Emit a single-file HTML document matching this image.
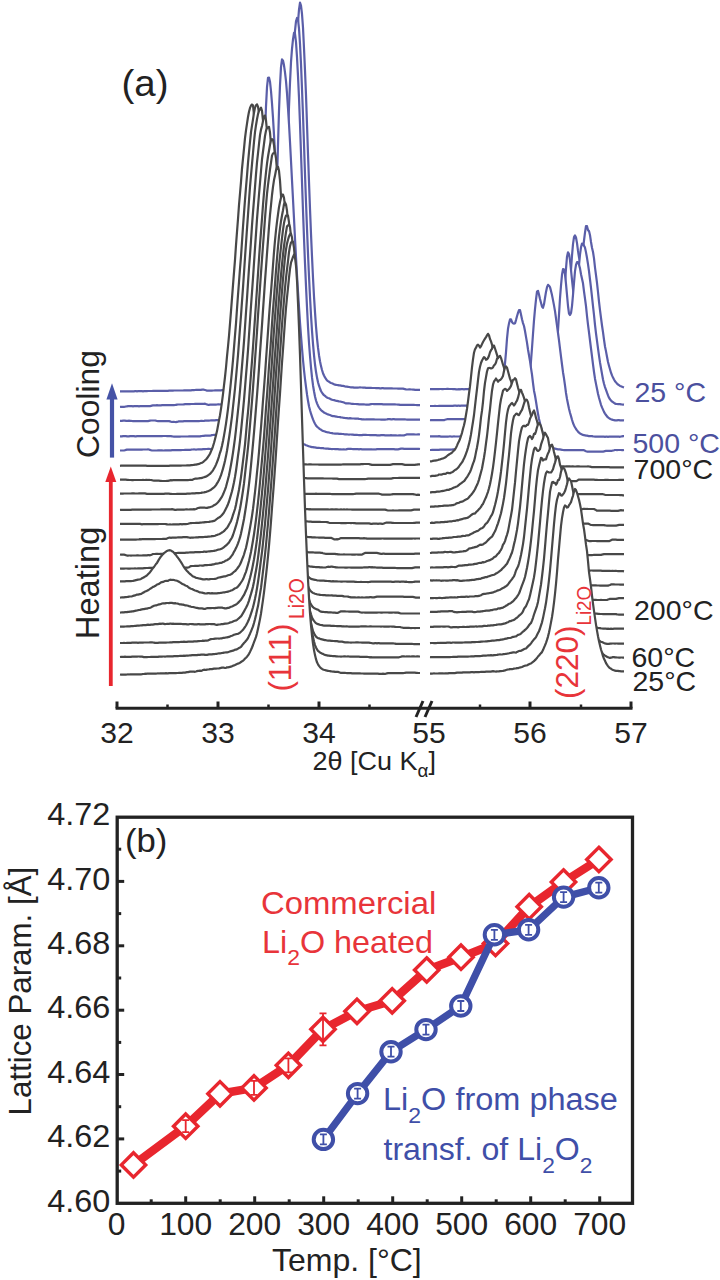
<!DOCTYPE html>
<html><head><meta charset="utf-8"><style>
html,body{margin:0;padding:0;background:#fff;width:720px;height:1280px;overflow:hidden;font-family:"Liberation Sans",sans-serif}
</style></head><body>
<svg width="720" height="1280" viewBox="0 0 720 1280" style="position:absolute;left:0;top:0">
<rect width="720" height="1280" fill="#ffffff"/>
<polygon points="120,391.3 121,391.3 122,391.3 123,391.3 124,391.3 125,391.3 126,391.3 127,391.3 128,391.3 129,391.3 130,391.3 131,391.3 132,391.3 133,391.3 134,391.3 135,391.2 136,391.2 137,391.3 138,391.2 139,391.2 140,391.2 141,391.2 142,391.2 143,391.3 144,391.2 145,391.2 146,391.2 147,391.1 148,391 149,391 150,391 151,391 152,391 153,390.9 154,390.9 155,390.9 156,390.9 157,390.9 158,390.9 159,390.9 160,390.9 161,390.9 162,390.8 163,390.9 164,390.8 165,390.8 166,390.8 167,390.9 168,390.8 169,390.7 170,390.6 171,390.5 172,390.6 173,390.6 174,390.5 175,390.5 176,390.5 177,390.5 178,390.5 179,390.5 180,390.5 181,390.5 182,390.5 183,390.5 184,390.4 185,390.4 186,390.4 187,390.4 188,390.4 189,390.3 190,390.3 191,390.3 192,390.2 193,390.2 194,390.1 195,390 196,389.9 197,389.9 198,389.8 199,389.8 200,389.8 201,389.8 202,389.7 203,389.7 204,389.7 205,390 206,390.3 207,390.7 208,390.6 209,390.6 210,390.6 211,390.6 212,390.6 213,390.5 214,390.5 215,390.4 216,390.4 217,390.3 218,390.4 219,390.3 220,390.3 221,390.3 222,390.2 223,390.2 224,390.2 225,390.2 226,390 227,390.1 228,390.1 229,390 230,389.9 231,389.9 232,389.7 233,389.5 234,389.4 235,389.3 236,389.2 237,389.1 238,389.1 239,389.2 240,389.3 241,389.2 242,389.2 243,389 244,388.9 245,388.8 246,388.8 247,388.7 248,388.6 249,388.4 250,388.3 251,388.4 252,388.2 253,387.9 254,387.8 255,387.8 256,387.5 257,387.2 258,387.1 259,386.8 260,386.7 261,386.5 262,386.2 263,385.7 264,385.2 265,384.7 266,384.3 267,383.8 268,383.3 269,383 270,382.6 271,381.9 272,381.3 273,380.5 274,379.6 275,378.7 276,377.6 277,376 278,374.1 279,371.8 280,368.7 281,364.4 282,358.6 283,351 284,342 285,331 286,316.2 287,298.6 288,278.2 289,254.5 290,227.8 291,198.1 292,167.7 293,136.3 294,105.9 295,79.5 296,55.8 297,36.9 298,22 299,9.7 300,2.7 301,5.7 302,14 303,27.6 304,48.2 305,70.5 306,95 307,124.2 308,154 309,181.9 310,208.9 311,233.9 312,256.5 313,277.7 314,296.5 315,312.1 316,326.3 317,338.2 318,347.7 319,355.2 320,361.2 321,366.1 322,370 323,373.2 324,375.5 325,377.4 326,379 327,380.3 328,381.1 329,381.7 330,382.5 331,383 332,383.3 333,383.7 334,384.3 335,384.7 336,384.8 337,385 338,385.2 339,385.4 340,385.4 341,385.6 342,385.8 343,385.8 344,386.1 345,386.5 346,386.7 347,386.7 348,386.8 349,387 350,387.2 351,387.3 352,387.3 353,387.4 354,387.6 355,387.7 356,387.7 357,387.7 358,387.6 359,387.5 360,387.4 361,387.5 362,387.5 363,387.6 364,387.6 365,387.7 366,387.9 367,387.8 368,387.8 369,387.9 370,387.8 371,387.8 372,388 373,388 374,388 375,388 376,388.1 377,388.2 378,388.2 379,388.2 380,388.3 381,388.3 382,388.2 383,388.2 384,388.3 385,388.4 386,388.4 387,388.4 388,388.4 389,388.4 390,388.4 391,388.4 392,388.4 393,388.5 394,388.5 395,388.5 396,388.5 397,388.5 398,388.6 399,388.6 400,388.6 401,388.6 402,388.5 403,388.6 404,388.9 405,389.2 406,389.4 407,389.5 408,389.5 409,389.4 410,389.4 411,389.5 412,389.5 413,389.6 414,389.7 415,389.8 416,389.8 417,389.8 418,389.8 419,389.8 420,389.8 420,392.9 120,393.4" fill="#fff"/><polyline points="120,391.3 121,391.3 122,391.3 123,391.3 124,391.3 125,391.3 126,391.3 127,391.3 128,391.3 129,391.3 130,391.3 131,391.3 132,391.3 133,391.3 134,391.3 135,391.2 136,391.2 137,391.3 138,391.2 139,391.2 140,391.2 141,391.2 142,391.2 143,391.3 144,391.2 145,391.2 146,391.2 147,391.1 148,391 149,391 150,391 151,391 152,391 153,390.9 154,390.9 155,390.9 156,390.9 157,390.9 158,390.9 159,390.9 160,390.9 161,390.9 162,390.8 163,390.9 164,390.8 165,390.8 166,390.8 167,390.9 168,390.8 169,390.7 170,390.6 171,390.5 172,390.6 173,390.6 174,390.5 175,390.5 176,390.5 177,390.5 178,390.5 179,390.5 180,390.5 181,390.5 182,390.5 183,390.5 184,390.4 185,390.4 186,390.4 187,390.4 188,390.4 189,390.3 190,390.3 191,390.3 192,390.2 193,390.2 194,390.1 195,390 196,389.9 197,389.9 198,389.8 199,389.8 200,389.8 201,389.8 202,389.7 203,389.7 204,389.7 205,390 206,390.3 207,390.7 208,390.6 209,390.6 210,390.6 211,390.6 212,390.6 213,390.5 214,390.5 215,390.4 216,390.4 217,390.3 218,390.4 219,390.3 220,390.3 221,390.3 222,390.2 223,390.2 224,390.2 225,390.2 226,390 227,390.1 228,390.1 229,390 230,389.9 231,389.9 232,389.7 233,389.5 234,389.4 235,389.3 236,389.2 237,389.1 238,389.1 239,389.2 240,389.3 241,389.2 242,389.2 243,389 244,388.9 245,388.8 246,388.8 247,388.7 248,388.6 249,388.4 250,388.3 251,388.4 252,388.2 253,387.9 254,387.8 255,387.8 256,387.5 257,387.2 258,387.1 259,386.8 260,386.7 261,386.5 262,386.2 263,385.7 264,385.2 265,384.7 266,384.3 267,383.8 268,383.3 269,383 270,382.6 271,381.9 272,381.3 273,380.5 274,379.6 275,378.7 276,377.6 277,376 278,374.1 279,371.8 280,368.7 281,364.4 282,358.6 283,351 284,342 285,331 286,316.2 287,298.6 288,278.2 289,254.5 290,227.8 291,198.1 292,167.7 293,136.3 294,105.9 295,79.5 296,55.8 297,36.9 298,22 299,9.7 300,2.7 301,5.7 302,14 303,27.6 304,48.2 305,70.5 306,95 307,124.2 308,154 309,181.9 310,208.9 311,233.9 312,256.5 313,277.7 314,296.5 315,312.1 316,326.3 317,338.2 318,347.7 319,355.2 320,361.2 321,366.1 322,370 323,373.2 324,375.5 325,377.4 326,379 327,380.3 328,381.1 329,381.7 330,382.5 331,383 332,383.3 333,383.7 334,384.3 335,384.7 336,384.8 337,385 338,385.2 339,385.4 340,385.4 341,385.6 342,385.8 343,385.8 344,386.1 345,386.5 346,386.7 347,386.7 348,386.8 349,387 350,387.2 351,387.3 352,387.3 353,387.4 354,387.6 355,387.7 356,387.7 357,387.7 358,387.6 359,387.5 360,387.4 361,387.5 362,387.5 363,387.6 364,387.6 365,387.7 366,387.9 367,387.8 368,387.8 369,387.9 370,387.8 371,387.8 372,388 373,388 374,388 375,388 376,388.1 377,388.2 378,388.2 379,388.2 380,388.3 381,388.3 382,388.2 383,388.2 384,388.3 385,388.4 386,388.4 387,388.4 388,388.4 389,388.4 390,388.4 391,388.4 392,388.4 393,388.5 394,388.5 395,388.5 396,388.5 397,388.5 398,388.6 399,388.6 400,388.6 401,388.6 402,388.5 403,388.6 404,388.9 405,389.2 406,389.4 407,389.5 408,389.5 409,389.4 410,389.4 411,389.5 412,389.5 413,389.6 414,389.7 415,389.8 416,389.8 417,389.8 418,389.8 419,389.8 420,389.8" fill="none" stroke="#5a5ea8" stroke-width="2.2" stroke-linejoin="round"/>
<polygon points="120,406.9 121,406.8 122,406.9 123,406.8 124,406.8 125,406.7 126,406.5 127,406.3 128,406.2 129,406.2 130,406.2 131,406.2 132,406.2 133,406.3 134,406.2 135,406.2 136,406.2 137,406.2 138,406.2 139,406.3 140,406.2 141,406.2 142,406.2 143,406.2 144,406.2 145,406.1 146,406.1 147,406.1 148,406.2 149,406.2 150,406.2 151,405.9 152,405.6 153,405.3 154,405.3 155,405.3 156,405.3 157,405.2 158,405.3 159,405.3 160,405.3 161,405.3 162,405.2 163,405.2 164,405.2 165,405.2 166,405.2 167,405.2 168,405.2 169,405.2 170,405.1 171,405.2 172,405.2 173,405.1 174,405.1 175,405 176,404.8 177,404.6 178,404.5 179,404.5 180,404.5 181,404.5 182,404.5 183,404.5 184,404.3 185,404.2 186,404.1 187,404.1 188,404.1 189,404.1 190,404.1 191,404 192,404 193,404 194,404 195,403.9 196,403.9 197,403.9 198,403.9 199,403.8 200,403.8 201,403.9 202,403.8 203,403.8 204,403.8 205,403.7 206,404.1 207,404.4 208,404.8 209,404.8 210,404.7 211,404.7 212,404.6 213,404.6 214,404.6 215,404.6 216,404.6 217,404.5 218,404.4 219,404.4 220,404.5 221,404.4 222,404.3 223,404.2 224,404.2 225,404.2 226,404.1 227,404 228,404.1 229,404.1 230,404 231,404 232,404 233,404 234,403.9 235,403.8 236,403.8 237,403.7 238,403.6 239,403.6 240,403.4 241,403.2 242,403.3 243,403.3 244,403.1 245,403 246,402.9 247,402.8 248,402.8 249,402.6 250,402.2 251,402.1 252,401.9 253,401.9 254,401.8 255,401.5 256,401.1 257,401 258,401.1 259,400.7 260,400.4 261,400.2 262,399.9 263,399.6 264,399 265,398.6 266,398 267,397.8 268,397.4 269,396.6 270,395.7 271,394.6 272,393.7 273,392.7 274,391.2 275,389.3 276,386.6 277,383.4 278,379.3 279,373.9 280,367.1 281,357.4 282,344.9 283,330.3 284,312.5 285,291.2 286,267.1 287,239.7 288,210.4 289,179.8 290,148.2 291,117.8 292,89.5 293,65 294,45.4 295,30.7 296,21.4 297,18 298,19.4 299,28.5 300,43.9 301,63.9 302,89 303,115.3 304,144.1 305,174.1 306,202.2 307,228.8 308,253.6 309,276.2 310,296.8 311,315.1 312,330.8 313,343.9 314,355.1 315,364.5 316,371.8 317,377.6 318,382.3 319,385.7 320,388.5 321,391 322,392.7 323,394.1 324,395.1 325,395.9 326,396.8 327,397.5 328,398 329,398.3 330,398.8 331,399.4 332,399.7 333,400 334,400.1 335,400.4 336,400.8 337,400.8 338,401.2 339,401.4 340,401.5 341,401.7 342,402 343,402.2 344,402.5 345,403 346,403.4 347,403.4 348,403.4 349,403.4 350,403.5 351,403.7 352,403.8 353,403.9 354,404 355,404 356,404 357,404.1 358,404.2 359,404.3 360,404.3 361,404.3 362,404.4 363,404.4 364,404.4 365,404.5 366,404.6 367,404.6 368,404.6 369,404.6 370,404.4 371,404.2 372,404 373,404 374,404.2 375,404.2 376,404.2 377,404.2 378,404.2 379,404.1 380,404.1 381,404.2 382,404.2 383,404.3 384,404.3 385,404.3 386,404.3 387,404.3 388,404.3 389,404.3 390,404.4 391,404.4 392,404.4 393,404.4 394,404.4 395,404.4 396,404.5 397,404.5 398,404.6 399,404.6 400,404.8 401,404.8 402,404.9 403,404.8 404,404.8 405,404.8 406,404.9 407,404.8 408,404.9 409,404.9 410,404.9 411,404.9 412,404.9 413,404.9 414,404.9 415,405 416,405 417,405.1 418,405.1 419,405.1 420,405.1 420,407.5 120,408" fill="#fff"/><polyline points="120,406.9 121,406.8 122,406.9 123,406.8 124,406.8 125,406.7 126,406.5 127,406.3 128,406.2 129,406.2 130,406.2 131,406.2 132,406.2 133,406.3 134,406.2 135,406.2 136,406.2 137,406.2 138,406.2 139,406.3 140,406.2 141,406.2 142,406.2 143,406.2 144,406.2 145,406.1 146,406.1 147,406.1 148,406.2 149,406.2 150,406.2 151,405.9 152,405.6 153,405.3 154,405.3 155,405.3 156,405.3 157,405.2 158,405.3 159,405.3 160,405.3 161,405.3 162,405.2 163,405.2 164,405.2 165,405.2 166,405.2 167,405.2 168,405.2 169,405.2 170,405.1 171,405.2 172,405.2 173,405.1 174,405.1 175,405 176,404.8 177,404.6 178,404.5 179,404.5 180,404.5 181,404.5 182,404.5 183,404.5 184,404.3 185,404.2 186,404.1 187,404.1 188,404.1 189,404.1 190,404.1 191,404 192,404 193,404 194,404 195,403.9 196,403.9 197,403.9 198,403.9 199,403.8 200,403.8 201,403.9 202,403.8 203,403.8 204,403.8 205,403.7 206,404.1 207,404.4 208,404.8 209,404.8 210,404.7 211,404.7 212,404.6 213,404.6 214,404.6 215,404.6 216,404.6 217,404.5 218,404.4 219,404.4 220,404.5 221,404.4 222,404.3 223,404.2 224,404.2 225,404.2 226,404.1 227,404 228,404.1 229,404.1 230,404 231,404 232,404 233,404 234,403.9 235,403.8 236,403.8 237,403.7 238,403.6 239,403.6 240,403.4 241,403.2 242,403.3 243,403.3 244,403.1 245,403 246,402.9 247,402.8 248,402.8 249,402.6 250,402.2 251,402.1 252,401.9 253,401.9 254,401.8 255,401.5 256,401.1 257,401 258,401.1 259,400.7 260,400.4 261,400.2 262,399.9 263,399.6 264,399 265,398.6 266,398 267,397.8 268,397.4 269,396.6 270,395.7 271,394.6 272,393.7 273,392.7 274,391.2 275,389.3 276,386.6 277,383.4 278,379.3 279,373.9 280,367.1 281,357.4 282,344.9 283,330.3 284,312.5 285,291.2 286,267.1 287,239.7 288,210.4 289,179.8 290,148.2 291,117.8 292,89.5 293,65 294,45.4 295,30.7 296,21.4 297,18 298,19.4 299,28.5 300,43.9 301,63.9 302,89 303,115.3 304,144.1 305,174.1 306,202.2 307,228.8 308,253.6 309,276.2 310,296.8 311,315.1 312,330.8 313,343.9 314,355.1 315,364.5 316,371.8 317,377.6 318,382.3 319,385.7 320,388.5 321,391 322,392.7 323,394.1 324,395.1 325,395.9 326,396.8 327,397.5 328,398 329,398.3 330,398.8 331,399.4 332,399.7 333,400 334,400.1 335,400.4 336,400.8 337,400.8 338,401.2 339,401.4 340,401.5 341,401.7 342,402 343,402.2 344,402.5 345,403 346,403.4 347,403.4 348,403.4 349,403.4 350,403.5 351,403.7 352,403.8 353,403.9 354,404 355,404 356,404 357,404.1 358,404.2 359,404.3 360,404.3 361,404.3 362,404.4 363,404.4 364,404.4 365,404.5 366,404.6 367,404.6 368,404.6 369,404.6 370,404.4 371,404.2 372,404 373,404 374,404.2 375,404.2 376,404.2 377,404.2 378,404.2 379,404.1 380,404.1 381,404.2 382,404.2 383,404.3 384,404.3 385,404.3 386,404.3 387,404.3 388,404.3 389,404.3 390,404.4 391,404.4 392,404.4 393,404.4 394,404.4 395,404.4 396,404.5 397,404.5 398,404.6 399,404.6 400,404.8 401,404.8 402,404.9 403,404.8 404,404.8 405,404.8 406,404.9 407,404.8 408,404.9 409,404.9 410,404.9 411,404.9 412,404.9 413,404.9 414,404.9 415,405 416,405 417,405.1 418,405.1 419,405.1 420,405.1" fill="none" stroke="#5a5ea8" stroke-width="2.2" stroke-linejoin="round"/>
<polygon points="120,420.8 121,420.8 122,420.8 123,420.7 124,420.7 125,420.7 126,420.8 127,420.8 128,420.8 129,420.7 130,420.8 131,420.9 132,421 133,421.2 134,421.2 135,421.2 136,421.2 137,421.2 138,421.2 139,421.2 140,421.2 141,421.1 142,421.1 143,421.2 144,421.1 145,421.2 146,421.1 147,421.1 148,421.1 149,420.9 150,420.7 151,420.5 152,420.5 153,420.5 154,420.5 155,420.5 156,420.7 157,421 158,421.2 159,421.1 160,421.1 161,421.1 162,421.1 163,421.1 164,421.1 165,421.1 166,421.1 167,421.1 168,421.1 169,421.1 170,421.4 171,421.7 172,422 173,421.9 174,421.9 175,422 176,422.1 177,421.8 178,421.6 179,421.3 180,421.3 181,421.3 182,421.3 183,421.3 184,421.2 185,421.2 186,421.2 187,421.2 188,421.2 189,421.2 190,421.2 191,421.1 192,421.1 193,421.1 194,421.1 195,421 196,421.1 197,421.1 198,421 199,421.1 200,421 201,420.9 202,420.9 203,421 204,420.9 205,420.7 206,420.6 207,420.5 208,420.6 209,420.6 210,420.5 211,420.4 212,420.4 213,420.3 214,420.3 215,420.3 216,420.2 217,420.2 218,420.1 219,420.1 220,420.1 221,420.1 222,420.1 223,420.1 224,419.9 225,419.8 226,419.8 227,419.7 228,419.7 229,419.7 230,419.5 231,419.4 232,419.3 233,419.1 234,419 235,419 236,418.9 237,418.8 238,418.8 239,418.6 240,418.6 241,418.4 242,418 243,417.7 244,417.4 245,417.2 246,417.1 247,417.1 248,416.8 249,416.5 250,416.4 251,416.3 252,416.1 253,415.9 254,415.6 255,415.4 256,415.3 257,415.1 258,415 259,414.9 260,414.4 261,413.8 262,413.3 263,413 264,412.4 265,411.7 266,411.2 267,410.4 268,409.5 269,408.5 270,407.2 271,405.3 272,403.5 273,401.1 274,397.9 275,393.3 276,387.6 277,380.9 278,371.8 279,359.9 280,345 281,327.6 282,306.8 283,282 284,254.7 285,226.4 286,196.1 287,164.9 288,134.4 289,106.7 290,82.7 291,62.2 292,48.8 293,39.3 294,32.8 295,33.8 296,42.1 297,57.1 298,75.9 299,97.7 300,124.3 301,153.3 302,182.2 303,211 304,238.2 305,263.3 306,286.1 307,307.2 308,326.7 309,342.7 310,355.9 311,367.3 312,377.4 313,385.2 314,391.3 315,396.5 316,400.5 317,403.3 318,405.7 319,407.5 320,409 321,410.1 322,411 323,411.7 324,412.6 325,413.1 326,413.5 327,414 328,414.4 329,414.7 330,415 331,415.4 332,415.9 333,416.2 334,416.2 335,416.3 336,416.6 337,416.7 338,417 339,417 340,417.1 341,417.4 342,417.5 343,417.7 344,417.8 345,418 346,418.1 347,418.2 348,418.3 349,418.4 350,418.2 351,418.3 352,418.5 353,418.5 354,418.5 355,418.6 356,418.7 357,418.7 358,418.7 359,418.9 360,419 361,419.1 362,419.3 363,419.3 364,419.4 365,419.5 366,419.4 367,419.3 368,419.4 369,419.4 370,419.3 371,419.4 372,419.4 373,419.4 374,419.4 375,419.5 376,419.5 377,419.5 378,419.5 379,419.5 380,419.5 381,419.6 382,419.6 383,419.7 384,419.7 385,419.7 386,419.5 387,419.4 388,419.2 389,419.2 390,419.2 391,419.3 392,419.3 393,419.2 394,419.2 395,419.3 396,419.3 397,419.3 398,419.3 399,419.3 400,419.3 401,419.3 402,419.4 403,419.3 404,419.3 405,419.4 406,419.5 407,419.6 408,419.6 409,419.6 410,419.6 411,419.6 412,419.6 413,419.6 414,419.7 415,419.7 416,419.7 417,419.7 418,419.7 419,419.7 420,419.7 420,422.5 120,423" fill="#fff"/><polyline points="120,420.8 121,420.8 122,420.8 123,420.7 124,420.7 125,420.7 126,420.8 127,420.8 128,420.8 129,420.7 130,420.8 131,420.9 132,421 133,421.2 134,421.2 135,421.2 136,421.2 137,421.2 138,421.2 139,421.2 140,421.2 141,421.1 142,421.1 143,421.2 144,421.1 145,421.2 146,421.1 147,421.1 148,421.1 149,420.9 150,420.7 151,420.5 152,420.5 153,420.5 154,420.5 155,420.5 156,420.7 157,421 158,421.2 159,421.1 160,421.1 161,421.1 162,421.1 163,421.1 164,421.1 165,421.1 166,421.1 167,421.1 168,421.1 169,421.1 170,421.4 171,421.7 172,422 173,421.9 174,421.9 175,422 176,422.1 177,421.8 178,421.6 179,421.3 180,421.3 181,421.3 182,421.3 183,421.3 184,421.2 185,421.2 186,421.2 187,421.2 188,421.2 189,421.2 190,421.2 191,421.1 192,421.1 193,421.1 194,421.1 195,421 196,421.1 197,421.1 198,421 199,421.1 200,421 201,420.9 202,420.9 203,421 204,420.9 205,420.7 206,420.6 207,420.5 208,420.6 209,420.6 210,420.5 211,420.4 212,420.4 213,420.3 214,420.3 215,420.3 216,420.2 217,420.2 218,420.1 219,420.1 220,420.1 221,420.1 222,420.1 223,420.1 224,419.9 225,419.8 226,419.8 227,419.7 228,419.7 229,419.7 230,419.5 231,419.4 232,419.3 233,419.1 234,419 235,419 236,418.9 237,418.8 238,418.8 239,418.6 240,418.6 241,418.4 242,418 243,417.7 244,417.4 245,417.2 246,417.1 247,417.1 248,416.8 249,416.5 250,416.4 251,416.3 252,416.1 253,415.9 254,415.6 255,415.4 256,415.3 257,415.1 258,415 259,414.9 260,414.4 261,413.8 262,413.3 263,413 264,412.4 265,411.7 266,411.2 267,410.4 268,409.5 269,408.5 270,407.2 271,405.3 272,403.5 273,401.1 274,397.9 275,393.3 276,387.6 277,380.9 278,371.8 279,359.9 280,345 281,327.6 282,306.8 283,282 284,254.7 285,226.4 286,196.1 287,164.9 288,134.4 289,106.7 290,82.7 291,62.2 292,48.8 293,39.3 294,32.8 295,33.8 296,42.1 297,57.1 298,75.9 299,97.7 300,124.3 301,153.3 302,182.2 303,211 304,238.2 305,263.3 306,286.1 307,307.2 308,326.7 309,342.7 310,355.9 311,367.3 312,377.4 313,385.2 314,391.3 315,396.5 316,400.5 317,403.3 318,405.7 319,407.5 320,409 321,410.1 322,411 323,411.7 324,412.6 325,413.1 326,413.5 327,414 328,414.4 329,414.7 330,415 331,415.4 332,415.9 333,416.2 334,416.2 335,416.3 336,416.6 337,416.7 338,417 339,417 340,417.1 341,417.4 342,417.5 343,417.7 344,417.8 345,418 346,418.1 347,418.2 348,418.3 349,418.4 350,418.2 351,418.3 352,418.5 353,418.5 354,418.5 355,418.6 356,418.7 357,418.7 358,418.7 359,418.9 360,419 361,419.1 362,419.3 363,419.3 364,419.4 365,419.5 366,419.4 367,419.3 368,419.4 369,419.4 370,419.3 371,419.4 372,419.4 373,419.4 374,419.4 375,419.5 376,419.5 377,419.5 378,419.5 379,419.5 380,419.5 381,419.6 382,419.6 383,419.7 384,419.7 385,419.7 386,419.5 387,419.4 388,419.2 389,419.2 390,419.2 391,419.3 392,419.3 393,419.2 394,419.2 395,419.3 396,419.3 397,419.3 398,419.3 399,419.3 400,419.3 401,419.3 402,419.4 403,419.3 404,419.3 405,419.4 406,419.5 407,419.6 408,419.6 409,419.6 410,419.6 411,419.6 412,419.6 413,419.6 414,419.7 415,419.7 416,419.7 417,419.7 418,419.7 419,419.7 420,419.7" fill="none" stroke="#5a5ea8" stroke-width="2.2" stroke-linejoin="round"/>
<polygon points="120,436.3 121,436.3 122,436.3 123,436.2 124,436.2 125,436.2 126,436.2 127,436.3 128,436.3 129,436.3 130,436.2 131,436.2 132,436.2 133,436.2 134,436.2 135,436.3 136,436.3 137,436.2 138,436.2 139,436.2 140,436.2 141,436.2 142,436.2 143,436.2 144,436.2 145,436.1 146,436.2 147,436.2 148,436.1 149,436.1 150,436.1 151,436.1 152,436.2 153,436.2 154,436.1 155,436.1 156,436.1 157,436.1 158,436.1 159,436 160,436.1 161,436.1 162,436.1 163,436 164,436 165,436 166,436 167,436.1 168,436.1 169,436.1 170,436.1 171,436.2 172,436.3 173,436.5 174,436.7 175,436.7 176,436.6 177,436.6 178,436.6 179,436.6 180,436.6 181,436.5 182,436.5 183,436.5 184,436.5 185,436.5 186,436.5 187,436.5 188,436.5 189,436.4 190,436.4 191,436.4 192,436.4 193,436.4 194,436.3 195,436.4 196,436.4 197,436.3 198,436.3 199,436.4 200,436.3 201,436.1 202,436 203,435.9 204,435.8 205,435.7 206,435.7 207,435.6 208,435.6 209,435.6 210,435.6 211,435.4 212,435.1 213,435 214,434.9 215,434.9 216,434.9 217,434.9 218,434.8 219,434.9 220,435 221,435 222,435 223,434.9 224,434.8 225,434.8 226,434.8 227,434.6 228,434.6 229,434.5 230,434.4 231,434.4 232,434.3 233,434.2 234,434 235,433.8 236,433.6 237,433.5 238,433.5 239,433.4 240,433.2 241,432.9 242,432.9 243,432.8 244,432.6 245,432.4 246,432.3 247,432.1 248,431.7 249,431.8 250,432 251,432 252,431.5 253,431.2 254,430.7 255,430.2 256,429.8 257,429.4 258,428.7 259,427.7 260,426.8 261,425.9 262,424.8 263,423.1 264,420.5 265,417.2 266,412.8 267,407.4 268,399.8 269,389.2 270,375.9 271,359.3 272,338.9 273,313.8 274,284.6 275,251.5 276,215.8 277,181 278,144.6 279,110.7 280,85.2 281,67.1 282,59.3 283,60.6 284,65.3 285,72.4 286,81.1 287,93.3 288,108.2 289,124 290,142 291,161 292,180.4 293,199.2 294,218.6 295,238.5 296,257.2 297,275.2 298,291.7 299,307.2 300,322.5 301,335.9 302,348.4 303,360 304,370.1 305,379 306,386.9 307,394.4 308,400.8 309,406.3 310,410.3 311,413.7 312,416.6 313,419.4 314,421.7 315,423.7 316,425.5 317,426.7 318,427.5 319,428.3 320,429.1 321,429.7 322,430.5 323,431 324,431.2 325,431.5 326,432 327,432.2 328,432.3 329,432.5 330,432.8 331,433 332,433.2 333,433.4 334,433.5 335,433.7 336,433.7 337,433.7 338,433.7 339,433.8 340,433.8 341,433.9 342,434 343,434 344,434.2 345,434.3 346,434.4 347,434.4 348,434.5 349,434.6 350,434.5 351,434.5 352,434.6 353,434.7 354,434.8 355,434.9 356,434.9 357,434.9 358,435 359,435.1 360,435 361,435.1 362,435.1 363,434.9 364,434.9 365,434.9 366,434.9 367,435 368,435 369,435 370,435.1 371,435.1 372,435.2 373,435.2 374,435.2 375,435.2 376,435.2 377,435.3 378,435.3 379,435.3 380,435.3 381,435.2 382,435.1 383,435.2 384,435.2 385,435.3 386,435.3 387,435.3 388,435.4 389,435.3 390,435.3 391,435.2 392,435.3 393,435.4 394,435.4 395,435.4 396,435.4 397,435.5 398,435.5 399,435.4 400,435.4 401,435.4 402,435.5 403,435.4 404,435.5 405,435.1 406,434.7 407,434.3 408,434.3 409,434.3 410,434.4 411,434.4 412,434.4 413,434.4 414,434.4 415,434.5 416,434.5 417,434.5 418,434.4 419,434.4 420,434.5 420,438.2 120,438.7" fill="#fff"/><polyline points="120,436.3 121,436.3 122,436.3 123,436.2 124,436.2 125,436.2 126,436.2 127,436.3 128,436.3 129,436.3 130,436.2 131,436.2 132,436.2 133,436.2 134,436.2 135,436.3 136,436.3 137,436.2 138,436.2 139,436.2 140,436.2 141,436.2 142,436.2 143,436.2 144,436.2 145,436.1 146,436.2 147,436.2 148,436.1 149,436.1 150,436.1 151,436.1 152,436.2 153,436.2 154,436.1 155,436.1 156,436.1 157,436.1 158,436.1 159,436 160,436.1 161,436.1 162,436.1 163,436 164,436 165,436 166,436 167,436.1 168,436.1 169,436.1 170,436.1 171,436.2 172,436.3 173,436.5 174,436.7 175,436.7 176,436.6 177,436.6 178,436.6 179,436.6 180,436.6 181,436.5 182,436.5 183,436.5 184,436.5 185,436.5 186,436.5 187,436.5 188,436.5 189,436.4 190,436.4 191,436.4 192,436.4 193,436.4 194,436.3 195,436.4 196,436.4 197,436.3 198,436.3 199,436.4 200,436.3 201,436.1 202,436 203,435.9 204,435.8 205,435.7 206,435.7 207,435.6 208,435.6 209,435.6 210,435.6 211,435.4 212,435.1 213,435 214,434.9 215,434.9 216,434.9 217,434.9 218,434.8 219,434.9 220,435 221,435 222,435 223,434.9 224,434.8 225,434.8 226,434.8 227,434.6 228,434.6 229,434.5 230,434.4 231,434.4 232,434.3 233,434.2 234,434 235,433.8 236,433.6 237,433.5 238,433.5 239,433.4 240,433.2 241,432.9 242,432.9 243,432.8 244,432.6 245,432.4 246,432.3 247,432.1 248,431.7 249,431.8 250,432 251,432 252,431.5 253,431.2 254,430.7 255,430.2 256,429.8 257,429.4 258,428.7 259,427.7 260,426.8 261,425.9 262,424.8 263,423.1 264,420.5 265,417.2 266,412.8 267,407.4 268,399.8 269,389.2 270,375.9 271,359.3 272,338.9 273,313.8 274,284.6 275,251.5 276,215.8 277,181 278,144.6 279,110.7 280,85.2 281,67.1 282,59.3 283,60.6 284,65.3 285,72.4 286,81.1 287,93.3 288,108.2 289,124 290,142 291,161 292,180.4 293,199.2 294,218.6 295,238.5 296,257.2 297,275.2 298,291.7 299,307.2 300,322.5 301,335.9 302,348.4 303,360 304,370.1 305,379 306,386.9 307,394.4 308,400.8 309,406.3 310,410.3 311,413.7 312,416.6 313,419.4 314,421.7 315,423.7 316,425.5 317,426.7 318,427.5 319,428.3 320,429.1 321,429.7 322,430.5 323,431 324,431.2 325,431.5 326,432 327,432.2 328,432.3 329,432.5 330,432.8 331,433 332,433.2 333,433.4 334,433.5 335,433.7 336,433.7 337,433.7 338,433.7 339,433.8 340,433.8 341,433.9 342,434 343,434 344,434.2 345,434.3 346,434.4 347,434.4 348,434.5 349,434.6 350,434.5 351,434.5 352,434.6 353,434.7 354,434.8 355,434.9 356,434.9 357,434.9 358,435 359,435.1 360,435 361,435.1 362,435.1 363,434.9 364,434.9 365,434.9 366,434.9 367,435 368,435 369,435 370,435.1 371,435.1 372,435.2 373,435.2 374,435.2 375,435.2 376,435.2 377,435.3 378,435.3 379,435.3 380,435.3 381,435.2 382,435.1 383,435.2 384,435.2 385,435.3 386,435.3 387,435.3 388,435.4 389,435.3 390,435.3 391,435.2 392,435.3 393,435.4 394,435.4 395,435.4 396,435.4 397,435.5 398,435.5 399,435.4 400,435.4 401,435.4 402,435.5 403,435.4 404,435.5 405,435.1 406,434.7 407,434.3 408,434.3 409,434.3 410,434.4 411,434.4 412,434.4 413,434.4 414,434.4 415,434.5 416,434.5 417,434.5 418,434.4 419,434.4 420,434.5" fill="none" stroke="#5a5ea8" stroke-width="2.2" stroke-linejoin="round"/>
<polygon points="120,450.5 121,450.5 122,450.5 123,450.5 124,450.5 125,450.2 126,449.9 127,449.6 128,449.6 129,449.6 130,449.6 131,449.6 132,449.6 133,449.6 134,449.6 135,449.6 136,449.6 137,449.5 138,449.6 139,449.6 140,449.6 141,449.5 142,449.6 143,449.5 144,449.5 145,449.5 146,449.5 147,449.5 148,449.4 149,449.5 150,449.9 151,450.2 152,450.5 153,450.5 154,450.5 155,450.5 156,450.5 157,450.5 158,450.4 159,450.4 160,450.4 161,450.4 162,450.4 163,450.5 164,450.5 165,450.4 166,450.4 167,450.4 168,450.4 169,450.4 170,450.3 171,450.3 172,450.2 173,450.2 174,450.2 175,450.2 176,450.2 177,450.2 178,450.2 179,450.1 180,450.1 181,450.1 182,450 183,450 184,450 185,449.9 186,449.9 187,449.9 188,449.8 189,449.9 190,449.8 191,449.7 192,449.5 193,449.5 194,449.4 195,449.5 196,449.6 197,449.5 198,449.4 199,449.4 200,449.3 201,449.3 202,449.3 203,449.2 204,449.2 205,449.1 206,449 207,449 208,448.9 209,448.9 210,449 211,449.1 212,449.2 213,449.2 214,449.1 215,448.9 216,448.9 217,448.9 218,448.9 219,448.8 220,448.7 221,448.6 222,448.4 223,448.7 224,449.1 225,449.2 226,449.2 227,449.3 228,449 229,448.7 230,448.6 231,448.4 232,448.1 233,447.8 234,447.7 235,447.5 236,447.2 237,446.9 238,446.7 239,446.1 240,445.4 241,444.7 242,444.1 243,443.8 244,443.1 245,442.3 246,441.5 247,440.3 248,439 249,437.5 250,435.2 251,432.4 252,428.6 253,423 254,415.5 255,406.1 256,393.8 257,378.1 258,359.3 259,335.6 260,307 261,274.7 262,239.5 263,202.8 264,167 265,134 266,106.4 267,87.2 268,77.8 269,77.6 270,81.7 271,91 272,103.4 273,117.8 274,134.8 275,153.3 276,172.9 277,193.5 278,216.5 279,237.1 280,257.6 281,279.2 282,298.4 283,316.4 284,333.7 285,348.8 286,362.6 287,375.2 288,386 289,395.9 290,404.4 291,411.8 292,418 293,422.9 294,427.5 295,431.4 296,434.1 297,436.3 298,438.1 299,439.8 300,441.2 301,442 302,442.9 303,444 304,444.3 305,444.6 306,445.2 307,445.5 308,445.9 309,446.3 310,446.5 311,446.9 312,447.1 313,447.1 314,447.3 315,447.4 316,447.7 317,447.8 318,447.8 319,447.9 320,448 321,448.2 322,448.1 323,448.2 324,448.4 325,448.5 326,448.7 327,448.7 328,448.6 329,448.8 330,448.9 331,449 332,449.1 333,449 334,449 335,449.1 336,449.2 337,449.2 338,449.2 339,449.3 340,449.3 341,449.4 342,449.5 343,449.4 344,449.4 345,449.5 346,449.4 347,449.1 348,448.9 349,448.9 350,448.9 351,448.9 352,449 353,449.1 354,449.1 355,449.2 356,449.2 357,449.2 358,449.2 359,449.3 360,449.2 361,449.2 362,449.3 363,449.3 364,449.3 365,449.3 366,449.3 367,449.3 368,449.4 369,449.4 370,449.4 371,449.4 372,449.4 373,449.5 374,449.4 375,449.5 376,449.3 377,449.2 378,449.1 379,449.1 380,449.1 381,449.2 382,449.2 383,449.1 384,449.2 385,449.2 386,449.2 387,449.1 388,449.2 389,449.2 390,449.2 391,449.2 392,449.2 393,449.2 394,449.2 395,449.3 396,449.3 397,449.3 398,449.3 399,449.1 400,448.9 401,448.7 402,448.7 403,448.7 404,448.8 405,448.8 406,448.8 407,448.8 408,448.9 409,448.9 410,448.9 411,448.9 412,448.9 413,448.9 414,448.9 415,448.9 416,448.9 417,448.9 418,448.9 419,448.9 420,449 420,452.1 120,452.6" fill="#fff"/><polyline points="120,450.5 121,450.5 122,450.5 123,450.5 124,450.5 125,450.2 126,449.9 127,449.6 128,449.6 129,449.6 130,449.6 131,449.6 132,449.6 133,449.6 134,449.6 135,449.6 136,449.6 137,449.5 138,449.6 139,449.6 140,449.6 141,449.5 142,449.6 143,449.5 144,449.5 145,449.5 146,449.5 147,449.5 148,449.4 149,449.5 150,449.9 151,450.2 152,450.5 153,450.5 154,450.5 155,450.5 156,450.5 157,450.5 158,450.4 159,450.4 160,450.4 161,450.4 162,450.4 163,450.5 164,450.5 165,450.4 166,450.4 167,450.4 168,450.4 169,450.4 170,450.3 171,450.3 172,450.2 173,450.2 174,450.2 175,450.2 176,450.2 177,450.2 178,450.2 179,450.1 180,450.1 181,450.1 182,450 183,450 184,450 185,449.9 186,449.9 187,449.9 188,449.8 189,449.9 190,449.8 191,449.7 192,449.5 193,449.5 194,449.4 195,449.5 196,449.6 197,449.5 198,449.4 199,449.4 200,449.3 201,449.3 202,449.3 203,449.2 204,449.2 205,449.1 206,449 207,449 208,448.9 209,448.9 210,449 211,449.1 212,449.2 213,449.2 214,449.1 215,448.9 216,448.9 217,448.9 218,448.9 219,448.8 220,448.7 221,448.6 222,448.4 223,448.7 224,449.1 225,449.2 226,449.2 227,449.3 228,449 229,448.7 230,448.6 231,448.4 232,448.1 233,447.8 234,447.7 235,447.5 236,447.2 237,446.9 238,446.7 239,446.1 240,445.4 241,444.7 242,444.1 243,443.8 244,443.1 245,442.3 246,441.5 247,440.3 248,439 249,437.5 250,435.2 251,432.4 252,428.6 253,423 254,415.5 255,406.1 256,393.8 257,378.1 258,359.3 259,335.6 260,307 261,274.7 262,239.5 263,202.8 264,167 265,134 266,106.4 267,87.2 268,77.8 269,77.6 270,81.7 271,91 272,103.4 273,117.8 274,134.8 275,153.3 276,172.9 277,193.5 278,216.5 279,237.1 280,257.6 281,279.2 282,298.4 283,316.4 284,333.7 285,348.8 286,362.6 287,375.2 288,386 289,395.9 290,404.4 291,411.8 292,418 293,422.9 294,427.5 295,431.4 296,434.1 297,436.3 298,438.1 299,439.8 300,441.2 301,442 302,442.9 303,444 304,444.3 305,444.6 306,445.2 307,445.5 308,445.9 309,446.3 310,446.5 311,446.9 312,447.1 313,447.1 314,447.3 315,447.4 316,447.7 317,447.8 318,447.8 319,447.9 320,448 321,448.2 322,448.1 323,448.2 324,448.4 325,448.5 326,448.7 327,448.7 328,448.6 329,448.8 330,448.9 331,449 332,449.1 333,449 334,449 335,449.1 336,449.2 337,449.2 338,449.2 339,449.3 340,449.3 341,449.4 342,449.5 343,449.4 344,449.4 345,449.5 346,449.4 347,449.1 348,448.9 349,448.9 350,448.9 351,448.9 352,449 353,449.1 354,449.1 355,449.2 356,449.2 357,449.2 358,449.2 359,449.3 360,449.2 361,449.2 362,449.3 363,449.3 364,449.3 365,449.3 366,449.3 367,449.3 368,449.4 369,449.4 370,449.4 371,449.4 372,449.4 373,449.5 374,449.4 375,449.5 376,449.3 377,449.2 378,449.1 379,449.1 380,449.1 381,449.2 382,449.2 383,449.1 384,449.2 385,449.2 386,449.2 387,449.1 388,449.2 389,449.2 390,449.2 391,449.2 392,449.2 393,449.2 394,449.2 395,449.3 396,449.3 397,449.3 398,449.3 399,449.1 400,448.9 401,448.7 402,448.7 403,448.7 404,448.8 405,448.8 406,448.8 407,448.8 408,448.9 409,448.9 410,448.9 411,448.9 412,448.9 413,448.9 414,448.9 415,448.9 416,448.9 417,448.9 418,448.9 419,448.9 420,449" fill="none" stroke="#5a5ea8" stroke-width="2.2" stroke-linejoin="round"/>
<polygon points="120,465.8 121,465.7 122,465.7 123,465.7 124,465.7 125,465.7 126,465.7 127,465.7 128,465.7 129,465.7 130,465.7 131,465.7 132,465.7 133,465.7 134,465.7 135,465.7 136,465.7 137,465.7 138,465.7 139,465.7 140,465.7 141,465.7 142,465.7 143,465.7 144,465.7 145,465.7 146,465.7 147,465.8 148,465.8 149,465.9 150,465.9 151,465.9 152,465.9 153,465.9 154,465.9 155,465.9 156,465.9 157,465.9 158,465.9 159,465.9 160,465.9 161,465.9 162,465.9 163,465.9 164,465.9 165,465.9 166,465.9 167,465.9 168,465.9 169,465.8 170,465.7 171,465.6 172,465.6 173,465.6 174,465.6 175,465.6 176,465.6 177,465.6 178,465.6 179,465.6 180,465.6 181,465.6 182,465.5 183,465.5 184,465.5 185,465.5 186,465.5 187,465.4 188,465.4 189,465.3 190,465.3 191,465.2 192,465.1 193,465 194,464.8 195,464.7 196,464.6 197,464.4 198,464.2 199,463.9 200,463.5 201,463.1 202,462.7 203,462.1 204,461.2 205,460.3 206,459.5 207,458.3 208,456.8 209,455.4 210,453.7 211,451.4 212,449 213,446.3 214,443 215,439.3 216,435.3 217,431.1 218,425.8 219,420.4 220,415.2 221,408.8 222,401.9 223,394.1 224,385.3 225,377 226,367.5 227,356.4 228,346.5 229,335.9 230,323.7 231,311.2 232,298.1 233,285.2 234,272.4 235,259.8 236,245.2 237,231.8 238,219 239,205 240,193.5 241,181.9 242,168.7 243,158.7 244,148.7 245,138.2 246,130.3 247,123.7 248,117 249,111.8 250,107.9 251,105.6 252,104.5 253,105.3 254,114.6 255,127.8 256,144.2 257,166.9 258,191.4 259,216 260,243.6 261,270.8 262,297.6 263,323.8 264,346.3 265,366.5 266,385.2 267,401.3 268,414.4 269,425.7 270,434.5 271,441.6 272,447.5 273,451.9 274,455.3 275,457.7 276,459.6 277,461.1 278,462.1 279,462.7 280,463.2 281,463.6 282,463.8 283,464 284,464.1 285,464.3 286,464.1 287,463.9 288,463.6 289,463.7 290,463.8 291,463.8 292,463.8 293,463.8 294,463.9 295,464 296,464.2 297,464.3 298,464.3 299,464.3 300,464.4 301,464.4 302,464.4 303,464.4 304,464.4 305,464.4 306,464.4 307,464.5 308,464.5 309,464.4 310,464.4 311,464.4 312,464.5 313,464.5 314,464.5 315,464.5 316,464.5 317,464.5 318,464.5 319,464.6 320,464.6 321,464.7 322,464.7 323,464.7 324,464.7 325,464.6 326,464.6 327,464.7 328,464.7 329,464.6 330,464.7 331,464.7 332,464.7 333,464.7 334,464.7 335,464.7 336,464.7 337,464.7 338,464.7 339,464.7 340,464.7 341,464.6 342,464.5 343,464.4 344,464.4 345,464.4 346,464.4 347,464.4 348,464.4 349,464.4 350,464.4 351,464.4 352,464.4 353,464.4 354,464.4 355,464.4 356,464.4 357,464.4 358,464.4 359,464.4 360,464.3 361,464.2 362,464.1 363,464.1 364,464 365,464 366,464 367,464 368,464 369,464 370,464.4 371,464.6 372,464.9 373,464.9 374,464.9 375,464.9 376,464.9 377,464.9 378,464.9 379,464.9 380,464.9 381,464.9 382,464.9 383,464.9 384,464.9 385,464.9 386,464.9 387,464.9 388,464.9 389,464.9 390,464.9 391,464.7 392,464.4 393,464.2 394,464.2 395,464.2 396,464.2 397,464.2 398,464.2 399,464.2 400,464.2 401,464.2 402,464.2 403,464.4 404,464.6 405,464.8 406,464.8 407,464.8 408,464.8 409,464.8 410,464.8 411,464.8 412,464.8 413,464.8 414,464.8 415,464.8 416,464.7 417,464.6 418,464.4 419,464.4 420,464.4 420,466.6 120,467.6" fill="#fff"/><polyline points="120,465.8 121,465.7 122,465.7 123,465.7 124,465.7 125,465.7 126,465.7 127,465.7 128,465.7 129,465.7 130,465.7 131,465.7 132,465.7 133,465.7 134,465.7 135,465.7 136,465.7 137,465.7 138,465.7 139,465.7 140,465.7 141,465.7 142,465.7 143,465.7 144,465.7 145,465.7 146,465.7 147,465.8 148,465.8 149,465.9 150,465.9 151,465.9 152,465.9 153,465.9 154,465.9 155,465.9 156,465.9 157,465.9 158,465.9 159,465.9 160,465.9 161,465.9 162,465.9 163,465.9 164,465.9 165,465.9 166,465.9 167,465.9 168,465.9 169,465.8 170,465.7 171,465.6 172,465.6 173,465.6 174,465.6 175,465.6 176,465.6 177,465.6 178,465.6 179,465.6 180,465.6 181,465.6 182,465.5 183,465.5 184,465.5 185,465.5 186,465.5 187,465.4 188,465.4 189,465.3 190,465.3 191,465.2 192,465.1 193,465 194,464.8 195,464.7 196,464.6 197,464.4 198,464.2 199,463.9 200,463.5 201,463.1 202,462.7 203,462.1 204,461.2 205,460.3 206,459.5 207,458.3 208,456.8 209,455.4 210,453.7 211,451.4 212,449 213,446.3 214,443 215,439.3 216,435.3 217,431.1 218,425.8 219,420.4 220,415.2 221,408.8 222,401.9 223,394.1 224,385.3 225,377 226,367.5 227,356.4 228,346.5 229,335.9 230,323.7 231,311.2 232,298.1 233,285.2 234,272.4 235,259.8 236,245.2 237,231.8 238,219 239,205 240,193.5 241,181.9 242,168.7 243,158.7 244,148.7 245,138.2 246,130.3 247,123.7 248,117 249,111.8 250,107.9 251,105.6 252,104.5 253,105.3 254,114.6 255,127.8 256,144.2 257,166.9 258,191.4 259,216 260,243.6 261,270.8 262,297.6 263,323.8 264,346.3 265,366.5 266,385.2 267,401.3 268,414.4 269,425.7 270,434.5 271,441.6 272,447.5 273,451.9 274,455.3 275,457.7 276,459.6 277,461.1 278,462.1 279,462.7 280,463.2 281,463.6 282,463.8 283,464 284,464.1 285,464.3 286,464.1 287,463.9 288,463.6 289,463.7 290,463.8 291,463.8 292,463.8 293,463.8 294,463.9 295,464 296,464.2 297,464.3 298,464.3 299,464.3 300,464.4 301,464.4 302,464.4 303,464.4 304,464.4 305,464.4 306,464.4 307,464.5 308,464.5 309,464.4 310,464.4 311,464.4 312,464.5 313,464.5 314,464.5 315,464.5 316,464.5 317,464.5 318,464.5 319,464.6 320,464.6 321,464.7 322,464.7 323,464.7 324,464.7 325,464.6 326,464.6 327,464.7 328,464.7 329,464.6 330,464.7 331,464.7 332,464.7 333,464.7 334,464.7 335,464.7 336,464.7 337,464.7 338,464.7 339,464.7 340,464.7 341,464.6 342,464.5 343,464.4 344,464.4 345,464.4 346,464.4 347,464.4 348,464.4 349,464.4 350,464.4 351,464.4 352,464.4 353,464.4 354,464.4 355,464.4 356,464.4 357,464.4 358,464.4 359,464.4 360,464.3 361,464.2 362,464.1 363,464.1 364,464 365,464 366,464 367,464 368,464 369,464 370,464.4 371,464.6 372,464.9 373,464.9 374,464.9 375,464.9 376,464.9 377,464.9 378,464.9 379,464.9 380,464.9 381,464.9 382,464.9 383,464.9 384,464.9 385,464.9 386,464.9 387,464.9 388,464.9 389,464.9 390,464.9 391,464.7 392,464.4 393,464.2 394,464.2 395,464.2 396,464.2 397,464.2 398,464.2 399,464.2 400,464.2 401,464.2 402,464.2 403,464.4 404,464.6 405,464.8 406,464.8 407,464.8 408,464.8 409,464.8 410,464.8 411,464.8 412,464.8 413,464.8 414,464.8 415,464.8 416,464.7 417,464.6 418,464.4 419,464.4 420,464.4" fill="none" stroke="#484848" stroke-width="2.2" stroke-linejoin="round"/>
<polygon points="120,479.7 121,479.7 122,479.7 123,479.7 124,479.7 125,479.7 126,479.7 127,479.8 128,479.9 129,480 130,480 131,480 132,480.1 133,480.1 134,480 135,480 136,480 137,480 138,480 139,480 140,480 141,480 142,480 143,479.9 144,480 145,480 146,479.9 147,479.9 148,480 149,479.9 150,480 151,480 152,480.2 153,480.5 154,480.7 155,480.7 156,480.7 157,480.7 158,480.7 159,480.7 160,480.8 161,480.9 162,481 163,481 164,481 165,481 166,481 167,480.9 168,480.9 169,480.7 170,480.4 171,480.2 172,480.3 173,480.2 174,480.2 175,480.2 176,480.2 177,480.1 178,480.1 179,480.1 180,480.1 181,480.1 182,480.1 183,480.1 184,480 185,480.1 186,480.1 187,480 188,480.1 189,480 190,479.9 191,479.9 192,480 193,479.5 194,479.1 195,478.7 196,478.7 197,478.6 198,478.5 199,478.3 200,478.2 201,478.1 202,477.9 203,477.5 204,477.2 205,476.9 206,476.6 207,476 208,475.3 209,474.6 210,473.9 211,472.8 212,471.6 213,470.3 214,468.5 215,466.7 216,464.6 217,462.1 218,459.5 219,456.3 220,452.8 221,449.8 222,445.7 223,441 224,435.6 225,429.9 226,423.6 227,416.5 228,408.8 229,400.2 230,391 231,381 232,370.9 233,360 234,347.6 235,335.4 236,323.4 237,308.7 238,295 239,282 240,268.6 241,256.6 242,241.8 243,226.7 244,213.1 245,199.8 246,187.4 247,175.6 248,162.9 249,152.1 250,142 251,132.2 252,125.7 253,119.3 254,112.7 255,107.6 256,105.2 257,104.3 258,106.7 259,113.1 260,125.5 261,144.4 262,166.4 263,191.4 264,219 265,247.3 266,275.3 267,303 268,329.5 269,352.8 270,374.5 271,394.3 272,410.6 273,424.5 274,436 275,445.7 276,453.6 277,459.7 278,464.2 279,467.9 280,470.7 281,472.4 282,473.8 283,474.8 284,475.5 285,476 286,476.4 287,476.7 288,476.8 289,476.9 290,477.1 291,477.2 292,477.3 293,477.4 294,477.6 295,477.7 296,477.9 297,478 298,478.1 299,478.1 300,478.1 301,478.2 302,478.2 303,478.2 304,478.2 305,478.2 306,478.2 307,478.3 308,478.3 309,478.3 310,478.3 311,478.3 312,478.3 313,478.4 314,478.4 315,478.4 316,478.4 317,478.4 318,478.4 319,478.4 320,478.4 321,478.4 322,478.4 323,478.4 324,478.5 325,478.5 326,478.5 327,478.5 328,478.5 329,478.5 330,478.5 331,478.5 332,478.5 333,478.6 334,478.6 335,478.6 336,478.5 337,478.7 338,478.9 339,479.1 340,479.1 341,479.1 342,479.1 343,479.1 344,479.1 345,479.1 346,479.1 347,479.1 348,479.1 349,479.1 350,479.1 351,479.1 352,479.1 353,479.2 354,479.1 355,479.1 356,479.1 357,479.1 358,479.1 359,479.1 360,479.1 361,479.1 362,479.1 363,479.1 364,479.1 365,479.1 366,479 367,478.8 368,478.7 369,478.7 370,478.7 371,478.7 372,478.7 373,478.7 374,478.7 375,478.7 376,478.7 377,478.7 378,478.7 379,478.7 380,478.7 381,478.7 382,478.7 383,478.7 384,478.7 385,478.7 386,478.7 387,478.7 388,478.7 389,478.7 390,478.7 391,478.7 392,478.4 393,478.2 394,478 395,478 396,478 397,478 398,478 399,477.9 400,477.9 401,477.9 402,477.9 403,477.9 404,477.9 405,477.9 406,477.9 407,477.9 408,477.9 409,477.9 410,477.8 411,477.8 412,477.8 413,477.8 414,477.8 415,477.8 416,477.8 417,477.8 418,477.8 419,477.8 420,477.8 420,480.8 120,481.8" fill="#fff"/><polyline points="120,479.7 121,479.7 122,479.7 123,479.7 124,479.7 125,479.7 126,479.7 127,479.8 128,479.9 129,480 130,480 131,480 132,480.1 133,480.1 134,480 135,480 136,480 137,480 138,480 139,480 140,480 141,480 142,480 143,479.9 144,480 145,480 146,479.9 147,479.9 148,480 149,479.9 150,480 151,480 152,480.2 153,480.5 154,480.7 155,480.7 156,480.7 157,480.7 158,480.7 159,480.7 160,480.8 161,480.9 162,481 163,481 164,481 165,481 166,481 167,480.9 168,480.9 169,480.7 170,480.4 171,480.2 172,480.3 173,480.2 174,480.2 175,480.2 176,480.2 177,480.1 178,480.1 179,480.1 180,480.1 181,480.1 182,480.1 183,480.1 184,480 185,480.1 186,480.1 187,480 188,480.1 189,480 190,479.9 191,479.9 192,480 193,479.5 194,479.1 195,478.7 196,478.7 197,478.6 198,478.5 199,478.3 200,478.2 201,478.1 202,477.9 203,477.5 204,477.2 205,476.9 206,476.6 207,476 208,475.3 209,474.6 210,473.9 211,472.8 212,471.6 213,470.3 214,468.5 215,466.7 216,464.6 217,462.1 218,459.5 219,456.3 220,452.8 221,449.8 222,445.7 223,441 224,435.6 225,429.9 226,423.6 227,416.5 228,408.8 229,400.2 230,391 231,381 232,370.9 233,360 234,347.6 235,335.4 236,323.4 237,308.7 238,295 239,282 240,268.6 241,256.6 242,241.8 243,226.7 244,213.1 245,199.8 246,187.4 247,175.6 248,162.9 249,152.1 250,142 251,132.2 252,125.7 253,119.3 254,112.7 255,107.6 256,105.2 257,104.3 258,106.7 259,113.1 260,125.5 261,144.4 262,166.4 263,191.4 264,219 265,247.3 266,275.3 267,303 268,329.5 269,352.8 270,374.5 271,394.3 272,410.6 273,424.5 274,436 275,445.7 276,453.6 277,459.7 278,464.2 279,467.9 280,470.7 281,472.4 282,473.8 283,474.8 284,475.5 285,476 286,476.4 287,476.7 288,476.8 289,476.9 290,477.1 291,477.2 292,477.3 293,477.4 294,477.6 295,477.7 296,477.9 297,478 298,478.1 299,478.1 300,478.1 301,478.2 302,478.2 303,478.2 304,478.2 305,478.2 306,478.2 307,478.3 308,478.3 309,478.3 310,478.3 311,478.3 312,478.3 313,478.4 314,478.4 315,478.4 316,478.4 317,478.4 318,478.4 319,478.4 320,478.4 321,478.4 322,478.4 323,478.4 324,478.5 325,478.5 326,478.5 327,478.5 328,478.5 329,478.5 330,478.5 331,478.5 332,478.5 333,478.6 334,478.6 335,478.6 336,478.5 337,478.7 338,478.9 339,479.1 340,479.1 341,479.1 342,479.1 343,479.1 344,479.1 345,479.1 346,479.1 347,479.1 348,479.1 349,479.1 350,479.1 351,479.1 352,479.1 353,479.2 354,479.1 355,479.1 356,479.1 357,479.1 358,479.1 359,479.1 360,479.1 361,479.1 362,479.1 363,479.1 364,479.1 365,479.1 366,479 367,478.8 368,478.7 369,478.7 370,478.7 371,478.7 372,478.7 373,478.7 374,478.7 375,478.7 376,478.7 377,478.7 378,478.7 379,478.7 380,478.7 381,478.7 382,478.7 383,478.7 384,478.7 385,478.7 386,478.7 387,478.7 388,478.7 389,478.7 390,478.7 391,478.7 392,478.4 393,478.2 394,478 395,478 396,478 397,478 398,478 399,477.9 400,477.9 401,477.9 402,477.9 403,477.9 404,477.9 405,477.9 406,477.9 407,477.9 408,477.9 409,477.9 410,477.8 411,477.8 412,477.8 413,477.8 414,477.8 415,477.8 416,477.8 417,477.8 418,477.8 419,477.8 420,477.8" fill="none" stroke="#484848" stroke-width="2.2" stroke-linejoin="round"/>
<polygon points="120,493.6 121,493.6 122,493.6 123,493.6 124,493.5 125,493.5 126,493.5 127,493.5 128,493.5 129,493.5 130,493.5 131,493.5 132,493.4 133,493.4 134,493.4 135,493.5 136,493.5 137,493.5 138,493.5 139,493.4 140,493.4 141,493.3 142,493.3 143,493.4 144,493.4 145,493.4 146,493.6 147,493.8 148,493.9 149,493.9 150,493.9 151,493.9 152,493.8 153,493.9 154,493.9 155,493.9 156,493.8 157,493.8 158,493.8 159,493.8 160,493.8 161,493.8 162,493.8 163,493.8 164,493.8 165,493.7 166,493.7 167,493.7 168,493.7 169,493.7 170,493.8 171,493.9 172,494 173,494 174,494 175,494 176,494 177,493.9 178,493.9 179,493.9 180,493.8 181,493.8 182,493.8 183,493.8 184,493.8 185,493.8 186,493.8 187,493.7 188,493.7 189,493.7 190,493.6 191,493.5 192,493.4 193,493.4 194,493.4 195,493.3 196,493.2 197,493.2 198,493.2 199,493.1 200,493 201,492.9 202,492.6 203,492.5 204,492.4 205,492.2 206,492 207,491.6 208,491.2 209,490.8 210,490.3 211,489.7 212,488.9 213,488.1 214,487.3 215,486.4 216,485.1 217,483.4 218,481.8 219,479.9 220,477.7 221,475.2 222,472 223,468.6 224,464.9 225,460.8 226,456.1 227,450.7 228,444.5 229,438.2 230,431.3 231,423.9 232,416.3 233,407 234,397.8 235,388.5 236,377.6 237,366.5 238,355.2 239,341.6 240,328.2 241,315.5 242,301.4 243,287.6 244,272.7 245,257.6 246,243.1 247,228.6 248,214.8 249,200.6 250,186.9 251,175.4 252,164.1 253,153 254,141.8 255,132.2 256,125.2 257,119.2 258,114.1 259,111 260,109.1 261,107.7 262,110.9 263,120.6 264,135.1 265,155.4 266,180 267,206.4 268,234.7 269,264.1 270,293.7 271,322 272,348.1 273,372.3 274,394 275,413.1 276,429.5 277,442.5 278,454.2 279,463.9 280,470.8 281,476.5 282,481 283,484.6 284,487.2 285,488.7 286,490 287,491 288,491.8 289,492.4 290,492.7 291,493.2 292,493.4 293,493.5 294,493.6 295,493.7 296,493.9 297,493.9 298,493.9 299,493.9 300,493.8 301,493.7 302,493.7 303,493.7 304,493.8 305,493.8 306,493.8 307,493.8 308,493.8 309,493.9 310,493.9 311,493.9 312,493.9 313,493.9 314,493.8 315,493.8 316,493.7 317,493.8 318,493.8 319,493.8 320,493.8 321,493.8 322,493.8 323,493.8 324,493.8 325,493.9 326,493.9 327,493.9 328,493.8 329,493.9 330,493.9 331,494 332,494.1 333,494.1 334,494.1 335,494.2 336,494.1 337,494.1 338,494.2 339,494.1 340,494.2 341,494.2 342,494.1 343,494.2 344,494.2 345,494.2 346,494.2 347,494.2 348,494.2 349,494.2 350,494.2 351,494.2 352,494.2 353,494.2 354,494 355,493.8 356,493.7 357,493.7 358,493.6 359,493.7 360,493.7 361,493.7 362,493.7 363,493.7 364,493.7 365,493.7 366,493.7 367,493.7 368,493.7 369,493.7 370,493.7 371,493.7 372,493.7 373,493.7 374,493.7 375,493.7 376,493.6 377,493.6 378,493.7 379,493.7 380,494 381,494.3 382,494.6 383,494.6 384,494.6 385,494.6 386,494.6 387,494.6 388,494.6 389,494.6 390,494.6 391,494.5 392,494.3 393,494.1 394,494.1 395,494.1 396,494.1 397,494.1 398,494.1 399,494.1 400,494.1 401,494.1 402,494.1 403,494.1 404,494.1 405,494.1 406,494.1 407,494.1 408,494.1 409,494.1 410,494.1 411,494.1 412,494.1 413,494.1 414,494.3 415,494.5 416,494.8 417,494.8 418,494.7 419,494.8 420,494.8 420,495.8 120,496.8" fill="#fff"/><polyline points="120,493.6 121,493.6 122,493.6 123,493.6 124,493.5 125,493.5 126,493.5 127,493.5 128,493.5 129,493.5 130,493.5 131,493.5 132,493.4 133,493.4 134,493.4 135,493.5 136,493.5 137,493.5 138,493.5 139,493.4 140,493.4 141,493.3 142,493.3 143,493.4 144,493.4 145,493.4 146,493.6 147,493.8 148,493.9 149,493.9 150,493.9 151,493.9 152,493.8 153,493.9 154,493.9 155,493.9 156,493.8 157,493.8 158,493.8 159,493.8 160,493.8 161,493.8 162,493.8 163,493.8 164,493.8 165,493.7 166,493.7 167,493.7 168,493.7 169,493.7 170,493.8 171,493.9 172,494 173,494 174,494 175,494 176,494 177,493.9 178,493.9 179,493.9 180,493.8 181,493.8 182,493.8 183,493.8 184,493.8 185,493.8 186,493.8 187,493.7 188,493.7 189,493.7 190,493.6 191,493.5 192,493.4 193,493.4 194,493.4 195,493.3 196,493.2 197,493.2 198,493.2 199,493.1 200,493 201,492.9 202,492.6 203,492.5 204,492.4 205,492.2 206,492 207,491.6 208,491.2 209,490.8 210,490.3 211,489.7 212,488.9 213,488.1 214,487.3 215,486.4 216,485.1 217,483.4 218,481.8 219,479.9 220,477.7 221,475.2 222,472 223,468.6 224,464.9 225,460.8 226,456.1 227,450.7 228,444.5 229,438.2 230,431.3 231,423.9 232,416.3 233,407 234,397.8 235,388.5 236,377.6 237,366.5 238,355.2 239,341.6 240,328.2 241,315.5 242,301.4 243,287.6 244,272.7 245,257.6 246,243.1 247,228.6 248,214.8 249,200.6 250,186.9 251,175.4 252,164.1 253,153 254,141.8 255,132.2 256,125.2 257,119.2 258,114.1 259,111 260,109.1 261,107.7 262,110.9 263,120.6 264,135.1 265,155.4 266,180 267,206.4 268,234.7 269,264.1 270,293.7 271,322 272,348.1 273,372.3 274,394 275,413.1 276,429.5 277,442.5 278,454.2 279,463.9 280,470.8 281,476.5 282,481 283,484.6 284,487.2 285,488.7 286,490 287,491 288,491.8 289,492.4 290,492.7 291,493.2 292,493.4 293,493.5 294,493.6 295,493.7 296,493.9 297,493.9 298,493.9 299,493.9 300,493.8 301,493.7 302,493.7 303,493.7 304,493.8 305,493.8 306,493.8 307,493.8 308,493.8 309,493.9 310,493.9 311,493.9 312,493.9 313,493.9 314,493.8 315,493.8 316,493.7 317,493.8 318,493.8 319,493.8 320,493.8 321,493.8 322,493.8 323,493.8 324,493.8 325,493.9 326,493.9 327,493.9 328,493.8 329,493.9 330,493.9 331,494 332,494.1 333,494.1 334,494.1 335,494.2 336,494.1 337,494.1 338,494.2 339,494.1 340,494.2 341,494.2 342,494.1 343,494.2 344,494.2 345,494.2 346,494.2 347,494.2 348,494.2 349,494.2 350,494.2 351,494.2 352,494.2 353,494.2 354,494 355,493.8 356,493.7 357,493.7 358,493.6 359,493.7 360,493.7 361,493.7 362,493.7 363,493.7 364,493.7 365,493.7 366,493.7 367,493.7 368,493.7 369,493.7 370,493.7 371,493.7 372,493.7 373,493.7 374,493.7 375,493.7 376,493.6 377,493.6 378,493.7 379,493.7 380,494 381,494.3 382,494.6 383,494.6 384,494.6 385,494.6 386,494.6 387,494.6 388,494.6 389,494.6 390,494.6 391,494.5 392,494.3 393,494.1 394,494.1 395,494.1 396,494.1 397,494.1 398,494.1 399,494.1 400,494.1 401,494.1 402,494.1 403,494.1 404,494.1 405,494.1 406,494.1 407,494.1 408,494.1 409,494.1 410,494.1 411,494.1 412,494.1 413,494.1 414,494.3 415,494.5 416,494.8 417,494.8 418,494.7 419,494.8 420,494.8" fill="none" stroke="#484848" stroke-width="2.2" stroke-linejoin="round"/>
<polygon points="120,509.9 121,509.8 122,509.8 123,509.8 124,509.8 125,509.8 126,509.8 127,509.8 128,509.8 129,509.8 130,509.8 131,509.8 132,509.7 133,509.7 134,509.7 135,509.7 136,509.7 137,509.7 138,509.7 139,509.6 140,509.6 141,509.6 142,509.6 143,509.6 144,509.6 145,509.7 146,509.6 147,509.6 148,509.6 149,509.6 150,509.7 151,509.6 152,509.5 153,509.5 154,509.5 155,509.5 156,509.5 157,509.5 158,509.5 159,509.5 160,509.5 161,509.4 162,509.4 163,509.4 164,509.4 165,509.4 166,509.4 167,509.4 168,509.4 169,509.4 170,509.3 171,509.3 172,509.2 173,509.4 174,509.6 175,509.8 176,509.8 177,509.7 178,509.7 179,509.7 180,509.7 181,509.6 182,509.6 183,509.7 184,509.6 185,509.5 186,509.4 187,509.4 188,509.5 189,509.5 190,509.4 191,509.3 192,509.4 193,509.4 194,509.2 195,509.3 196,508.9 197,508.4 198,508 199,507.8 200,507.7 201,507.7 202,507.7 203,507.6 204,507.5 205,507.7 206,507.8 207,507.9 208,507.6 209,507.3 210,507.1 211,506.8 212,506.4 213,505.9 214,505.3 215,504.8 216,504.1 217,503.2 218,502.2 219,501.1 220,499.6 221,498.1 222,496.6 223,494.5 224,492.1 225,489.7 226,486.8 227,483 228,479.3 229,475.3 230,470.1 231,464.7 232,459 233,452.7 234,445.5 235,438.2 236,429.7 237,420.1 238,410.9 239,401.3 240,390.5 241,378.3 242,366.2 243,354.2 244,341.3 245,327 246,312.3 247,298.4 248,283.1 249,268.2 250,255 251,240.7 252,225.4 253,212.2 254,199.8 255,187.1 256,174.1 257,162.4 258,153.4 259,144 260,135.1 261,129.6 262,126 263,121.1 264,116.3 265,115.5 266,120.3 267,131.2 268,147.8 269,168.3 270,192 271,219.5 272,248.4 273,278.1 274,307.8 275,337.2 276,364.1 277,386.9 278,408.1 279,427.4 280,443.6 281,457.4 282,469 283,478.4 284,485.8 285,491.2 286,495.5 287,498.8 288,501.4 289,503.3 290,504.7 291,505.6 292,506.3 293,506.8 294,507.1 295,507.3 296,507.4 297,507.7 298,508.2 299,508.5 300,508.9 301,508.9 302,508.9 303,509 304,509.1 305,509.1 306,509.1 307,509.1 308,509.2 309,509.3 310,509.2 311,509.3 312,509.3 313,509.3 314,509.3 315,509.4 316,509.4 317,509.4 318,509.4 319,509.4 320,509.3 321,509.4 322,509.4 323,509.4 324,509.4 325,509.3 326,509.4 327,509.4 328,509.4 329,509.5 330,509.5 331,509.4 332,509.4 333,509.4 334,509.5 335,509.4 336,509.4 337,509.4 338,509.5 339,509.5 340,509.5 341,509.4 342,509.5 343,509.5 344,509.4 345,509.5 346,509.5 347,509.4 348,509.5 349,509.5 350,509.5 351,509.5 352,509.6 353,509.7 354,509.7 355,509.7 356,509.6 357,509.6 358,509.6 359,509.6 360,509.6 361,509.7 362,509.6 363,509.6 364,509.6 365,509.6 366,509.6 367,509.7 368,509.6 369,509.6 370,509.6 371,509.6 372,509.6 373,509.6 374,509.6 375,509.6 376,509.6 377,509.6 378,509.6 379,509.6 380,509.6 381,509.6 382,509.6 383,509.6 384,509.6 385,509.6 386,509.9 387,510.2 388,510.5 389,510.5 390,510.5 391,510.5 392,510.5 393,510.4 394,510.5 395,510.5 396,510.5 397,510.5 398,510.5 399,510.4 400,510.4 401,510.4 402,510.4 403,510.4 404,510.4 405,510.4 406,510.4 407,510.4 408,510.4 409,510.4 410,510.4 411,510.4 412,510.2 413,509.9 414,509.7 415,509.7 416,509.7 417,509.7 418,509.7 419,509.7 420,509.7 420,510.8 120,511.8" fill="#fff"/><polyline points="120,509.9 121,509.8 122,509.8 123,509.8 124,509.8 125,509.8 126,509.8 127,509.8 128,509.8 129,509.8 130,509.8 131,509.8 132,509.7 133,509.7 134,509.7 135,509.7 136,509.7 137,509.7 138,509.7 139,509.6 140,509.6 141,509.6 142,509.6 143,509.6 144,509.6 145,509.7 146,509.6 147,509.6 148,509.6 149,509.6 150,509.7 151,509.6 152,509.5 153,509.5 154,509.5 155,509.5 156,509.5 157,509.5 158,509.5 159,509.5 160,509.5 161,509.4 162,509.4 163,509.4 164,509.4 165,509.4 166,509.4 167,509.4 168,509.4 169,509.4 170,509.3 171,509.3 172,509.2 173,509.4 174,509.6 175,509.8 176,509.8 177,509.7 178,509.7 179,509.7 180,509.7 181,509.6 182,509.6 183,509.7 184,509.6 185,509.5 186,509.4 187,509.4 188,509.5 189,509.5 190,509.4 191,509.3 192,509.4 193,509.4 194,509.2 195,509.3 196,508.9 197,508.4 198,508 199,507.8 200,507.7 201,507.7 202,507.7 203,507.6 204,507.5 205,507.7 206,507.8 207,507.9 208,507.6 209,507.3 210,507.1 211,506.8 212,506.4 213,505.9 214,505.3 215,504.8 216,504.1 217,503.2 218,502.2 219,501.1 220,499.6 221,498.1 222,496.6 223,494.5 224,492.1 225,489.7 226,486.8 227,483 228,479.3 229,475.3 230,470.1 231,464.7 232,459 233,452.7 234,445.5 235,438.2 236,429.7 237,420.1 238,410.9 239,401.3 240,390.5 241,378.3 242,366.2 243,354.2 244,341.3 245,327 246,312.3 247,298.4 248,283.1 249,268.2 250,255 251,240.7 252,225.4 253,212.2 254,199.8 255,187.1 256,174.1 257,162.4 258,153.4 259,144 260,135.1 261,129.6 262,126 263,121.1 264,116.3 265,115.5 266,120.3 267,131.2 268,147.8 269,168.3 270,192 271,219.5 272,248.4 273,278.1 274,307.8 275,337.2 276,364.1 277,386.9 278,408.1 279,427.4 280,443.6 281,457.4 282,469 283,478.4 284,485.8 285,491.2 286,495.5 287,498.8 288,501.4 289,503.3 290,504.7 291,505.6 292,506.3 293,506.8 294,507.1 295,507.3 296,507.4 297,507.7 298,508.2 299,508.5 300,508.9 301,508.9 302,508.9 303,509 304,509.1 305,509.1 306,509.1 307,509.1 308,509.2 309,509.3 310,509.2 311,509.3 312,509.3 313,509.3 314,509.3 315,509.4 316,509.4 317,509.4 318,509.4 319,509.4 320,509.3 321,509.4 322,509.4 323,509.4 324,509.4 325,509.3 326,509.4 327,509.4 328,509.4 329,509.5 330,509.5 331,509.4 332,509.4 333,509.4 334,509.5 335,509.4 336,509.4 337,509.4 338,509.5 339,509.5 340,509.5 341,509.4 342,509.5 343,509.5 344,509.4 345,509.5 346,509.5 347,509.4 348,509.5 349,509.5 350,509.5 351,509.5 352,509.6 353,509.7 354,509.7 355,509.7 356,509.6 357,509.6 358,509.6 359,509.6 360,509.6 361,509.7 362,509.6 363,509.6 364,509.6 365,509.6 366,509.6 367,509.7 368,509.6 369,509.6 370,509.6 371,509.6 372,509.6 373,509.6 374,509.6 375,509.6 376,509.6 377,509.6 378,509.6 379,509.6 380,509.6 381,509.6 382,509.6 383,509.6 384,509.6 385,509.6 386,509.9 387,510.2 388,510.5 389,510.5 390,510.5 391,510.5 392,510.5 393,510.4 394,510.5 395,510.5 396,510.5 397,510.5 398,510.5 399,510.4 400,510.4 401,510.4 402,510.4 403,510.4 404,510.4 405,510.4 406,510.4 407,510.4 408,510.4 409,510.4 410,510.4 411,510.4 412,510.2 413,509.9 414,509.7 415,509.7 416,509.7 417,509.7 418,509.7 419,509.7 420,509.7" fill="none" stroke="#484848" stroke-width="2.2" stroke-linejoin="round"/>
<polygon points="120,523.9 121,523.9 122,523.9 123,523.9 124,523.9 125,523.9 126,523.8 127,523.8 128,523.9 129,523.9 130,523.8 131,523.8 132,523.8 133,523.8 134,523.8 135,523.8 136,523.8 137,523.8 138,523.8 139,523.8 140,523.9 141,524.1 142,524.3 143,524.2 144,524.2 145,524.2 146,524.2 147,524.2 148,524.2 149,524.2 150,524.2 151,524.1 152,524.1 153,524.2 154,524.2 155,524.1 156,524.1 157,524.2 158,524.1 159,524 160,524 161,524 162,524 163,524 164,524 165,524 166,524.1 167,524.3 168,524.5 169,524.5 170,524.4 171,524.5 172,524.5 173,524.4 174,524.4 175,524.4 176,524.3 177,524.3 178,524.3 179,524.3 180,524.2 181,524.2 182,524.3 183,524.2 184,524.1 185,524.1 186,524.1 187,524 188,523.8 189,523.5 190,523.2 191,523.2 192,523 193,523 194,523 195,523 196,522.9 197,522.8 198,522.8 199,522.8 200,522.7 201,522.6 202,522.5 203,522.4 204,522.4 205,522.2 206,522.1 207,522 208,522 209,521.9 210,521.7 211,521.5 212,521.3 213,521.1 214,520.9 215,520.4 216,519.7 217,518.8 218,518.1 219,517.6 220,517 221,516 222,514.9 223,513.8 224,512.3 225,510.4 226,508.4 227,506.5 228,504.2 229,501.5 230,498.1 231,494.7 232,491.2 233,486.9 234,482.2 235,476.9 236,470.7 237,463.5 238,455.9 239,448.8 240,440.9 241,431.4 242,421.2 243,410.7 244,399.8 245,387.9 246,375.3 247,363.4 248,350.4 249,335.4 250,320.5 251,305.9 252,292.2 253,278.2 254,263 255,248.1 256,233.7 257,219.1 258,206.6 259,194.5 260,183 261,171 262,159.4 263,151.5 264,143.8 265,136 266,130.6 267,128.2 268,127.2 269,126.9 270,132.5 271,144.5 272,161 273,182.1 274,207.2 275,235.6 276,266 277,295.9 278,325.4 279,353.6 280,379.4 281,403.4 282,425.7 283,444.9 284,461 285,474.1 286,484.6 287,493.5 288,500.5 289,505.7 290,509.7 291,513 292,515.3 293,517 294,518.4 295,519.3 296,520 297,520.4 298,520.7 299,520.9 300,521 301,521.1 302,521.1 303,521.3 304,521.4 305,521.4 306,521.4 307,521.4 308,521.5 309,521.6 310,521.6 311,521.7 312,521.8 313,521.8 314,521.8 315,521.8 316,521.8 317,521.9 318,521.9 319,521.9 320,521.9 321,522 322,522 323,522 324,522 325,522 326,522 327,522.1 328,522.3 329,522.7 330,523 331,523 332,523 333,523 334,523 335,523 336,523 337,523 338,523 339,523 340,523 341,523.1 342,523.1 343,523 344,523.1 345,523.1 346,523.1 347,523 348,523 349,523 350,523 351,523.1 352,523 353,523 354,523.2 355,523.2 356,523.3 357,523.3 358,523.3 359,523.3 360,523.3 361,523.3 362,523.3 363,523.3 364,523.3 365,523.3 366,523.3 367,523.3 368,523.3 369,523.4 370,523.6 371,523.8 372,523.8 373,523.7 374,523.7 375,523.7 376,523.7 377,523.7 378,523.8 379,523.7 380,523.7 381,523.7 382,523.8 383,523.8 384,523.4 385,523 386,522.7 387,522.7 388,522.6 389,522.7 390,522.7 391,522.7 392,522.8 393,522.9 394,523 395,523 396,523 397,523 398,523 399,523 400,523 401,523 402,523 403,523 404,523 405,523 406,523 407,523 408,523 409,523 410,523 411,523 412,523 413,523 414,522.9 415,522.8 416,522.7 417,522.7 418,522.7 419,522.7 420,522.7 420,526 120,527" fill="#fff"/><polyline points="120,523.9 121,523.9 122,523.9 123,523.9 124,523.9 125,523.9 126,523.8 127,523.8 128,523.9 129,523.9 130,523.8 131,523.8 132,523.8 133,523.8 134,523.8 135,523.8 136,523.8 137,523.8 138,523.8 139,523.8 140,523.9 141,524.1 142,524.3 143,524.2 144,524.2 145,524.2 146,524.2 147,524.2 148,524.2 149,524.2 150,524.2 151,524.1 152,524.1 153,524.2 154,524.2 155,524.1 156,524.1 157,524.2 158,524.1 159,524 160,524 161,524 162,524 163,524 164,524 165,524 166,524.1 167,524.3 168,524.5 169,524.5 170,524.4 171,524.5 172,524.5 173,524.4 174,524.4 175,524.4 176,524.3 177,524.3 178,524.3 179,524.3 180,524.2 181,524.2 182,524.3 183,524.2 184,524.1 185,524.1 186,524.1 187,524 188,523.8 189,523.5 190,523.2 191,523.2 192,523 193,523 194,523 195,523 196,522.9 197,522.8 198,522.8 199,522.8 200,522.7 201,522.6 202,522.5 203,522.4 204,522.4 205,522.2 206,522.1 207,522 208,522 209,521.9 210,521.7 211,521.5 212,521.3 213,521.1 214,520.9 215,520.4 216,519.7 217,518.8 218,518.1 219,517.6 220,517 221,516 222,514.9 223,513.8 224,512.3 225,510.4 226,508.4 227,506.5 228,504.2 229,501.5 230,498.1 231,494.7 232,491.2 233,486.9 234,482.2 235,476.9 236,470.7 237,463.5 238,455.9 239,448.8 240,440.9 241,431.4 242,421.2 243,410.7 244,399.8 245,387.9 246,375.3 247,363.4 248,350.4 249,335.4 250,320.5 251,305.9 252,292.2 253,278.2 254,263 255,248.1 256,233.7 257,219.1 258,206.6 259,194.5 260,183 261,171 262,159.4 263,151.5 264,143.8 265,136 266,130.6 267,128.2 268,127.2 269,126.9 270,132.5 271,144.5 272,161 273,182.1 274,207.2 275,235.6 276,266 277,295.9 278,325.4 279,353.6 280,379.4 281,403.4 282,425.7 283,444.9 284,461 285,474.1 286,484.6 287,493.5 288,500.5 289,505.7 290,509.7 291,513 292,515.3 293,517 294,518.4 295,519.3 296,520 297,520.4 298,520.7 299,520.9 300,521 301,521.1 302,521.1 303,521.3 304,521.4 305,521.4 306,521.4 307,521.4 308,521.5 309,521.6 310,521.6 311,521.7 312,521.8 313,521.8 314,521.8 315,521.8 316,521.8 317,521.9 318,521.9 319,521.9 320,521.9 321,522 322,522 323,522 324,522 325,522 326,522 327,522.1 328,522.3 329,522.7 330,523 331,523 332,523 333,523 334,523 335,523 336,523 337,523 338,523 339,523 340,523 341,523.1 342,523.1 343,523 344,523.1 345,523.1 346,523.1 347,523 348,523 349,523 350,523 351,523.1 352,523 353,523 354,523.2 355,523.2 356,523.3 357,523.3 358,523.3 359,523.3 360,523.3 361,523.3 362,523.3 363,523.3 364,523.3 365,523.3 366,523.3 367,523.3 368,523.3 369,523.4 370,523.6 371,523.8 372,523.8 373,523.7 374,523.7 375,523.7 376,523.7 377,523.7 378,523.8 379,523.7 380,523.7 381,523.7 382,523.8 383,523.8 384,523.4 385,523 386,522.7 387,522.7 388,522.6 389,522.7 390,522.7 391,522.7 392,522.8 393,522.9 394,523 395,523 396,523 397,523 398,523 399,523 400,523 401,523 402,523 403,523 404,523 405,523 406,523 407,523 408,523 409,523 410,523 411,523 412,523 413,523 414,522.9 415,522.8 416,522.7 417,522.7 418,522.7 419,522.7 420,522.7" fill="none" stroke="#484848" stroke-width="2.2" stroke-linejoin="round"/>
<polygon points="120,539.7 121,539.7 122,539.7 123,539.7 124,539.7 125,539.7 126,539.7 127,539.7 128,539.7 129,539.6 130,539.6 131,539.6 132,539.6 133,539.6 134,539.6 135,539.6 136,539.6 137,539.5 138,539.5 139,539.4 140,539.2 141,539.3 142,539.2 143,539.2 144,539.2 145,539.2 146,539.1 147,539.2 148,539.1 149,539.1 150,539.1 151,539.2 152,539.1 153,539 154,539.1 155,539.1 156,539 157,539 158,539 159,539 160,539 161,539 162,539 163,538.9 164,538.9 165,538.8 166,538.9 167,538.5 168,538.1 169,537.7 170,537.7 171,537.8 172,537.7 173,537.6 174,537.6 175,537.6 176,537.6 177,537.5 178,537.4 179,537.3 180,537.3 181,537.3 182,537.3 183,537.2 184,537.2 185,537.2 186,537.2 187,537.2 188,537.3 189,537.5 190,537.8 191,537.7 192,537.7 193,537.7 194,537.5 195,537.5 196,537.4 197,537.4 198,537.4 199,537.2 200,537.2 201,537.2 202,537.2 203,537.1 204,537 205,536.9 206,536.8 207,536.8 208,536.7 209,536.7 210,536.5 211,536.4 212,536.2 213,536.1 214,536 215,535.7 216,535.3 217,534.9 218,534.5 219,534.2 220,533.8 221,533.1 222,532.5 223,531.9 224,531.2 225,530.1 226,528.9 227,528 228,526.4 229,524.5 230,522.8 231,520.9 232,518.2 233,514.9 234,512 235,509 236,504.7 237,499.5 238,494.8 239,489.8 240,483.6 241,477 242,469.3 243,461.2 244,453.2 245,444.6 246,433.4 247,421.9 248,412.1 249,400.5 250,386.8 251,373.9 252,361 253,347 254,332.6 255,317.9 256,303.2 257,288.7 258,273.7 259,258.7 260,244.7 261,231.6 262,218.5 263,204.8 264,192.9 265,182.1 266,172.4 267,163.6 268,156.5 269,150.8 270,144.8 271,140.2 272,139.1 273,139.9 274,145.1 275,155.8 276,172.3 277,195.8 278,223.4 279,252.2 280,280.9 281,311.4 282,341.6 283,369.7 284,396.5 285,420.1 286,441.1 287,459.4 288,475.2 289,488.6 290,499.8 291,509 292,515.9 293,521.3 294,525.2 295,528.3 296,530.7 297,532.4 298,533.7 299,534.5 300,535.1 301,535.7 302,536 303,536.3 304,536.6 305,536.7 306,536.8 307,536.9 308,537 309,537.1 310,537.1 311,537.2 312,537.4 313,537.4 314,537.4 315,537.4 316,537.5 317,537.5 318,537.5 319,537.7 320,537.7 321,537.7 322,537.7 323,537.7 324,537.7 325,537.8 326,537.8 327,537.8 328,537.9 329,537.9 330,537.9 331,537.8 332,538.3 333,538.8 334,539.3 335,539.3 336,539.3 337,539.2 338,539.3 339,538.9 340,538.5 341,538.1 342,538.2 343,538.2 344,538.2 345,538.1 346,538.1 347,538.2 348,538.2 349,538.2 350,538.2 351,538.2 352,538.2 353,538.2 354,538.2 355,538.2 356,538.2 357,538.2 358,538.2 359,538.2 360,538.3 361,538.3 362,538.3 363,538.3 364,538.2 365,538.3 366,538.4 367,538.6 368,538.6 369,538.6 370,538.6 371,538.6 372,538.6 373,538.6 374,538.6 375,538.6 376,538.6 377,538.6 378,538.6 379,538.6 380,538.5 381,538.6 382,538.5 383,538.5 384,538.6 385,538.6 386,538.6 387,538.6 388,538.7 389,538.7 390,538.7 391,538.7 392,538.7 393,538.7 394,538.7 395,538.7 396,538.7 397,538.7 398,538.7 399,538.7 400,538.7 401,538.6 402,538.6 403,538.7 404,538.6 405,538.6 406,538.6 407,538.6 408,538.6 409,538.6 410,538.6 411,538.6 412,538.6 413,538.5 414,538.5 415,538.6 416,538.5 417,538.5 418,538.5 419,538.5 420,538.6 420,541 120,542" fill="#fff"/><polyline points="120,539.7 121,539.7 122,539.7 123,539.7 124,539.7 125,539.7 126,539.7 127,539.7 128,539.7 129,539.6 130,539.6 131,539.6 132,539.6 133,539.6 134,539.6 135,539.6 136,539.6 137,539.5 138,539.5 139,539.4 140,539.2 141,539.3 142,539.2 143,539.2 144,539.2 145,539.2 146,539.1 147,539.2 148,539.1 149,539.1 150,539.1 151,539.2 152,539.1 153,539 154,539.1 155,539.1 156,539 157,539 158,539 159,539 160,539 161,539 162,539 163,538.9 164,538.9 165,538.8 166,538.9 167,538.5 168,538.1 169,537.7 170,537.7 171,537.8 172,537.7 173,537.6 174,537.6 175,537.6 176,537.6 177,537.5 178,537.4 179,537.3 180,537.3 181,537.3 182,537.3 183,537.2 184,537.2 185,537.2 186,537.2 187,537.2 188,537.3 189,537.5 190,537.8 191,537.7 192,537.7 193,537.7 194,537.5 195,537.5 196,537.4 197,537.4 198,537.4 199,537.2 200,537.2 201,537.2 202,537.2 203,537.1 204,537 205,536.9 206,536.8 207,536.8 208,536.7 209,536.7 210,536.5 211,536.4 212,536.2 213,536.1 214,536 215,535.7 216,535.3 217,534.9 218,534.5 219,534.2 220,533.8 221,533.1 222,532.5 223,531.9 224,531.2 225,530.1 226,528.9 227,528 228,526.4 229,524.5 230,522.8 231,520.9 232,518.2 233,514.9 234,512 235,509 236,504.7 237,499.5 238,494.8 239,489.8 240,483.6 241,477 242,469.3 243,461.2 244,453.2 245,444.6 246,433.4 247,421.9 248,412.1 249,400.5 250,386.8 251,373.9 252,361 253,347 254,332.6 255,317.9 256,303.2 257,288.7 258,273.7 259,258.7 260,244.7 261,231.6 262,218.5 263,204.8 264,192.9 265,182.1 266,172.4 267,163.6 268,156.5 269,150.8 270,144.8 271,140.2 272,139.1 273,139.9 274,145.1 275,155.8 276,172.3 277,195.8 278,223.4 279,252.2 280,280.9 281,311.4 282,341.6 283,369.7 284,396.5 285,420.1 286,441.1 287,459.4 288,475.2 289,488.6 290,499.8 291,509 292,515.9 293,521.3 294,525.2 295,528.3 296,530.7 297,532.4 298,533.7 299,534.5 300,535.1 301,535.7 302,536 303,536.3 304,536.6 305,536.7 306,536.8 307,536.9 308,537 309,537.1 310,537.1 311,537.2 312,537.4 313,537.4 314,537.4 315,537.4 316,537.5 317,537.5 318,537.5 319,537.7 320,537.7 321,537.7 322,537.7 323,537.7 324,537.7 325,537.8 326,537.8 327,537.8 328,537.9 329,537.9 330,537.9 331,537.8 332,538.3 333,538.8 334,539.3 335,539.3 336,539.3 337,539.2 338,539.3 339,538.9 340,538.5 341,538.1 342,538.2 343,538.2 344,538.2 345,538.1 346,538.1 347,538.2 348,538.2 349,538.2 350,538.2 351,538.2 352,538.2 353,538.2 354,538.2 355,538.2 356,538.2 357,538.2 358,538.2 359,538.2 360,538.3 361,538.3 362,538.3 363,538.3 364,538.2 365,538.3 366,538.4 367,538.6 368,538.6 369,538.6 370,538.6 371,538.6 372,538.6 373,538.6 374,538.6 375,538.6 376,538.6 377,538.6 378,538.6 379,538.6 380,538.5 381,538.6 382,538.5 383,538.5 384,538.6 385,538.6 386,538.6 387,538.6 388,538.7 389,538.7 390,538.7 391,538.7 392,538.7 393,538.7 394,538.7 395,538.7 396,538.7 397,538.7 398,538.7 399,538.7 400,538.7 401,538.6 402,538.6 403,538.7 404,538.6 405,538.6 406,538.6 407,538.6 408,538.6 409,538.6 410,538.6 411,538.6 412,538.6 413,538.5 414,538.5 415,538.6 416,538.5 417,538.5 418,538.5 419,538.5 420,538.6" fill="none" stroke="#484848" stroke-width="2.2" stroke-linejoin="round"/>
<polygon points="120,554.5 121,554.6 122,554.6 123,554.6 124,554.5 125,554.9 126,555.2 127,555.6 128,555.6 129,555.5 130,555.5 131,555.6 132,555.5 133,555.5 134,555.5 135,555.5 136,555.5 137,555.4 138,555.4 139,555.5 140,555.5 141,555.5 142,555.5 143,555.4 144,555.4 145,555.3 146,555.3 147,555.3 148,555.2 149,555.2 150,555.3 151,554.9 152,554.5 153,554 154,554 155,554 156,553.9 157,553.9 158,553.9 159,554 160,553.9 161,553.9 162,553.9 163,553.9 164,553.9 165,553.8 166,553.7 167,553.8 168,553.8 169,553.7 170,553.6 171,553.7 172,553.5 173,553.2 174,553.1 175,553 176,553 177,553 178,552.9 179,552.9 180,552.8 181,552.8 182,552.9 183,552.9 184,552.8 185,552.8 186,552.7 187,552.6 188,552.6 189,552.5 190,552.4 191,552.4 192,552.4 193,552.3 194,552.3 195,552.2 196,552.2 197,552.2 198,552.1 199,552 200,552.1 201,552 202,552 203,551.9 204,551.7 205,551.7 206,551.8 207,551.6 208,551.5 209,551.4 210,551.3 211,551.2 212,551.1 213,551 214,550.8 215,550.6 216,550.5 217,550.1 218,549.7 219,549.5 220,549.3 221,548.9 222,548.5 223,547.9 224,547.1 225,546.2 226,545.5 227,544.6 228,543.5 229,542.4 230,540.7 231,539.2 232,537.5 233,535 234,532 235,528.8 236,525.7 237,522.1 238,517.9 239,513.5 240,508.8 241,503.2 242,497 243,490.5 244,483.4 245,474.3 246,465.4 247,457 248,447.5 249,436.9 250,425.2 251,413.2 252,401.1 253,388.2 254,374.2 255,360.1 256,346.2 257,331.7 258,315.9 259,301.5 260,287.4 261,272.8 262,259.1 263,245.5 264,232.4 265,218.4 266,205.6 267,193.9 268,185 269,177.2 270,169.4 271,162.6 272,155.6 273,153.4 274,153 275,152.3 276,158.2 277,170.7 278,188.7 279,209.9 280,236.4 281,265.7 282,295.1 283,326.7 284,357.3 285,384.9 286,410.4 287,434.9 288,457.1 289,475.6 290,490.9 291,503.9 292,514.9 293,523.9 294,531.2 295,536.7 296,540.7 297,543.7 298,546.1 299,547.7 300,548.8 301,549.9 302,550.6 303,551 304,551.3 305,551.5 306,551.7 307,551.8 308,552.1 309,552.3 310,552.4 311,552.4 312,552.4 313,552.4 314,552.5 315,552.6 316,552.6 317,552.7 318,552.7 319,552.7 320,552.7 321,552.8 322,552.8 323,553.2 324,553.5 325,553.7 326,553.8 327,553.8 328,553.8 329,553.8 330,553.9 331,553.9 332,553.9 333,553.9 334,553.9 335,553.9 336,554.1 337,554.2 338,554.4 339,554.4 340,554.5 341,554.5 342,554.5 343,554.5 344,554.4 345,554.5 346,554.5 347,554.5 348,554.5 349,554.5 350,554.5 351,554.5 352,554.6 353,554.6 354,554.6 355,554.6 356,554.5 357,554.5 358,554.6 359,554.6 360,554.6 361,554.6 362,554.6 363,554 364,553.4 365,552.9 366,552.9 367,552.8 368,552.8 369,552.8 370,552.9 371,552.9 372,552.8 373,552.8 374,552.8 375,552.8 376,552.8 377,552.9 378,553.2 379,553.4 380,553.7 381,553.8 382,553.8 383,553.7 384,553.7 385,553.8 386,553.8 387,553.9 388,553.9 389,553.9 390,553.9 391,553.9 392,553.9 393,553.9 394,553.9 395,553.9 396,553.9 397,553.9 398,553.9 399,553.9 400,553.9 401,553.8 402,553.8 403,553.9 404,553.9 405,553.9 406,553.9 407,553.9 408,553.8 409,553.8 410,553.9 411,553.9 412,553.8 413,553.8 414,553.8 415,553.7 416,553.7 417,553.7 418,553.7 419,553.7 420,553.7 420,556 120,557" fill="#fff"/><polyline points="120,554.5 121,554.6 122,554.6 123,554.6 124,554.5 125,554.9 126,555.2 127,555.6 128,555.6 129,555.5 130,555.5 131,555.6 132,555.5 133,555.5 134,555.5 135,555.5 136,555.5 137,555.4 138,555.4 139,555.5 140,555.5 141,555.5 142,555.5 143,555.4 144,555.4 145,555.3 146,555.3 147,555.3 148,555.2 149,555.2 150,555.3 151,554.9 152,554.5 153,554 154,554 155,554 156,553.9 157,553.9 158,553.9 159,554 160,553.9 161,553.9 162,553.9 163,553.9 164,553.9 165,553.8 166,553.7 167,553.8 168,553.8 169,553.7 170,553.6 171,553.7 172,553.5 173,553.2 174,553.1 175,553 176,553 177,553 178,552.9 179,552.9 180,552.8 181,552.8 182,552.9 183,552.9 184,552.8 185,552.8 186,552.7 187,552.6 188,552.6 189,552.5 190,552.4 191,552.4 192,552.4 193,552.3 194,552.3 195,552.2 196,552.2 197,552.2 198,552.1 199,552 200,552.1 201,552 202,552 203,551.9 204,551.7 205,551.7 206,551.8 207,551.6 208,551.5 209,551.4 210,551.3 211,551.2 212,551.1 213,551 214,550.8 215,550.6 216,550.5 217,550.1 218,549.7 219,549.5 220,549.3 221,548.9 222,548.5 223,547.9 224,547.1 225,546.2 226,545.5 227,544.6 228,543.5 229,542.4 230,540.7 231,539.2 232,537.5 233,535 234,532 235,528.8 236,525.7 237,522.1 238,517.9 239,513.5 240,508.8 241,503.2 242,497 243,490.5 244,483.4 245,474.3 246,465.4 247,457 248,447.5 249,436.9 250,425.2 251,413.2 252,401.1 253,388.2 254,374.2 255,360.1 256,346.2 257,331.7 258,315.9 259,301.5 260,287.4 261,272.8 262,259.1 263,245.5 264,232.4 265,218.4 266,205.6 267,193.9 268,185 269,177.2 270,169.4 271,162.6 272,155.6 273,153.4 274,153 275,152.3 276,158.2 277,170.7 278,188.7 279,209.9 280,236.4 281,265.7 282,295.1 283,326.7 284,357.3 285,384.9 286,410.4 287,434.9 288,457.1 289,475.6 290,490.9 291,503.9 292,514.9 293,523.9 294,531.2 295,536.7 296,540.7 297,543.7 298,546.1 299,547.7 300,548.8 301,549.9 302,550.6 303,551 304,551.3 305,551.5 306,551.7 307,551.8 308,552.1 309,552.3 310,552.4 311,552.4 312,552.4 313,552.4 314,552.5 315,552.6 316,552.6 317,552.7 318,552.7 319,552.7 320,552.7 321,552.8 322,552.8 323,553.2 324,553.5 325,553.7 326,553.8 327,553.8 328,553.8 329,553.8 330,553.9 331,553.9 332,553.9 333,553.9 334,553.9 335,553.9 336,554.1 337,554.2 338,554.4 339,554.4 340,554.5 341,554.5 342,554.5 343,554.5 344,554.4 345,554.5 346,554.5 347,554.5 348,554.5 349,554.5 350,554.5 351,554.5 352,554.6 353,554.6 354,554.6 355,554.6 356,554.5 357,554.5 358,554.6 359,554.6 360,554.6 361,554.6 362,554.6 363,554 364,553.4 365,552.9 366,552.9 367,552.8 368,552.8 369,552.8 370,552.9 371,552.9 372,552.8 373,552.8 374,552.8 375,552.8 376,552.8 377,552.9 378,553.2 379,553.4 380,553.7 381,553.8 382,553.8 383,553.7 384,553.7 385,553.8 386,553.8 387,553.9 388,553.9 389,553.9 390,553.9 391,553.9 392,553.9 393,553.9 394,553.9 395,553.9 396,553.9 397,553.9 398,553.9 399,553.9 400,553.9 401,553.8 402,553.8 403,553.9 404,553.9 405,553.9 406,553.9 407,553.9 408,553.8 409,553.8 410,553.9 411,553.9 412,553.8 413,553.8 414,553.8 415,553.7 416,553.7 417,553.7 418,553.7 419,553.7 420,553.7" fill="none" stroke="#484848" stroke-width="2.2" stroke-linejoin="round"/>
<polygon points="120,568.7 121,568.6 122,568.6 123,568.6 124,568.6 125,568.5 126,568.5 127,568.5 128,568.6 129,568.6 130,568.6 131,568.5 132,568.5 133,568.5 134,568.5 135,568.4 136,568.5 137,568.5 138,568.4 139,568.4 140,568.4 141,568.3 142,568.3 143,568.3 144,568.2 145,568.1 146,568 147,568 148,568 149,567.9 150,567.9 151,567.9 152,567.9 153,567.9 154,567.9 155,567.9 156,567.8 157,567.7 158,567.7 159,567.8 160,567.8 161,567.8 162,567.8 163,567.8 164,567.8 165,567.9 166,567.9 167,567.9 168,567.9 169,567.9 170,567.9 171,567.9 172,567.9 173,568 174,568 175,568 176,568 177,567.9 178,567.9 179,567.9 180,567.8 181,567.8 182,567.8 183,567.8 184,567.7 185,567.7 186,567.6 187,567.5 188,567.6 189,567.2 190,566.6 191,566.1 192,566 193,566 194,566 195,565.8 196,565.8 197,565.8 198,565.8 199,565.7 200,565.5 201,565.5 202,565.6 203,565.6 204,565.4 205,565.2 206,565.2 207,565.1 208,565 209,565 210,564.9 211,564.9 212,564.6 213,564.4 214,564.3 215,563.9 216,563.7 217,563.6 218,563.5 219,563.2 220,562.9 221,562.9 222,562.6 223,562.1 224,561.7 225,561.1 226,560.6 227,560.2 228,559.5 229,558.9 230,558 231,556.6 232,555.4 233,553.8 234,551.8 235,550.1 236,548.1 237,545.9 238,543.3 239,540.5 240,537.4 241,533.4 242,528.8 243,524 244,519 245,512.8 246,506.3 247,499.7 248,492.1 249,484.1 250,475.5 251,465.3 252,454.7 253,443.8 254,432.5 255,420.4 256,407.8 257,395.5 258,382.3 259,368.4 260,352.9 261,339.2 262,325.1 263,310.1 264,295.8 265,280.9 266,267.5 267,253.6 268,240.3 269,226.8 270,214.9 271,205.1 272,195 273,186.9 274,180.1 275,175.6 276,170.3 277,166.9 278,166.8 279,170.8 280,180.6 281,195.7 282,216.4 283,241.2 284,269.7 285,298.6 286,328.4 287,358.1 288,387.3 289,415.8 290,440.8 291,463.6 292,482.8 293,499 294,513.5 295,525.6 296,535.4 297,543.1 298,549.1 299,553.8 300,557.3 301,559.6 302,561.4 303,563 304,563.9 305,564.6 306,565.4 307,565.8 308,566 309,566.2 310,566.5 311,566.7 312,566.7 313,566.8 314,566.9 315,567 316,567.2 317,567.2 318,567.1 319,567.2 320,567.4 321,567.4 322,567.4 323,567.5 324,567.5 325,567.5 326,567.3 327,567 328,566.7 329,566.8 330,566.8 331,566.7 332,566.7 333,566.8 334,567 335,567.2 336,567.4 337,567.4 338,567.5 339,567.5 340,567.5 341,567.5 342,567.5 343,567.5 344,567.5 345,567.6 346,567.6 347,567.6 348,567.5 349,567.5 350,567.5 351,567.6 352,567.7 353,567.6 354,567.6 355,567.7 356,567.7 357,567.7 358,567.7 359,567.6 360,567.6 361,567.7 362,567.7 363,567.5 364,567.4 365,567.3 366,567.3 367,567.3 368,567.3 369,567.2 370,567.2 371,567.3 372,567.2 373,567.3 374,567.3 375,567.4 376,567.5 377,567.7 378,567.7 379,567.7 380,567.7 381,567.6 382,567.7 383,567.8 384,567.9 385,567.9 386,567.8 387,567.8 388,567.8 389,567.9 390,567.9 391,567.9 392,567.8 393,567.8 394,567.9 395,567.9 396,568 397,568.1 398,568.1 399,568.1 400,568.1 401,568.1 402,568.1 403,568 404,568.1 405,568.1 406,568.1 407,568.1 408,568.1 409,568.1 410,568.1 411,568 412,568.1 413,567.9 414,567.7 415,567.4 416,567.4 417,567.4 418,567.4 419,567.4 420,567.4 420,569.8 120,570.8" fill="#fff"/><polyline points="120,568.7 121,568.6 122,568.6 123,568.6 124,568.6 125,568.5 126,568.5 127,568.5 128,568.6 129,568.6 130,568.6 131,568.5 132,568.5 133,568.5 134,568.5 135,568.4 136,568.5 137,568.5 138,568.4 139,568.4 140,568.4 141,568.3 142,568.3 143,568.3 144,568.2 145,568.1 146,568 147,568 148,568 149,567.9 150,567.9 151,567.9 152,567.9 153,567.9 154,567.9 155,567.9 156,567.8 157,567.7 158,567.7 159,567.8 160,567.8 161,567.8 162,567.8 163,567.8 164,567.8 165,567.9 166,567.9 167,567.9 168,567.9 169,567.9 170,567.9 171,567.9 172,567.9 173,568 174,568 175,568 176,568 177,567.9 178,567.9 179,567.9 180,567.8 181,567.8 182,567.8 183,567.8 184,567.7 185,567.7 186,567.6 187,567.5 188,567.6 189,567.2 190,566.6 191,566.1 192,566 193,566 194,566 195,565.8 196,565.8 197,565.8 198,565.8 199,565.7 200,565.5 201,565.5 202,565.6 203,565.6 204,565.4 205,565.2 206,565.2 207,565.1 208,565 209,565 210,564.9 211,564.9 212,564.6 213,564.4 214,564.3 215,563.9 216,563.7 217,563.6 218,563.5 219,563.2 220,562.9 221,562.9 222,562.6 223,562.1 224,561.7 225,561.1 226,560.6 227,560.2 228,559.5 229,558.9 230,558 231,556.6 232,555.4 233,553.8 234,551.8 235,550.1 236,548.1 237,545.9 238,543.3 239,540.5 240,537.4 241,533.4 242,528.8 243,524 244,519 245,512.8 246,506.3 247,499.7 248,492.1 249,484.1 250,475.5 251,465.3 252,454.7 253,443.8 254,432.5 255,420.4 256,407.8 257,395.5 258,382.3 259,368.4 260,352.9 261,339.2 262,325.1 263,310.1 264,295.8 265,280.9 266,267.5 267,253.6 268,240.3 269,226.8 270,214.9 271,205.1 272,195 273,186.9 274,180.1 275,175.6 276,170.3 277,166.9 278,166.8 279,170.8 280,180.6 281,195.7 282,216.4 283,241.2 284,269.7 285,298.6 286,328.4 287,358.1 288,387.3 289,415.8 290,440.8 291,463.6 292,482.8 293,499 294,513.5 295,525.6 296,535.4 297,543.1 298,549.1 299,553.8 300,557.3 301,559.6 302,561.4 303,563 304,563.9 305,564.6 306,565.4 307,565.8 308,566 309,566.2 310,566.5 311,566.7 312,566.7 313,566.8 314,566.9 315,567 316,567.2 317,567.2 318,567.1 319,567.2 320,567.4 321,567.4 322,567.4 323,567.5 324,567.5 325,567.5 326,567.3 327,567 328,566.7 329,566.8 330,566.8 331,566.7 332,566.7 333,566.8 334,567 335,567.2 336,567.4 337,567.4 338,567.5 339,567.5 340,567.5 341,567.5 342,567.5 343,567.5 344,567.5 345,567.6 346,567.6 347,567.6 348,567.5 349,567.5 350,567.5 351,567.6 352,567.7 353,567.6 354,567.6 355,567.7 356,567.7 357,567.7 358,567.7 359,567.6 360,567.6 361,567.7 362,567.7 363,567.5 364,567.4 365,567.3 366,567.3 367,567.3 368,567.3 369,567.2 370,567.2 371,567.3 372,567.2 373,567.3 374,567.3 375,567.4 376,567.5 377,567.7 378,567.7 379,567.7 380,567.7 381,567.6 382,567.7 383,567.8 384,567.9 385,567.9 386,567.8 387,567.8 388,567.8 389,567.9 390,567.9 391,567.9 392,567.8 393,567.8 394,567.9 395,567.9 396,568 397,568.1 398,568.1 399,568.1 400,568.1 401,568.1 402,568.1 403,568 404,568.1 405,568.1 406,568.1 407,568.1 408,568.1 409,568.1 410,568.1 411,568 412,568.1 413,567.9 414,567.7 415,567.4 416,567.4 417,567.4 418,567.4 419,567.4 420,567.4" fill="none" stroke="#484848" stroke-width="2.2" stroke-linejoin="round"/>
<polygon points="120,581.3 121,581.3 122,581.3 123,581.3 124,581.3 125,581.3 126,581.2 127,581.2 128,581.2 129,581.2 130,581.2 131,581.1 132,581 133,580.9 134,580.7 135,580.4 136,580.1 137,579.9 138,579.7 139,579.5 140,579.3 141,578.9 142,578.3 143,577.8 144,577.2 145,576.6 146,576 147,575.3 148,574.3 149,573.3 150,572.2 151,570.8 152,569.4 153,568.1 154,567 155,565.5 156,564 157,562.9 158,561.1 159,559.4 160,557.9 161,556.4 162,555.3 163,554.1 164,553.1 165,552.4 166,551.6 167,550.9 168,550.5 169,550.3 170,550.2 171,550.5 172,551.3 173,551.7 174,552.9 175,554.1 176,555 177,556.6 178,557.8 179,559.1 180,560.7 181,562.1 182,563.8 183,565.5 184,567.1 185,568.5 186,569.8 187,571 188,571.9 189,573 190,574 191,574.7 192,575.6 193,576.4 194,576.8 195,577.3 196,577.8 197,578 198,578.2 199,578.5 200,578.7 201,578.9 202,579.1 203,579.3 204,579.3 205,579.3 206,579.2 207,579.2 208,579.3 209,579.3 210,579.1 211,579 212,579 213,579 214,579 215,578.8 216,578.6 217,578.3 218,577.8 219,577.5 220,577.3 221,577.1 222,576.9 223,576.7 224,576.4 225,576.3 226,576.1 227,575.7 228,575.3 229,575 230,574.8 231,574.3 232,573.7 233,572.7 234,571.8 235,571.1 236,570.1 237,568.9 238,567.5 239,566.1 240,564.5 241,562.3 242,559.6 243,557.3 244,554.5 245,551 246,547.8 247,543.3 248,538.4 249,533.4 250,527.9 251,522.1 252,516 253,509 254,500.6 255,492.2 256,483 257,472.7 258,463.1 259,452 260,439.4 261,427.5 262,414.6 263,400.6 264,388 265,374.8 266,360 267,346 268,331.6 269,317 270,303.7 271,291.9 272,279 273,265.4 274,252.1 275,240.5 276,230.5 277,221.8 278,214.4 279,207.2 280,202 281,197.8 282,194.6 283,194.5 284,197.8 285,206.1 286,221.8 287,242 288,266.2 289,293.8 290,322.3 291,351.1 292,379.9 293,408.1 294,433.7 295,457.6 296,479.5 297,498 298,514.6 299,528.5 300,540 301,549.4 302,556.3 303,561.9 304,567.1 305,570.7 306,573.4 307,575.2 308,576.4 309,577.3 310,578.2 311,578.9 312,579.2 313,579.4 314,579.7 315,579.8 316,580 317,580.3 318,580.5 319,580.5 320,580.6 321,580.6 322,580.6 323,580.6 324,580.7 325,580.8 326,580.9 327,581 328,581 329,581.1 330,581.2 331,581.3 332,581.3 333,581.2 334,581.3 335,581.4 336,581.4 337,581.4 338,581.5 339,581.5 340,581.5 341,581.6 342,581.6 343,581.5 344,581.5 345,581.5 346,581.5 347,581.6 348,581.7 349,581.6 350,581.6 351,581.6 352,581.6 353,581.7 354,581.7 355,581.8 356,581.9 357,582 358,582 359,582 360,582 361,581.9 362,582 363,582 364,582 365,582 366,582 367,582 368,582.1 369,582 370,581.8 371,581.7 372,581.6 373,581.6 374,581.6 375,581.6 376,581.6 377,581.6 378,581.6 379,581.6 380,581.6 381,581.7 382,581.7 383,581.7 384,581.7 385,581.7 386,581.7 387,581.7 388,581.7 389,581.7 390,581.7 391,581.7 392,581.8 393,581.8 394,581.8 395,581.7 396,581.7 397,581.7 398,581.7 399,581.7 400,581.8 401,581.7 402,581.7 403,581.7 404,581.7 405,581.8 406,581.7 407,581.9 408,582 409,582.2 410,582.2 411,582.2 412,582.2 413,582 414,581.8 415,581.6 416,581.6 417,581.6 418,581.6 419,581.6 420,581.6 420,583.5 120,584.5" fill="#fff"/><polyline points="120,581.3 121,581.3 122,581.3 123,581.3 124,581.3 125,581.3 126,581.2 127,581.2 128,581.2 129,581.2 130,581.2 131,581.1 132,581 133,580.9 134,580.7 135,580.4 136,580.1 137,579.9 138,579.7 139,579.5 140,579.3 141,578.9 142,578.3 143,577.8 144,577.2 145,576.6 146,576 147,575.3 148,574.3 149,573.3 150,572.2 151,570.8 152,569.4 153,568.1 154,567 155,565.5 156,564 157,562.9 158,561.1 159,559.4 160,557.9 161,556.4 162,555.3 163,554.1 164,553.1 165,552.4 166,551.6 167,550.9 168,550.5 169,550.3 170,550.2 171,550.5 172,551.3 173,551.7 174,552.9 175,554.1 176,555 177,556.6 178,557.8 179,559.1 180,560.7 181,562.1 182,563.8 183,565.5 184,567.1 185,568.5 186,569.8 187,571 188,571.9 189,573 190,574 191,574.7 192,575.6 193,576.4 194,576.8 195,577.3 196,577.8 197,578 198,578.2 199,578.5 200,578.7 201,578.9 202,579.1 203,579.3 204,579.3 205,579.3 206,579.2 207,579.2 208,579.3 209,579.3 210,579.1 211,579 212,579 213,579 214,579 215,578.8 216,578.6 217,578.3 218,577.8 219,577.5 220,577.3 221,577.1 222,576.9 223,576.7 224,576.4 225,576.3 226,576.1 227,575.7 228,575.3 229,575 230,574.8 231,574.3 232,573.7 233,572.7 234,571.8 235,571.1 236,570.1 237,568.9 238,567.5 239,566.1 240,564.5 241,562.3 242,559.6 243,557.3 244,554.5 245,551 246,547.8 247,543.3 248,538.4 249,533.4 250,527.9 251,522.1 252,516 253,509 254,500.6 255,492.2 256,483 257,472.7 258,463.1 259,452 260,439.4 261,427.5 262,414.6 263,400.6 264,388 265,374.8 266,360 267,346 268,331.6 269,317 270,303.7 271,291.9 272,279 273,265.4 274,252.1 275,240.5 276,230.5 277,221.8 278,214.4 279,207.2 280,202 281,197.8 282,194.6 283,194.5 284,197.8 285,206.1 286,221.8 287,242 288,266.2 289,293.8 290,322.3 291,351.1 292,379.9 293,408.1 294,433.7 295,457.6 296,479.5 297,498 298,514.6 299,528.5 300,540 301,549.4 302,556.3 303,561.9 304,567.1 305,570.7 306,573.4 307,575.2 308,576.4 309,577.3 310,578.2 311,578.9 312,579.2 313,579.4 314,579.7 315,579.8 316,580 317,580.3 318,580.5 319,580.5 320,580.6 321,580.6 322,580.6 323,580.6 324,580.7 325,580.8 326,580.9 327,581 328,581 329,581.1 330,581.2 331,581.3 332,581.3 333,581.2 334,581.3 335,581.4 336,581.4 337,581.4 338,581.5 339,581.5 340,581.5 341,581.6 342,581.6 343,581.5 344,581.5 345,581.5 346,581.5 347,581.6 348,581.7 349,581.6 350,581.6 351,581.6 352,581.6 353,581.7 354,581.7 355,581.8 356,581.9 357,582 358,582 359,582 360,582 361,581.9 362,582 363,582 364,582 365,582 366,582 367,582 368,582.1 369,582 370,581.8 371,581.7 372,581.6 373,581.6 374,581.6 375,581.6 376,581.6 377,581.6 378,581.6 379,581.6 380,581.6 381,581.7 382,581.7 383,581.7 384,581.7 385,581.7 386,581.7 387,581.7 388,581.7 389,581.7 390,581.7 391,581.7 392,581.8 393,581.8 394,581.8 395,581.7 396,581.7 397,581.7 398,581.7 399,581.7 400,581.8 401,581.7 402,581.7 403,581.7 404,581.7 405,581.8 406,581.7 407,581.9 408,582 409,582.2 410,582.2 411,582.2 412,582.2 413,582 414,581.8 415,581.6 416,581.6 417,581.6 418,581.6 419,581.6 420,581.6" fill="none" stroke="#484848" stroke-width="2.2" stroke-linejoin="round"/>
<polygon points="120,597.6 121,597.5 122,597.4 123,597.4 124,597.3 125,597.2 126,597.1 127,597 128,596.8 129,596.6 130,596.5 131,596.5 132,596.3 133,595.9 134,595.6 135,595.4 136,595 137,594.6 138,594.6 139,594.4 140,594.2 141,594 142,593.4 143,592.8 144,592.2 145,591.6 146,591.2 147,590.8 148,590.2 149,589.6 150,588.9 151,588.3 152,587.6 153,586.9 154,586.6 155,586.1 156,585.3 157,584.6 158,584.2 159,583.9 160,583.1 161,582.4 162,582.1 163,581.9 164,581.4 165,581 166,580.9 167,580.9 168,580.9 169,580.2 170,579.8 171,579.7 172,580 173,579.8 174,580 175,580.3 176,580.5 177,580.8 178,581.2 179,581.8 180,582.4 181,583 182,583.8 183,584.2 184,584.6 185,585.3 186,585.7 187,586 188,586.9 189,587.7 190,588.3 191,588.7 192,589 193,589.5 194,590.1 195,590.5 196,590.8 197,591.1 198,591.5 199,592 200,592.4 201,592.5 202,592.7 203,592.9 204,593.2 205,593.4 206,593.5 207,593.3 208,593.1 209,593.2 210,593.4 211,593.3 212,593.2 213,593.4 214,593.4 215,593.3 216,593.3 217,593.3 218,593.2 219,593.2 220,593 221,592.8 222,592.7 223,592.5 224,592.3 225,592.3 226,592 227,591.8 228,591.7 229,591.3 230,591 231,590.6 232,590.2 233,589.7 234,589 235,588.3 236,588 237,587.6 238,586.5 239,585.3 240,584 241,582.5 242,581 243,579.3 244,576.9 245,574.2 246,571.8 247,568.4 248,564.8 249,560.9 250,556.5 251,552 252,546.3 253,540.5 254,534.3 255,527.2 256,519.6 257,511.2 258,502.4 259,492.8 260,482.5 261,471.1 262,459.9 263,448.5 264,436.6 265,422.6 266,408.2 267,395.7 268,381.2 269,366.2 270,353.4 271,339.8 272,324 273,309.9 274,297.3 275,283.8 276,270.7 277,258.5 278,246.8 279,236.3 280,228.4 281,221.2 282,215.5 283,210.3 284,204.3 285,202.5 286,204.4 287,210.7 288,222.4 289,239.2 290,262.1 291,287.8 292,315.4 293,344.9 294,373.7 295,403.6 296,430.8 297,455.8 298,480.3 299,501.3 300,519.5 301,535 302,547.6 303,558.7 304,567.2 305,573.6 306,578.8 307,582.8 308,586.1 309,588.6 310,590.2 311,591.4 312,592.3 313,592.9 314,593.3 315,593.7 316,594 317,594.3 318,594.5 319,594.6 320,594.8 321,595 322,595 323,595.1 324,595.1 325,595.2 326,595.3 327,595.4 328,595.4 329,595.4 330,595.5 331,595.4 332,595.4 333,595.6 334,595.7 335,595.7 336,595.7 337,595.8 338,595.8 339,595.8 340,595.9 341,595.9 342,595.9 343,596.1 344,596.4 345,596.5 346,596.5 347,596.5 348,596.6 349,596.9 350,597.1 351,597.4 352,597.3 353,597.3 354,597.4 355,597.4 356,597.5 357,597.5 358,597.4 359,597.4 360,597.5 361,597.5 362,597.4 363,597.5 364,597.5 365,597.5 366,597.4 367,597.3 368,597.3 369,597.3 370,597.2 371,597.2 372,597.3 373,597.3 374,597.3 375,597.1 376,596.9 377,596.7 378,596.7 379,596.7 380,596.7 381,596.7 382,596.7 383,596.7 384,596.7 385,596.7 386,596.7 387,596.7 388,596.7 389,596.7 390,596.7 391,596.7 392,596.7 393,596.7 394,596.7 395,596.7 396,596.7 397,596.7 398,596.7 399,596.7 400,596.7 401,596.7 402,596.7 403,596.7 404,596.8 405,596.9 406,596.9 407,596.9 408,596.9 409,596.9 410,596.9 411,596.9 412,596.9 413,596.9 414,597.2 415,597.4 416,597.7 417,597.7 418,597.7 419,597.6 420,597.6 420,599.8 120,600.8" fill="#fff"/><polyline points="120,597.6 121,597.5 122,597.4 123,597.4 124,597.3 125,597.2 126,597.1 127,597 128,596.8 129,596.6 130,596.5 131,596.5 132,596.3 133,595.9 134,595.6 135,595.4 136,595 137,594.6 138,594.6 139,594.4 140,594.2 141,594 142,593.4 143,592.8 144,592.2 145,591.6 146,591.2 147,590.8 148,590.2 149,589.6 150,588.9 151,588.3 152,587.6 153,586.9 154,586.6 155,586.1 156,585.3 157,584.6 158,584.2 159,583.9 160,583.1 161,582.4 162,582.1 163,581.9 164,581.4 165,581 166,580.9 167,580.9 168,580.9 169,580.2 170,579.8 171,579.7 172,580 173,579.8 174,580 175,580.3 176,580.5 177,580.8 178,581.2 179,581.8 180,582.4 181,583 182,583.8 183,584.2 184,584.6 185,585.3 186,585.7 187,586 188,586.9 189,587.7 190,588.3 191,588.7 192,589 193,589.5 194,590.1 195,590.5 196,590.8 197,591.1 198,591.5 199,592 200,592.4 201,592.5 202,592.7 203,592.9 204,593.2 205,593.4 206,593.5 207,593.3 208,593.1 209,593.2 210,593.4 211,593.3 212,593.2 213,593.4 214,593.4 215,593.3 216,593.3 217,593.3 218,593.2 219,593.2 220,593 221,592.8 222,592.7 223,592.5 224,592.3 225,592.3 226,592 227,591.8 228,591.7 229,591.3 230,591 231,590.6 232,590.2 233,589.7 234,589 235,588.3 236,588 237,587.6 238,586.5 239,585.3 240,584 241,582.5 242,581 243,579.3 244,576.9 245,574.2 246,571.8 247,568.4 248,564.8 249,560.9 250,556.5 251,552 252,546.3 253,540.5 254,534.3 255,527.2 256,519.6 257,511.2 258,502.4 259,492.8 260,482.5 261,471.1 262,459.9 263,448.5 264,436.6 265,422.6 266,408.2 267,395.7 268,381.2 269,366.2 270,353.4 271,339.8 272,324 273,309.9 274,297.3 275,283.8 276,270.7 277,258.5 278,246.8 279,236.3 280,228.4 281,221.2 282,215.5 283,210.3 284,204.3 285,202.5 286,204.4 287,210.7 288,222.4 289,239.2 290,262.1 291,287.8 292,315.4 293,344.9 294,373.7 295,403.6 296,430.8 297,455.8 298,480.3 299,501.3 300,519.5 301,535 302,547.6 303,558.7 304,567.2 305,573.6 306,578.8 307,582.8 308,586.1 309,588.6 310,590.2 311,591.4 312,592.3 313,592.9 314,593.3 315,593.7 316,594 317,594.3 318,594.5 319,594.6 320,594.8 321,595 322,595 323,595.1 324,595.1 325,595.2 326,595.3 327,595.4 328,595.4 329,595.4 330,595.5 331,595.4 332,595.4 333,595.6 334,595.7 335,595.7 336,595.7 337,595.8 338,595.8 339,595.8 340,595.9 341,595.9 342,595.9 343,596.1 344,596.4 345,596.5 346,596.5 347,596.5 348,596.6 349,596.9 350,597.1 351,597.4 352,597.3 353,597.3 354,597.4 355,597.4 356,597.5 357,597.5 358,597.4 359,597.4 360,597.5 361,597.5 362,597.4 363,597.5 364,597.5 365,597.5 366,597.4 367,597.3 368,597.3 369,597.3 370,597.2 371,597.2 372,597.3 373,597.3 374,597.3 375,597.1 376,596.9 377,596.7 378,596.7 379,596.7 380,596.7 381,596.7 382,596.7 383,596.7 384,596.7 385,596.7 386,596.7 387,596.7 388,596.7 389,596.7 390,596.7 391,596.7 392,596.7 393,596.7 394,596.7 395,596.7 396,596.7 397,596.7 398,596.7 399,596.7 400,596.7 401,596.7 402,596.7 403,596.7 404,596.8 405,596.9 406,596.9 407,596.9 408,596.9 409,596.9 410,596.9 411,596.9 412,596.9 413,596.9 414,597.2 415,597.4 416,597.7 417,597.7 418,597.7 419,597.6 420,597.6" fill="none" stroke="#484848" stroke-width="2.2" stroke-linejoin="round"/>
<polygon points="120,612.6 121,612.5 122,612.4 123,612.3 124,612.3 125,612.2 126,612.2 127,612.1 128,611.9 129,611.8 130,611.7 131,611.6 132,611.4 133,611.3 134,611.1 135,610.9 136,610.7 137,610.5 138,610.2 139,610 140,609.9 141,609.6 142,609.3 143,609.2 144,609.1 145,608.8 146,608.7 147,608.6 148,608.3 149,608 150,607.8 151,607.4 152,606.8 153,606.3 154,605.8 155,605.5 156,605.3 157,605.1 158,604.7 159,604.4 160,604.3 161,603.9 162,603.5 163,603.4 164,603.3 165,603.3 166,603.1 167,603 168,603 169,603.1 170,602.8 171,602.8 172,602.9 173,603.2 174,603.3 175,603.2 176,603.4 177,603.5 178,603.7 179,604.1 180,604.3 181,604.3 182,604.6 183,604.6 184,604.9 185,605.3 186,605.4 187,605.5 188,605.8 189,606.1 190,606.3 191,606.7 192,607 193,607 194,607.2 195,607.5 196,607.8 197,607.9 198,608.1 199,608.3 200,608.3 201,608.3 202,608.4 203,608.6 204,608.8 205,609 206,608.6 207,608.2 208,608.1 209,608.1 210,608.1 211,608.1 212,608 213,608 214,608.1 215,608.1 216,607.9 217,607.8 218,607.7 219,607.7 220,607.7 221,607.6 222,607.6 223,608 224,608.1 225,608.3 226,608.3 227,608.1 228,607.9 229,607.8 230,607.3 231,606.8 232,606.5 233,606 234,605.4 235,604.9 236,604.5 237,603.8 238,602.9 239,601.9 240,600.7 241,599.7 242,598.2 243,596.4 244,595 245,592.8 246,590.5 247,588.4 248,585.2 249,581.7 250,578 251,573.9 252,569.6 253,564.5 254,559.3 255,553.3 256,546.6 257,539.4 258,530.8 259,522.2 260,513.6 261,503.2 262,493.1 263,482.6 264,470.6 265,458 266,445.1 267,432.4 268,418.6 269,404.5 270,389.3 271,375.3 272,361.2 273,344.6 274,330.2 275,316.8 276,303.9 277,290.6 278,277.8 279,265.9 280,256 281,247 282,238.2 283,229.9 284,223.1 285,218.7 286,215.7 287,215.5 288,215.6 289,222.2 290,236.4 291,255.3 292,279.1 293,306.2 294,334.7 295,365.3 296,396.2 297,424.6 298,451.7 299,477.7 300,500.8 301,521 302,538.9 303,554.1 304,566.4 305,576.2 306,584.5 307,591.2 308,595.7 309,599.3 310,602.4 311,604.4 312,606 313,607.2 314,608 315,608.6 316,609 317,609.4 318,609.7 319,610.5 320,611.2 321,611.7 322,611.8 323,611.9 324,612 325,612.1 326,612.2 327,612.2 328,612.3 329,612.3 330,612.3 331,612.4 332,612.5 333,612.6 334,612.6 335,612.7 336,612.8 337,612.8 338,612.8 339,612.3 340,611.8 341,611.3 342,611.3 343,611.4 344,611.4 345,611.4 346,611.5 347,611.5 348,611.5 349,611.6 350,611.6 351,611.6 352,611.6 353,611.6 354,611.6 355,611.7 356,611.7 357,611.7 358,611.7 359,611.9 360,612.2 361,612.5 362,612.6 363,612.5 364,612.5 365,612.6 366,612.6 367,612.6 368,612.6 369,612.6 370,612.6 371,612.6 372,612.7 373,612.6 374,612.6 375,612.6 376,612.6 377,612.6 378,612.5 379,612.5 380,612.5 381,612.6 382,612.6 383,612.5 384,612.5 385,612.5 386,612.5 387,612.5 388,612.5 389,612.6 390,612.6 391,612.5 392,612.6 393,612.5 394,612.5 395,612.6 396,612.6 397,612.6 398,612.6 399,612.9 400,613.2 401,613.5 402,613.5 403,613.5 404,613.5 405,613.5 406,613.5 407,613.5 408,613.5 409,613.5 410,613.5 411,613.5 412,613.5 413,613.5 414,613.5 415,613.5 416,613.5 417,613.5 418,613.5 419,613.5 420,613.5 420,614.9 120,615.9" fill="#fff"/><polyline points="120,612.6 121,612.5 122,612.4 123,612.3 124,612.3 125,612.2 126,612.2 127,612.1 128,611.9 129,611.8 130,611.7 131,611.6 132,611.4 133,611.3 134,611.1 135,610.9 136,610.7 137,610.5 138,610.2 139,610 140,609.9 141,609.6 142,609.3 143,609.2 144,609.1 145,608.8 146,608.7 147,608.6 148,608.3 149,608 150,607.8 151,607.4 152,606.8 153,606.3 154,605.8 155,605.5 156,605.3 157,605.1 158,604.7 159,604.4 160,604.3 161,603.9 162,603.5 163,603.4 164,603.3 165,603.3 166,603.1 167,603 168,603 169,603.1 170,602.8 171,602.8 172,602.9 173,603.2 174,603.3 175,603.2 176,603.4 177,603.5 178,603.7 179,604.1 180,604.3 181,604.3 182,604.6 183,604.6 184,604.9 185,605.3 186,605.4 187,605.5 188,605.8 189,606.1 190,606.3 191,606.7 192,607 193,607 194,607.2 195,607.5 196,607.8 197,607.9 198,608.1 199,608.3 200,608.3 201,608.3 202,608.4 203,608.6 204,608.8 205,609 206,608.6 207,608.2 208,608.1 209,608.1 210,608.1 211,608.1 212,608 213,608 214,608.1 215,608.1 216,607.9 217,607.8 218,607.7 219,607.7 220,607.7 221,607.6 222,607.6 223,608 224,608.1 225,608.3 226,608.3 227,608.1 228,607.9 229,607.8 230,607.3 231,606.8 232,606.5 233,606 234,605.4 235,604.9 236,604.5 237,603.8 238,602.9 239,601.9 240,600.7 241,599.7 242,598.2 243,596.4 244,595 245,592.8 246,590.5 247,588.4 248,585.2 249,581.7 250,578 251,573.9 252,569.6 253,564.5 254,559.3 255,553.3 256,546.6 257,539.4 258,530.8 259,522.2 260,513.6 261,503.2 262,493.1 263,482.6 264,470.6 265,458 266,445.1 267,432.4 268,418.6 269,404.5 270,389.3 271,375.3 272,361.2 273,344.6 274,330.2 275,316.8 276,303.9 277,290.6 278,277.8 279,265.9 280,256 281,247 282,238.2 283,229.9 284,223.1 285,218.7 286,215.7 287,215.5 288,215.6 289,222.2 290,236.4 291,255.3 292,279.1 293,306.2 294,334.7 295,365.3 296,396.2 297,424.6 298,451.7 299,477.7 300,500.8 301,521 302,538.9 303,554.1 304,566.4 305,576.2 306,584.5 307,591.2 308,595.7 309,599.3 310,602.4 311,604.4 312,606 313,607.2 314,608 315,608.6 316,609 317,609.4 318,609.7 319,610.5 320,611.2 321,611.7 322,611.8 323,611.9 324,612 325,612.1 326,612.2 327,612.2 328,612.3 329,612.3 330,612.3 331,612.4 332,612.5 333,612.6 334,612.6 335,612.7 336,612.8 337,612.8 338,612.8 339,612.3 340,611.8 341,611.3 342,611.3 343,611.4 344,611.4 345,611.4 346,611.5 347,611.5 348,611.5 349,611.6 350,611.6 351,611.6 352,611.6 353,611.6 354,611.6 355,611.7 356,611.7 357,611.7 358,611.7 359,611.9 360,612.2 361,612.5 362,612.6 363,612.5 364,612.5 365,612.6 366,612.6 367,612.6 368,612.6 369,612.6 370,612.6 371,612.6 372,612.7 373,612.6 374,612.6 375,612.6 376,612.6 377,612.6 378,612.5 379,612.5 380,612.5 381,612.6 382,612.6 383,612.5 384,612.5 385,612.5 386,612.5 387,612.5 388,612.5 389,612.6 390,612.6 391,612.5 392,612.6 393,612.5 394,612.5 395,612.6 396,612.6 397,612.6 398,612.6 399,612.9 400,613.2 401,613.5 402,613.5 403,613.5 404,613.5 405,613.5 406,613.5 407,613.5 408,613.5 409,613.5 410,613.5 411,613.5 412,613.5 413,613.5 414,613.5 415,613.5 416,613.5 417,613.5 418,613.5 419,613.5 420,613.5" fill="none" stroke="#484848" stroke-width="2.2" stroke-linejoin="round"/>
<polygon points="120,626.7 121,626.7 122,626.6 123,626.6 124,626.6 125,626.5 126,626.5 127,626.4 128,626.3 129,626.3 130,626.3 131,626.2 132,626.2 133,626.1 134,626 135,625.9 136,625.8 137,625.7 138,625.7 139,625.6 140,625.5 141,625.4 142,625.4 143,625.2 144,625.1 145,625.1 146,625.1 147,624.8 148,624.7 149,624.8 150,624.9 151,624.7 152,624.6 153,624.6 154,624.3 155,624.1 156,624 157,624.1 158,624.1 159,623.8 160,623.7 161,623.8 162,623.7 163,623.7 164,623.9 165,624.1 166,624 167,623.9 168,623.9 169,623.8 170,623.7 171,623.7 172,623.8 173,623.7 174,623.8 175,623.9 176,623.9 177,623.8 178,623.8 179,623.9 180,623.8 181,623.9 182,624 183,624.2 184,624.1 185,624.1 186,624.2 187,624.3 188,624.4 189,624.3 190,624 191,624 192,624.1 193,624.2 194,624.3 195,624.4 196,624.4 197,624.3 198,624.2 199,624.2 200,624.4 201,624.4 202,624.4 203,624.4 204,624.4 205,624.4 206,624.2 207,624.1 208,624.1 209,624 210,624 211,624.1 212,624.2 213,624 214,624.2 215,624.4 216,624.8 217,624.8 218,624.6 219,624.5 220,624.5 221,624.2 222,624.1 223,624.1 224,623.8 225,623.6 226,623.6 227,623.5 228,623.3 229,622.9 230,622.4 231,622.3 232,621.9 233,621.4 234,621 235,620.7 236,620.5 237,619.8 238,619 239,618.2 240,617.2 241,616.4 242,614.8 243,613.2 244,611.4 245,609.5 246,607.8 247,605.8 248,603.3 249,600.6 250,597.1 251,593.9 252,590.4 253,586.4 254,581.7 255,575.8 256,570.5 257,564.8 258,557.9 259,550 260,542.2 261,533.4 262,523.6 263,513.8 264,503.2 265,492.6 266,480.7 267,468.1 268,455.7 269,441.3 270,426.6 271,412.9 272,398.7 273,384.4 274,369 275,354.5 276,341.4 277,326.7 278,311.7 279,298.5 280,286.4 281,274.9 282,264.3 283,254.7 284,245.9 285,239.2 286,232.2 287,226.4 288,225.5 289,224.2 290,227 291,236.4 292,251.2 293,271.7 294,296 295,324.2 296,353.9 297,384 298,415.2 299,444.4 300,470.6 301,496.1 302,519.3 303,539.2 304,556.6 305,570.5 306,582.4 307,592.7 308,600.3 309,606.3 310,610.7 311,614.3 312,617.6 313,619.5 314,620.9 315,622.2 316,623.1 317,623.8 318,624.1 319,624.4 320,624.8 321,625 322,625.1 323,625.4 324,625.6 325,625.7 326,625.6 327,625.6 328,625.7 329,625.6 330,625.7 331,625.9 332,625.9 333,625.8 334,625.9 335,626 336,626 337,626.1 338,626.2 339,626.2 340,626.2 341,626.2 342,626.3 343,626.3 344,626.4 345,626.5 346,626.4 347,626.4 348,626.5 349,626.6 350,626.6 351,626.6 352,626.6 353,626.5 354,626.6 355,626.6 356,626.7 357,626.7 358,626.7 359,626.6 360,626.5 361,626.4 362,626.4 363,626.4 364,626.4 365,626.4 366,626.4 367,626.5 368,626.5 369,626.5 370,626.4 371,626.4 372,626.5 373,626.5 374,626.5 375,626.5 376,626.5 377,626.5 378,626.5 379,626.5 380,626.5 381,626.6 382,626.5 383,626.5 384,626.6 385,626.5 386,626.6 387,626.6 388,626.5 389,626.6 390,626.5 391,626.5 392,626.6 393,626.6 394,626.7 395,626.8 396,627 397,627 398,627 399,627 400,627 401,627.3 402,627.5 403,627.8 404,627.8 405,627.8 406,627.8 407,627.8 408,627.8 409,627.9 410,628 411,628.1 412,628 413,628 414,628 415,628.1 416,628 417,628 418,628 419,628 420,628 420,628.8 120,629.8" fill="#fff"/><polyline points="120,626.7 121,626.7 122,626.6 123,626.6 124,626.6 125,626.5 126,626.5 127,626.4 128,626.3 129,626.3 130,626.3 131,626.2 132,626.2 133,626.1 134,626 135,625.9 136,625.8 137,625.7 138,625.7 139,625.6 140,625.5 141,625.4 142,625.4 143,625.2 144,625.1 145,625.1 146,625.1 147,624.8 148,624.7 149,624.8 150,624.9 151,624.7 152,624.6 153,624.6 154,624.3 155,624.1 156,624 157,624.1 158,624.1 159,623.8 160,623.7 161,623.8 162,623.7 163,623.7 164,623.9 165,624.1 166,624 167,623.9 168,623.9 169,623.8 170,623.7 171,623.7 172,623.8 173,623.7 174,623.8 175,623.9 176,623.9 177,623.8 178,623.8 179,623.9 180,623.8 181,623.9 182,624 183,624.2 184,624.1 185,624.1 186,624.2 187,624.3 188,624.4 189,624.3 190,624 191,624 192,624.1 193,624.2 194,624.3 195,624.4 196,624.4 197,624.3 198,624.2 199,624.2 200,624.4 201,624.4 202,624.4 203,624.4 204,624.4 205,624.4 206,624.2 207,624.1 208,624.1 209,624 210,624 211,624.1 212,624.2 213,624 214,624.2 215,624.4 216,624.8 217,624.8 218,624.6 219,624.5 220,624.5 221,624.2 222,624.1 223,624.1 224,623.8 225,623.6 226,623.6 227,623.5 228,623.3 229,622.9 230,622.4 231,622.3 232,621.9 233,621.4 234,621 235,620.7 236,620.5 237,619.8 238,619 239,618.2 240,617.2 241,616.4 242,614.8 243,613.2 244,611.4 245,609.5 246,607.8 247,605.8 248,603.3 249,600.6 250,597.1 251,593.9 252,590.4 253,586.4 254,581.7 255,575.8 256,570.5 257,564.8 258,557.9 259,550 260,542.2 261,533.4 262,523.6 263,513.8 264,503.2 265,492.6 266,480.7 267,468.1 268,455.7 269,441.3 270,426.6 271,412.9 272,398.7 273,384.4 274,369 275,354.5 276,341.4 277,326.7 278,311.7 279,298.5 280,286.4 281,274.9 282,264.3 283,254.7 284,245.9 285,239.2 286,232.2 287,226.4 288,225.5 289,224.2 290,227 291,236.4 292,251.2 293,271.7 294,296 295,324.2 296,353.9 297,384 298,415.2 299,444.4 300,470.6 301,496.1 302,519.3 303,539.2 304,556.6 305,570.5 306,582.4 307,592.7 308,600.3 309,606.3 310,610.7 311,614.3 312,617.6 313,619.5 314,620.9 315,622.2 316,623.1 317,623.8 318,624.1 319,624.4 320,624.8 321,625 322,625.1 323,625.4 324,625.6 325,625.7 326,625.6 327,625.6 328,625.7 329,625.6 330,625.7 331,625.9 332,625.9 333,625.8 334,625.9 335,626 336,626 337,626.1 338,626.2 339,626.2 340,626.2 341,626.2 342,626.3 343,626.3 344,626.4 345,626.5 346,626.4 347,626.4 348,626.5 349,626.6 350,626.6 351,626.6 352,626.6 353,626.5 354,626.6 355,626.6 356,626.7 357,626.7 358,626.7 359,626.6 360,626.5 361,626.4 362,626.4 363,626.4 364,626.4 365,626.4 366,626.4 367,626.5 368,626.5 369,626.5 370,626.4 371,626.4 372,626.5 373,626.5 374,626.5 375,626.5 376,626.5 377,626.5 378,626.5 379,626.5 380,626.5 381,626.6 382,626.5 383,626.5 384,626.6 385,626.5 386,626.6 387,626.6 388,626.5 389,626.6 390,626.5 391,626.5 392,626.6 393,626.6 394,626.7 395,626.8 396,627 397,627 398,627 399,627 400,627 401,627.3 402,627.5 403,627.8 404,627.8 405,627.8 406,627.8 407,627.8 408,627.8 409,627.9 410,628 411,628.1 412,628 413,628 414,628 415,628.1 416,628 417,628 418,628 419,628 420,628" fill="none" stroke="#484848" stroke-width="2.2" stroke-linejoin="round"/>
<polygon points="120,643 121,643 122,643 123,643 124,642.9 125,643 126,643 127,642.9 128,642.9 129,642.9 130,642.9 131,642.8 132,642.7 133,642.7 134,642.7 135,642.7 136,642.7 137,642.7 138,642.8 139,642.7 140,642.6 141,642.6 142,642.6 143,642.6 144,642.5 145,642.5 146,642.5 147,642.5 148,642.5 149,642.5 150,642.4 151,642.4 152,642.3 153,642.5 154,642.7 155,642.9 156,642.8 157,642.8 158,642.8 159,642.7 160,642.7 161,642.7 162,642.6 163,642.6 164,642.6 165,642.6 166,642.6 167,642.5 168,642.5 169,642.5 170,642.4 171,642.4 172,642.3 173,642.2 174,642.2 175,642.2 176,642.2 177,642.2 178,642.1 179,642.1 180,642 181,641.9 182,641.9 183,641.8 184,641.7 185,641.8 186,641.8 187,641.8 188,641.7 189,641.7 190,641.7 191,641.5 192,641.6 193,641.6 194,641.4 195,641.4 196,641.4 197,641.3 198,641.2 199,641.1 200,641 201,641 202,640.9 203,640.7 204,640.8 205,640.7 206,640.6 207,640.6 208,640.5 209,639.9 210,639.4 211,639.1 212,639 213,639 214,638.8 215,638.7 216,638.6 217,638.5 218,638.5 219,638.6 220,638.5 221,638.4 222,638.3 223,637.9 224,637.8 225,637.7 226,637.5 227,637.3 228,637.1 229,636.9 230,636.4 231,636 232,635.7 233,635.3 234,634.8 235,634.5 236,634.2 237,634 238,633.8 239,633.3 240,632.6 241,631.7 242,630.8 243,629.8 244,628.4 245,627 246,625.5 247,623.6 248,621.5 249,619.2 250,616.7 251,613.7 252,610.6 253,607.3 254,603.2 255,598.8 256,593.9 257,588.2 258,582 259,575.2 260,567.5 261,559.6 262,552.2 263,543.2 264,533.2 265,523.9 266,512.7 267,501.1 268,489.8 269,476.8 270,463.8 271,449.9 272,434.5 273,419.9 274,405.3 275,389.5 276,374.1 277,361 278,346.6 279,331 280,317 281,303.7 282,291.2 283,279.2 284,267.8 285,257.6 286,249.5 287,243.6 288,239.8 289,236.4 290,234.2 291,233.7 292,237.5 293,247.8 294,265 295,286.8 296,312.8 297,343.6 298,374.4 299,405.1 300,435.3 301,463.5 302,490.9 303,516.1 304,538.9 305,558.9 306,575 307,588.4 308,600.1 309,609.5 310,616.7 311,622.7 312,627.4 313,630.9 314,633.3 315,635.2 316,636.6 317,637.5 318,638.1 319,638.3 320,638.8 321,639.2 322,639.4 323,639.6 324,639.9 325,640.2 326,640.2 327,640.5 328,640.6 329,640.6 330,640.7 331,640.8 332,640.9 333,641 334,641 335,641.1 336,641.2 337,641.2 338,641.4 339,641.6 340,641.6 341,641.6 342,641.7 343,641.9 344,642.2 345,642.4 346,642.4 347,642.4 348,642.4 349,642.5 350,642.5 351,642.6 352,642.5 353,642.5 354,642.5 355,642.5 356,642.4 357,642.4 358,642.4 359,642.5 360,642.5 361,642.5 362,642.6 363,642.6 364,642.6 365,642.6 366,642.6 367,642.6 368,642.7 369,642.7 370,642.8 371,643 372,643.2 373,643.3 374,643.3 375,643.2 376,643.2 377,643.3 378,643.2 379,643.2 380,643.3 381,643.3 382,643.3 383,643.3 384,643.3 385,643.3 386,643.3 387,643.3 388,643.3 389,643.3 390,643.3 391,643.3 392,643.3 393,643.3 394,643.5 395,643.6 396,643.9 397,643.8 398,643.8 399,643.8 400,643.9 401,643.9 402,643.9 403,643.8 404,643.8 405,643.8 406,643.8 407,643.8 408,643.8 409,643.9 410,643.9 411,643.9 412,643.9 413,644 414,644.1 415,644.1 416,644.1 417,644.1 418,644.1 419,644.1 420,644.1 420,645.2 120,646.2" fill="#fff"/><polyline points="120,643 121,643 122,643 123,643 124,642.9 125,643 126,643 127,642.9 128,642.9 129,642.9 130,642.9 131,642.8 132,642.7 133,642.7 134,642.7 135,642.7 136,642.7 137,642.7 138,642.8 139,642.7 140,642.6 141,642.6 142,642.6 143,642.6 144,642.5 145,642.5 146,642.5 147,642.5 148,642.5 149,642.5 150,642.4 151,642.4 152,642.3 153,642.5 154,642.7 155,642.9 156,642.8 157,642.8 158,642.8 159,642.7 160,642.7 161,642.7 162,642.6 163,642.6 164,642.6 165,642.6 166,642.6 167,642.5 168,642.5 169,642.5 170,642.4 171,642.4 172,642.3 173,642.2 174,642.2 175,642.2 176,642.2 177,642.2 178,642.1 179,642.1 180,642 181,641.9 182,641.9 183,641.8 184,641.7 185,641.8 186,641.8 187,641.8 188,641.7 189,641.7 190,641.7 191,641.5 192,641.6 193,641.6 194,641.4 195,641.4 196,641.4 197,641.3 198,641.2 199,641.1 200,641 201,641 202,640.9 203,640.7 204,640.8 205,640.7 206,640.6 207,640.6 208,640.5 209,639.9 210,639.4 211,639.1 212,639 213,639 214,638.8 215,638.7 216,638.6 217,638.5 218,638.5 219,638.6 220,638.5 221,638.4 222,638.3 223,637.9 224,637.8 225,637.7 226,637.5 227,637.3 228,637.1 229,636.9 230,636.4 231,636 232,635.7 233,635.3 234,634.8 235,634.5 236,634.2 237,634 238,633.8 239,633.3 240,632.6 241,631.7 242,630.8 243,629.8 244,628.4 245,627 246,625.5 247,623.6 248,621.5 249,619.2 250,616.7 251,613.7 252,610.6 253,607.3 254,603.2 255,598.8 256,593.9 257,588.2 258,582 259,575.2 260,567.5 261,559.6 262,552.2 263,543.2 264,533.2 265,523.9 266,512.7 267,501.1 268,489.8 269,476.8 270,463.8 271,449.9 272,434.5 273,419.9 274,405.3 275,389.5 276,374.1 277,361 278,346.6 279,331 280,317 281,303.7 282,291.2 283,279.2 284,267.8 285,257.6 286,249.5 287,243.6 288,239.8 289,236.4 290,234.2 291,233.7 292,237.5 293,247.8 294,265 295,286.8 296,312.8 297,343.6 298,374.4 299,405.1 300,435.3 301,463.5 302,490.9 303,516.1 304,538.9 305,558.9 306,575 307,588.4 308,600.1 309,609.5 310,616.7 311,622.7 312,627.4 313,630.9 314,633.3 315,635.2 316,636.6 317,637.5 318,638.1 319,638.3 320,638.8 321,639.2 322,639.4 323,639.6 324,639.9 325,640.2 326,640.2 327,640.5 328,640.6 329,640.6 330,640.7 331,640.8 332,640.9 333,641 334,641 335,641.1 336,641.2 337,641.2 338,641.4 339,641.6 340,641.6 341,641.6 342,641.7 343,641.9 344,642.2 345,642.4 346,642.4 347,642.4 348,642.4 349,642.5 350,642.5 351,642.6 352,642.5 353,642.5 354,642.5 355,642.5 356,642.4 357,642.4 358,642.4 359,642.5 360,642.5 361,642.5 362,642.6 363,642.6 364,642.6 365,642.6 366,642.6 367,642.6 368,642.7 369,642.7 370,642.8 371,643 372,643.2 373,643.3 374,643.3 375,643.2 376,643.2 377,643.3 378,643.2 379,643.2 380,643.3 381,643.3 382,643.3 383,643.3 384,643.3 385,643.3 386,643.3 387,643.3 388,643.3 389,643.3 390,643.3 391,643.3 392,643.3 393,643.3 394,643.5 395,643.6 396,643.9 397,643.8 398,643.8 399,643.8 400,643.9 401,643.9 402,643.9 403,643.8 404,643.8 405,643.8 406,643.8 407,643.8 408,643.8 409,643.9 410,643.9 411,643.9 412,643.9 413,644 414,644.1 415,644.1 416,644.1 417,644.1 418,644.1 419,644.1 420,644.1" fill="none" stroke="#484848" stroke-width="2.2" stroke-linejoin="round"/>
<polygon points="120,657 121,656.9 122,656.8 123,656.9 124,656.8 125,656.7 126,656.8 127,656.8 128,656.8 129,656.8 130,656.8 131,656.8 132,656.7 133,656.7 134,656.7 135,656.7 136,656.7 137,656.7 138,656.5 139,656.5 140,656.6 141,656.6 142,656.7 143,656.9 144,657.2 145,657.1 146,657.1 147,657.1 148,657 149,657 150,657 151,656.9 152,656.9 153,656.9 154,656.9 155,656.9 156,656.9 157,656.9 158,656.9 159,656.7 160,656.6 161,656.7 162,656.6 163,656.5 164,656.5 165,656.6 166,656.5 167,656.4 168,656.4 169,656.4 170,656.3 171,656.3 172,656.3 173,656.3 174,656.2 175,656.2 176,656.1 177,656.1 178,656.1 179,656 180,655.9 181,655.9 182,655.8 183,655.8 184,655.7 185,655.8 186,655.7 187,655.6 188,655.6 189,655.5 190,655.4 191,655.3 192,655.2 193,655.1 194,655.1 195,655.1 196,655.1 197,655.1 198,654.9 199,654.9 200,654.8 201,654.7 202,654.6 203,654.6 204,654.7 205,654.9 206,654.9 207,654.8 208,654.6 209,654.4 210,654.4 211,654.4 212,654.3 213,654.2 214,654.2 215,654 216,653.9 217,653.8 218,653.5 219,653.3 220,653.3 221,653.2 222,653 223,652.8 224,652.6 225,652.5 226,652.4 227,652.3 228,652.1 229,651.8 230,651.4 231,651.2 232,650.9 233,650.7 234,650.2 235,649.7 236,649.6 237,649.3 238,648.6 239,648 240,647.6 241,646.9 242,645.5 243,644.2 244,643 245,642 246,640.8 247,639.5 248,638.1 249,635.9 250,633.7 251,631.3 252,628.9 253,626.4 254,623 255,619.2 256,615 257,610.3 258,606.1 259,600.1 260,593.8 261,587.9 262,579.9 263,571.3 264,563.1 265,554.6 266,545 267,534.1 268,523.4 269,511.8 270,499.2 271,486.1 272,473.1 273,458.9 274,444.9 275,430.4 276,414.3 277,399.7 278,385.2 279,368.7 280,353.7 281,339.5 282,324.7 283,312.4 284,300 285,288.2 286,278 287,269.3 288,261.2 289,252.2 290,246.2 291,242.6 292,241.3 293,241.8 294,247.9 295,260.1 296,277.5 297,300.6 298,327.3 299,356.7 300,388.2 301,419.7 302,449.7 303,477.9 304,505.2 305,531 306,552.6 307,571.8 308,589.3 309,603.1 310,614.2 311,623.9 312,631.7 313,637.1 314,641.5 315,645.1 316,647.4 317,649.4 318,650.9 319,651.7 320,652.5 321,653.1 322,653.6 323,653.9 324,654.5 325,654.9 326,655.2 327,655.4 328,655.6 329,655.7 330,655.8 331,655.9 332,656 333,656.1 334,656.2 335,656.2 336,656.3 337,656.4 338,656.5 339,656.5 340,656.5 341,656.6 342,656.5 343,656.5 344,656.4 345,656.4 346,656.5 347,656.5 348,656.4 349,656.5 350,656.6 351,656.6 352,656.6 353,656.7 354,656.7 355,656.7 356,656.7 357,656.7 358,656.6 359,656.7 360,656.8 361,656.8 362,656.8 363,656.9 364,656.8 365,656.8 366,656.8 367,656.8 368,657 369,657.1 370,657.3 371,657.2 372,657.3 373,657.3 374,657.3 375,657.3 376,657.3 377,657.3 378,657.3 379,657.3 380,657.3 381,657.3 382,657.3 383,657.3 384,657.4 385,657.4 386,657.4 387,657.4 388,657.4 389,657.4 390,657.4 391,657.4 392,657.4 393,657.4 394,657.3 395,657.3 396,657.3 397,657.3 398,657.3 399,657.3 400,657 401,656.7 402,656.4 403,656.4 404,656.4 405,656.5 406,656.5 407,656.4 408,656.5 409,656.4 410,656.5 411,656.5 412,656.4 413,656.4 414,656.4 415,656.5 416,656.5 417,656.4 418,656.4 419,656.5 420,656.5 420,658.8 120,659.8" fill="#fff"/><polyline points="120,657 121,656.9 122,656.8 123,656.9 124,656.8 125,656.7 126,656.8 127,656.8 128,656.8 129,656.8 130,656.8 131,656.8 132,656.7 133,656.7 134,656.7 135,656.7 136,656.7 137,656.7 138,656.5 139,656.5 140,656.6 141,656.6 142,656.7 143,656.9 144,657.2 145,657.1 146,657.1 147,657.1 148,657 149,657 150,657 151,656.9 152,656.9 153,656.9 154,656.9 155,656.9 156,656.9 157,656.9 158,656.9 159,656.7 160,656.6 161,656.7 162,656.6 163,656.5 164,656.5 165,656.6 166,656.5 167,656.4 168,656.4 169,656.4 170,656.3 171,656.3 172,656.3 173,656.3 174,656.2 175,656.2 176,656.1 177,656.1 178,656.1 179,656 180,655.9 181,655.9 182,655.8 183,655.8 184,655.7 185,655.8 186,655.7 187,655.6 188,655.6 189,655.5 190,655.4 191,655.3 192,655.2 193,655.1 194,655.1 195,655.1 196,655.1 197,655.1 198,654.9 199,654.9 200,654.8 201,654.7 202,654.6 203,654.6 204,654.7 205,654.9 206,654.9 207,654.8 208,654.6 209,654.4 210,654.4 211,654.4 212,654.3 213,654.2 214,654.2 215,654 216,653.9 217,653.8 218,653.5 219,653.3 220,653.3 221,653.2 222,653 223,652.8 224,652.6 225,652.5 226,652.4 227,652.3 228,652.1 229,651.8 230,651.4 231,651.2 232,650.9 233,650.7 234,650.2 235,649.7 236,649.6 237,649.3 238,648.6 239,648 240,647.6 241,646.9 242,645.5 243,644.2 244,643 245,642 246,640.8 247,639.5 248,638.1 249,635.9 250,633.7 251,631.3 252,628.9 253,626.4 254,623 255,619.2 256,615 257,610.3 258,606.1 259,600.1 260,593.8 261,587.9 262,579.9 263,571.3 264,563.1 265,554.6 266,545 267,534.1 268,523.4 269,511.8 270,499.2 271,486.1 272,473.1 273,458.9 274,444.9 275,430.4 276,414.3 277,399.7 278,385.2 279,368.7 280,353.7 281,339.5 282,324.7 283,312.4 284,300 285,288.2 286,278 287,269.3 288,261.2 289,252.2 290,246.2 291,242.6 292,241.3 293,241.8 294,247.9 295,260.1 296,277.5 297,300.6 298,327.3 299,356.7 300,388.2 301,419.7 302,449.7 303,477.9 304,505.2 305,531 306,552.6 307,571.8 308,589.3 309,603.1 310,614.2 311,623.9 312,631.7 313,637.1 314,641.5 315,645.1 316,647.4 317,649.4 318,650.9 319,651.7 320,652.5 321,653.1 322,653.6 323,653.9 324,654.5 325,654.9 326,655.2 327,655.4 328,655.6 329,655.7 330,655.8 331,655.9 332,656 333,656.1 334,656.2 335,656.2 336,656.3 337,656.4 338,656.5 339,656.5 340,656.5 341,656.6 342,656.5 343,656.5 344,656.4 345,656.4 346,656.5 347,656.5 348,656.4 349,656.5 350,656.6 351,656.6 352,656.6 353,656.7 354,656.7 355,656.7 356,656.7 357,656.7 358,656.6 359,656.7 360,656.8 361,656.8 362,656.8 363,656.9 364,656.8 365,656.8 366,656.8 367,656.8 368,657 369,657.1 370,657.3 371,657.2 372,657.3 373,657.3 374,657.3 375,657.3 376,657.3 377,657.3 378,657.3 379,657.3 380,657.3 381,657.3 382,657.3 383,657.3 384,657.4 385,657.4 386,657.4 387,657.4 388,657.4 389,657.4 390,657.4 391,657.4 392,657.4 393,657.4 394,657.3 395,657.3 396,657.3 397,657.3 398,657.3 399,657.3 400,657 401,656.7 402,656.4 403,656.4 404,656.4 405,656.5 406,656.5 407,656.4 408,656.5 409,656.4 410,656.5 411,656.5 412,656.4 413,656.4 414,656.4 415,656.5 416,656.5 417,656.4 418,656.4 419,656.5 420,656.5" fill="none" stroke="#484848" stroke-width="2.2" stroke-linejoin="round"/>
<polygon points="120,674.5 121,674.6 122,674.6 123,674.5 124,674.6 125,674.6 126,674.6 127,674.5 128,674.4 129,674.5 130,674.4 131,674.3 132,674.4 133,674.4 134,674.3 135,674.4 136,674.4 137,674.3 138,674.3 139,674.3 140,674.3 141,674.3 142,674.2 143,674 144,674 145,673.7 146,673.8 147,673.7 148,673.7 149,673.7 150,673.7 151,673.7 152,673.6 153,673.5 154,673.6 155,673.6 156,673.6 157,673.5 158,673.4 159,673.5 160,673.4 161,673.3 162,673.3 163,673.3 164,673.4 165,673.3 166,673.2 167,673.3 168,673.3 169,673.2 170,673.2 171,673.1 172,673.1 173,673.1 174,673.2 175,673.2 176,673.1 177,673 178,673 179,672.9 180,672.8 181,672.9 182,672.8 183,672.7 184,672.7 185,672.6 186,672.4 187,672.2 188,672.1 189,671.9 190,671.7 191,671.7 192,671.7 193,671.6 194,671.6 195,671.8 196,671.5 197,671.1 198,670.9 199,670.8 200,670.6 201,670.8 202,670.6 203,670.1 204,669.7 205,669.8 206,669.8 207,669.6 208,669.5 209,669.4 210,669.2 211,669.2 212,669.1 213,668.9 214,668.7 215,668.7 216,668.6 217,668.5 218,668.5 219,668.4 220,668.2 221,667.9 222,667.7 223,667.5 224,667.7 225,668 226,667.9 227,667.3 228,667.3 229,667.2 230,666.9 231,666.6 232,666.3 233,665.7 234,665.4 235,665 236,664.5 237,664 238,663.6 239,663.3 240,662.7 241,662 242,661.3 243,660.8 244,659.8 245,658.6 246,657.7 247,656.7 248,655.4 249,653.8 250,651.9 251,649.8 252,647.5 253,645 254,642.2 255,639.6 256,636.9 257,633.3 258,628.7 259,624 260,619.1 261,613.5 262,606.7 263,599.9 264,592.4 265,583.8 266,575.4 267,566.4 268,556.3 269,545.7 270,533.9 271,521.5 272,508 273,495 274,481.8 275,467.7 276,453.1 277,437.5 278,421.9 279,407.5 280,393.6 281,378 282,362.8 283,349.5 284,335 285,320.7 286,308 287,297.5 288,288 289,277.8 290,268.8 291,262.7 292,259.9 293,256.9 294,254.7 295,257.5 296,265.9 297,280.8 298,302.8 299,327.5 300,355.1 301,386.3 302,418.2 303,449.3 304,479.8 305,508.6 306,534.5 307,557.9 308,579.3 309,597.8 310,613.3 311,625.3 312,635.3 313,643.7 314,650.1 315,655.1 316,659.2 317,662.3 318,664.3 319,665.9 320,667.2 321,668.1 322,668.9 323,669.5 324,669.8 325,670 326,670.4 327,670.6 328,670.8 329,671 330,671.1 331,671.3 332,671.5 333,671.6 334,671.6 335,671.8 336,671.9 337,671.8 338,671.9 339,672.2 340,672.6 341,672.8 342,672.9 343,672.9 344,672.9 345,672.9 346,673 347,673.1 348,673.2 349,673.2 350,673.2 351,673.2 352,673.3 353,673.3 354,673.3 355,673.4 356,673.4 357,673.4 358,673.4 359,673.4 360,673.4 361,673.5 362,673.5 363,673.5 364,673.6 365,673.6 366,673.6 367,673.6 368,673.6 369,673.6 370,673.7 371,673.7 372,673.7 373,673.7 374,673.7 375,673.7 376,673.7 377,673.7 378,673.7 379,673.8 380,673.8 381,673.8 382,673.8 383,673.7 384,673.8 385,673.8 386,673.6 387,673.3 388,673.1 389,673.1 390,673.1 391,673.1 392,673.1 393,673.1 394,673.1 395,673.1 396,673.1 397,673.1 398,673.1 399,673.2 400,673.2 401,673.1 402,673.1 403,673.2 404,673 405,672.8 406,672.7 407,672.7 408,672.7 409,672.7 410,672.7 411,672.7 412,672.7 413,672.7 414,672.7 415,672.7 416,672.8 417,672.9 418,673 419,673 420,673 420,675.4 120,676.4" fill="#fff"/><polyline points="120,674.5 121,674.6 122,674.6 123,674.5 124,674.6 125,674.6 126,674.6 127,674.5 128,674.4 129,674.5 130,674.4 131,674.3 132,674.4 133,674.4 134,674.3 135,674.4 136,674.4 137,674.3 138,674.3 139,674.3 140,674.3 141,674.3 142,674.2 143,674 144,674 145,673.7 146,673.8 147,673.7 148,673.7 149,673.7 150,673.7 151,673.7 152,673.6 153,673.5 154,673.6 155,673.6 156,673.6 157,673.5 158,673.4 159,673.5 160,673.4 161,673.3 162,673.3 163,673.3 164,673.4 165,673.3 166,673.2 167,673.3 168,673.3 169,673.2 170,673.2 171,673.1 172,673.1 173,673.1 174,673.2 175,673.2 176,673.1 177,673 178,673 179,672.9 180,672.8 181,672.9 182,672.8 183,672.7 184,672.7 185,672.6 186,672.4 187,672.2 188,672.1 189,671.9 190,671.7 191,671.7 192,671.7 193,671.6 194,671.6 195,671.8 196,671.5 197,671.1 198,670.9 199,670.8 200,670.6 201,670.8 202,670.6 203,670.1 204,669.7 205,669.8 206,669.8 207,669.6 208,669.5 209,669.4 210,669.2 211,669.2 212,669.1 213,668.9 214,668.7 215,668.7 216,668.6 217,668.5 218,668.5 219,668.4 220,668.2 221,667.9 222,667.7 223,667.5 224,667.7 225,668 226,667.9 227,667.3 228,667.3 229,667.2 230,666.9 231,666.6 232,666.3 233,665.7 234,665.4 235,665 236,664.5 237,664 238,663.6 239,663.3 240,662.7 241,662 242,661.3 243,660.8 244,659.8 245,658.6 246,657.7 247,656.7 248,655.4 249,653.8 250,651.9 251,649.8 252,647.5 253,645 254,642.2 255,639.6 256,636.9 257,633.3 258,628.7 259,624 260,619.1 261,613.5 262,606.7 263,599.9 264,592.4 265,583.8 266,575.4 267,566.4 268,556.3 269,545.7 270,533.9 271,521.5 272,508 273,495 274,481.8 275,467.7 276,453.1 277,437.5 278,421.9 279,407.5 280,393.6 281,378 282,362.8 283,349.5 284,335 285,320.7 286,308 287,297.5 288,288 289,277.8 290,268.8 291,262.7 292,259.9 293,256.9 294,254.7 295,257.5 296,265.9 297,280.8 298,302.8 299,327.5 300,355.1 301,386.3 302,418.2 303,449.3 304,479.8 305,508.6 306,534.5 307,557.9 308,579.3 309,597.8 310,613.3 311,625.3 312,635.3 313,643.7 314,650.1 315,655.1 316,659.2 317,662.3 318,664.3 319,665.9 320,667.2 321,668.1 322,668.9 323,669.5 324,669.8 325,670 326,670.4 327,670.6 328,670.8 329,671 330,671.1 331,671.3 332,671.5 333,671.6 334,671.6 335,671.8 336,671.9 337,671.8 338,671.9 339,672.2 340,672.6 341,672.8 342,672.9 343,672.9 344,672.9 345,672.9 346,673 347,673.1 348,673.2 349,673.2 350,673.2 351,673.2 352,673.3 353,673.3 354,673.3 355,673.4 356,673.4 357,673.4 358,673.4 359,673.4 360,673.4 361,673.5 362,673.5 363,673.5 364,673.6 365,673.6 366,673.6 367,673.6 368,673.6 369,673.6 370,673.7 371,673.7 372,673.7 373,673.7 374,673.7 375,673.7 376,673.7 377,673.7 378,673.7 379,673.8 380,673.8 381,673.8 382,673.8 383,673.7 384,673.8 385,673.8 386,673.6 387,673.3 388,673.1 389,673.1 390,673.1 391,673.1 392,673.1 393,673.1 394,673.1 395,673.1 396,673.1 397,673.1 398,673.1 399,673.2 400,673.2 401,673.1 402,673.1 403,673.2 404,673 405,672.8 406,672.7 407,672.7 408,672.7 409,672.7 410,672.7 411,672.7 412,672.7 413,672.7 414,672.7 415,672.7 416,672.8 417,672.9 418,673 419,673 420,673" fill="none" stroke="#484848" stroke-width="2.2" stroke-linejoin="round"/>
<polygon points="430,389.1 431,389.1 432,389.1 433,389.1 434,389.1 435,389.1 436,389.1 437,389.1 438,389.1 439,389.1 440,389 441,389 442,389.1 443,389.1 444,389 445,389 446,389 447,388.9 448,388.9 449,389 450,389 451,389 452,389 453,389.1 454,389.2 455,389.2 456,389.3 457,389.3 458,389.3 459,389.2 460,389.3 461,389.2 462,389.2 463,389.2 464,389.3 465,389.2 466,389.2 467,389.2 468,389.2 469,389.2 470,389.2 471,389.2 472,389.2 473,389.2 474,389.2 475,389.1 476,388.9 477,388.8 478,388.7 479,388.7 480,388.7 481,388.6 482,388.6 483,388.6 484,388.6 485,388.6 486,388.6 487,388.6 488,388.6 489,388.5 490,388.5 491,388.6 492,388.6 493,388.5 494,388.6 495,388.6 496,388.7 497,388.7 498,388.6 499,388.7 500,388.7 501,388.7 502,388.6 503,388.5 504,388.5 505,388.4 506,388.4 507,388.4 508,388.4 509,388.4 510,388.4 511,388.4 512,388.3 513,388.3 514,388.3 515,388.2 516,388.3 517,388.1 518,387.9 519,387.9 520,387.9 521,387.9 522,388.1 523,388.1 524,387.9 525,387.9 526,388.1 527,388.4 528,388.8 529,388.7 530,388.6 531,388.5 532,388.3 533,388.1 534,388.1 535,388.1 536,387.9 537,387.7 538,387.6 539,387.4 540,387.3 541,387.2 542,386.9 543,386.6 544,386.2 545,386.1 546,385.8 547,385.5 548,385.2 549,384.7 550,384.4 551,384 552,382.8 553,381.8 554,380.8 555,380.5 556,379.2 557,377.5 558,376.3 559,374.7 560,372.3 561,368.5 562,365 563,360.4 564,353.8 565,346 566,336.3 567,325.6 568,313.9 569,300.5 570,284.9 571,269.7 572,255.7 573,244.1 574,237.1 575,235.4 576,237.5 577,243.1 578,250.9 579,257.4 580,260.5 581,261.2 582,257.1 583,249 584,240.5 585,232.6 586,226 587,226.2 588,230.1 589,231.1 590,235.2 591,242 592,247.7 593,251.9 594,258.4 595,267.5 596,275.2 597,282.8 598,292 599,301.7 600,310.1 601,317.9 602,325.5 603,332.1 604,339.6 605,346.5 606,351.4 607,356.7 608,362 609,365.8 610,369.3 611,372.7 612,375.4 613,377.6 614,379.5 615,381.2 616,382.4 617,383.6 618,384.5 619,385.2 620,385.9 621,386.3 622,386.7 623,387.1 624,387.4 624,390.9 430,391.4" fill="#fff"/><polyline points="430,389.1 431,389.1 432,389.1 433,389.1 434,389.1 435,389.1 436,389.1 437,389.1 438,389.1 439,389.1 440,389 441,389 442,389.1 443,389.1 444,389 445,389 446,389 447,388.9 448,388.9 449,389 450,389 451,389 452,389 453,389.1 454,389.2 455,389.2 456,389.3 457,389.3 458,389.3 459,389.2 460,389.3 461,389.2 462,389.2 463,389.2 464,389.3 465,389.2 466,389.2 467,389.2 468,389.2 469,389.2 470,389.2 471,389.2 472,389.2 473,389.2 474,389.2 475,389.1 476,388.9 477,388.8 478,388.7 479,388.7 480,388.7 481,388.6 482,388.6 483,388.6 484,388.6 485,388.6 486,388.6 487,388.6 488,388.6 489,388.5 490,388.5 491,388.6 492,388.6 493,388.5 494,388.6 495,388.6 496,388.7 497,388.7 498,388.6 499,388.7 500,388.7 501,388.7 502,388.6 503,388.5 504,388.5 505,388.4 506,388.4 507,388.4 508,388.4 509,388.4 510,388.4 511,388.4 512,388.3 513,388.3 514,388.3 515,388.2 516,388.3 517,388.1 518,387.9 519,387.9 520,387.9 521,387.9 522,388.1 523,388.1 524,387.9 525,387.9 526,388.1 527,388.4 528,388.8 529,388.7 530,388.6 531,388.5 532,388.3 533,388.1 534,388.1 535,388.1 536,387.9 537,387.7 538,387.6 539,387.4 540,387.3 541,387.2 542,386.9 543,386.6 544,386.2 545,386.1 546,385.8 547,385.5 548,385.2 549,384.7 550,384.4 551,384 552,382.8 553,381.8 554,380.8 555,380.5 556,379.2 557,377.5 558,376.3 559,374.7 560,372.3 561,368.5 562,365 563,360.4 564,353.8 565,346 566,336.3 567,325.6 568,313.9 569,300.5 570,284.9 571,269.7 572,255.7 573,244.1 574,237.1 575,235.4 576,237.5 577,243.1 578,250.9 579,257.4 580,260.5 581,261.2 582,257.1 583,249 584,240.5 585,232.6 586,226 587,226.2 588,230.1 589,231.1 590,235.2 591,242 592,247.7 593,251.9 594,258.4 595,267.5 596,275.2 597,282.8 598,292 599,301.7 600,310.1 601,317.9 602,325.5 603,332.1 604,339.6 605,346.5 606,351.4 607,356.7 608,362 609,365.8 610,369.3 611,372.7 612,375.4 613,377.6 614,379.5 615,381.2 616,382.4 617,383.6 618,384.5 619,385.2 620,385.9 621,386.3 622,386.7 623,387.1 624,387.4" fill="none" stroke="#5a5ea8" stroke-width="2.2" stroke-linejoin="round"/>
<polygon points="430,406 431,406 432,406 433,406 434,406 435,405.9 436,406 437,406 438,406 439,405.9 440,405.9 441,405.9 442,405.9 443,405.8 444,405.8 445,405.8 446,405.8 447,405.8 448,405.9 449,405.8 450,405.8 451,405.8 452,405.8 453,405.8 454,405.7 455,405.7 456,405.7 457,405.8 458,405.7 459,405.7 460,405.8 461,405.7 462,405.7 463,405.7 464,405.7 465,405.7 466,405.7 467,405.6 468,405.6 469,405.6 470,405.6 471,405.5 472,405.5 473,405.5 474,405.6 475,405.5 476,405.4 477,405.5 478,405.6 479,405.5 480,405.4 481,405.4 482,405.4 483,405.4 484,405.4 485,405.5 486,405.4 487,405.3 488,405.3 489,405.3 490,405.5 491,405.8 492,406 493,406 494,406 495,406 496,406 497,405.9 498,405.8 499,405.9 500,405.9 501,405.8 502,405.8 503,405.8 504,405.8 505,405.7 506,405.6 507,405.7 508,405.7 509,405.7 510,405.4 511,405.1 512,404.8 513,404.9 514,404.8 515,404.7 516,404.6 517,404.5 518,404.5 519,404.4 520,404.4 521,404.4 522,404.2 523,404.2 524,404.1 525,404.1 526,404 527,403.8 528,403.6 529,403.5 530,403.4 531,403.3 532,403.1 533,403 534,403 535,402.8 536,402.4 537,402.2 538,402.2 539,402 540,401.4 541,400.8 542,400.3 543,399.8 544,399.5 545,399 546,398.3 547,397.5 548,396.9 549,396.2 550,394.7 551,393.4 552,392.4 553,390.3 554,387.6 555,384.1 556,380.1 557,374.9 558,367.7 559,359.8 560,351.4 561,339.9 562,325.2 563,311.3 564,296.9 565,282.7 566,268.6 567,256.7 568,252.3 569,254 570,260.1 571,270 572,279.9 573,289.1 574,297.1 575,300.6 576,298.1 577,289.6 578,277.3 579,265.2 580,254.6 581,247.4 582,243.6 583,244.1 584,245.7 585,247.6 586,252.4 587,257.8 588,264.1 589,271.2 590,279.5 591,287.9 592,296.9 593,306.2 594,315 595,324.8 596,333.4 597,340.9 598,348.4 599,355.6 600,362.4 601,368.2 602,373.9 603,379.5 604,383.8 605,387.1 606,389.8 607,392.7 608,395.4 609,397.7 610,399.3 611,400.4 612,401.5 613,402.1 614,402.9 615,403.6 616,403.9 617,404 618,404.1 619,404 620,404.1 621,404.3 622,404.5 623,404.6 624,404.7 624,407.6 430,408.1" fill="#fff"/><polyline points="430,406 431,406 432,406 433,406 434,406 435,405.9 436,406 437,406 438,406 439,405.9 440,405.9 441,405.9 442,405.9 443,405.8 444,405.8 445,405.8 446,405.8 447,405.8 448,405.9 449,405.8 450,405.8 451,405.8 452,405.8 453,405.8 454,405.7 455,405.7 456,405.7 457,405.8 458,405.7 459,405.7 460,405.8 461,405.7 462,405.7 463,405.7 464,405.7 465,405.7 466,405.7 467,405.6 468,405.6 469,405.6 470,405.6 471,405.5 472,405.5 473,405.5 474,405.6 475,405.5 476,405.4 477,405.5 478,405.6 479,405.5 480,405.4 481,405.4 482,405.4 483,405.4 484,405.4 485,405.5 486,405.4 487,405.3 488,405.3 489,405.3 490,405.5 491,405.8 492,406 493,406 494,406 495,406 496,406 497,405.9 498,405.8 499,405.9 500,405.9 501,405.8 502,405.8 503,405.8 504,405.8 505,405.7 506,405.6 507,405.7 508,405.7 509,405.7 510,405.4 511,405.1 512,404.8 513,404.9 514,404.8 515,404.7 516,404.6 517,404.5 518,404.5 519,404.4 520,404.4 521,404.4 522,404.2 523,404.2 524,404.1 525,404.1 526,404 527,403.8 528,403.6 529,403.5 530,403.4 531,403.3 532,403.1 533,403 534,403 535,402.8 536,402.4 537,402.2 538,402.2 539,402 540,401.4 541,400.8 542,400.3 543,399.8 544,399.5 545,399 546,398.3 547,397.5 548,396.9 549,396.2 550,394.7 551,393.4 552,392.4 553,390.3 554,387.6 555,384.1 556,380.1 557,374.9 558,367.7 559,359.8 560,351.4 561,339.9 562,325.2 563,311.3 564,296.9 565,282.7 566,268.6 567,256.7 568,252.3 569,254 570,260.1 571,270 572,279.9 573,289.1 574,297.1 575,300.6 576,298.1 577,289.6 578,277.3 579,265.2 580,254.6 581,247.4 582,243.6 583,244.1 584,245.7 585,247.6 586,252.4 587,257.8 588,264.1 589,271.2 590,279.5 591,287.9 592,296.9 593,306.2 594,315 595,324.8 596,333.4 597,340.9 598,348.4 599,355.6 600,362.4 601,368.2 602,373.9 603,379.5 604,383.8 605,387.1 606,389.8 607,392.7 608,395.4 609,397.7 610,399.3 611,400.4 612,401.5 613,402.1 614,402.9 615,403.6 616,403.9 617,404 618,404.1 619,404 620,404.1 621,404.3 622,404.5 623,404.6 624,404.7" fill="none" stroke="#5a5ea8" stroke-width="2.2" stroke-linejoin="round"/>
<polygon points="430,420.1 431,420.2 432,420.2 433,420.2 434,420.1 435,420.1 436,420.1 437,420.1 438,420.1 439,420.1 440,420.1 441,420.1 442,420.1 443,420.1 444,420.2 445,419.8 446,419.5 447,419.2 448,419.2 449,419.2 450,419.2 451,419.1 452,419.2 453,419.2 454,419.2 455,419.1 456,419.2 457,419.2 458,419.2 459,419.2 460,419.1 461,419.1 462,419.1 463,419.1 464,419.1 465,419.1 466,419.1 467,419.3 468,419.4 469,419.7 470,419.6 471,419.5 472,419.5 473,419.6 474,419.5 475,419.5 476,419.5 477,419.5 478,419.5 479,419.4 480,419.4 481,419.5 482,419.4 483,419.5 484,419.6 485,419.6 486,419.6 487,419.6 488,419.7 489,419.6 490,419.6 491,419.5 492,419.4 493,419.4 494,419.5 495,419.4 496,419.3 497,419.4 498,419.5 499,419.7 500,419.6 501,419.5 502,419.6 503,419.6 504,419.5 505,419.5 506,419.4 507,419.3 508,419.3 509,419.4 510,419.4 511,419.1 512,419 513,419.1 514,419.1 515,419.1 516,418.9 517,418.7 518,418.6 519,418.6 520,418.5 521,418.4 522,418.5 523,418.4 524,418 525,417.8 526,417.7 527,417.3 528,416.8 529,416.8 530,416.7 531,416.5 532,416.3 533,416.1 534,416 535,415.8 536,415.6 537,415.3 538,414.9 539,414.3 540,413.8 541,413.5 542,412.8 543,412.1 544,411.2 545,410.5 546,409 547,407.2 548,405.4 549,403 550,399.5 551,395.4 552,390.7 553,384.1 554,376.3 555,366.5 556,355.9 557,344.1 558,330.3 559,314.8 560,298.2 561,285.5 562,274.8 563,269.1 564,269.6 565,274.3 566,283.9 567,294.9 568,306 569,313.7 570,315 571,313.1 572,306.1 573,295 574,282.9 575,271.1 576,264.8 577,262.1 578,262.1 579,264.7 580,268.4 581,274.2 582,278.8 583,283.3 584,291.3 585,298.6 586,306.1 587,316 588,324.7 589,332.4 590,340.5 591,348.5 592,356.4 593,364.3 594,372 595,378.7 596,383.9 597,388.7 598,393.8 599,397.7 600,401.2 601,404.8 602,407.4 603,409.6 604,411.9 605,413.6 606,415 607,416.4 608,417.4 609,418.1 610,418.8 611,419.3 612,419.6 613,419.9 614,420.1 615,420.3 616,420.3 617,420.3 618,420.2 619,420.2 620,420.3 621,420.3 622,420.4 623,420.3 624,420.4 624,422 430,422.5" fill="#fff"/><polyline points="430,420.1 431,420.2 432,420.2 433,420.2 434,420.1 435,420.1 436,420.1 437,420.1 438,420.1 439,420.1 440,420.1 441,420.1 442,420.1 443,420.1 444,420.2 445,419.8 446,419.5 447,419.2 448,419.2 449,419.2 450,419.2 451,419.1 452,419.2 453,419.2 454,419.2 455,419.1 456,419.2 457,419.2 458,419.2 459,419.2 460,419.1 461,419.1 462,419.1 463,419.1 464,419.1 465,419.1 466,419.1 467,419.3 468,419.4 469,419.7 470,419.6 471,419.5 472,419.5 473,419.6 474,419.5 475,419.5 476,419.5 477,419.5 478,419.5 479,419.4 480,419.4 481,419.5 482,419.4 483,419.5 484,419.6 485,419.6 486,419.6 487,419.6 488,419.7 489,419.6 490,419.6 491,419.5 492,419.4 493,419.4 494,419.5 495,419.4 496,419.3 497,419.4 498,419.5 499,419.7 500,419.6 501,419.5 502,419.6 503,419.6 504,419.5 505,419.5 506,419.4 507,419.3 508,419.3 509,419.4 510,419.4 511,419.1 512,419 513,419.1 514,419.1 515,419.1 516,418.9 517,418.7 518,418.6 519,418.6 520,418.5 521,418.4 522,418.5 523,418.4 524,418 525,417.8 526,417.7 527,417.3 528,416.8 529,416.8 530,416.7 531,416.5 532,416.3 533,416.1 534,416 535,415.8 536,415.6 537,415.3 538,414.9 539,414.3 540,413.8 541,413.5 542,412.8 543,412.1 544,411.2 545,410.5 546,409 547,407.2 548,405.4 549,403 550,399.5 551,395.4 552,390.7 553,384.1 554,376.3 555,366.5 556,355.9 557,344.1 558,330.3 559,314.8 560,298.2 561,285.5 562,274.8 563,269.1 564,269.6 565,274.3 566,283.9 567,294.9 568,306 569,313.7 570,315 571,313.1 572,306.1 573,295 574,282.9 575,271.1 576,264.8 577,262.1 578,262.1 579,264.7 580,268.4 581,274.2 582,278.8 583,283.3 584,291.3 585,298.6 586,306.1 587,316 588,324.7 589,332.4 590,340.5 591,348.5 592,356.4 593,364.3 594,372 595,378.7 596,383.9 597,388.7 598,393.8 599,397.7 600,401.2 601,404.8 602,407.4 603,409.6 604,411.9 605,413.6 606,415 607,416.4 608,417.4 609,418.1 610,418.8 611,419.3 612,419.6 613,419.9 614,420.1 615,420.3 616,420.3 617,420.3 618,420.2 619,420.2 620,420.3 621,420.3 622,420.4 623,420.3 624,420.4" fill="none" stroke="#5a5ea8" stroke-width="2.2" stroke-linejoin="round"/>
<polygon points="430,436.4 431,436.4 432,436.4 433,436.3 434,436.3 435,436.4 436,436.3 437,436.3 438,436.3 439,436.2 440,436.4 441,436.6 442,436.7 443,436.6 444,436.6 445,436.6 446,436.6 447,436.6 448,436.6 449,436.5 450,436.4 451,436.5 452,436.6 453,436.5 454,436.4 455,436.5 456,436.5 457,436.5 458,436.5 459,436.5 460,436.4 461,436.4 462,436.4 463,436.4 464,436.4 465,436.4 466,436.3 467,436.3 468,436.4 469,436.4 470,436.4 471,436.3 472,436.5 473,436.5 474,436.4 475,436.3 476,436.3 477,436.4 478,436.3 479,436.3 480,436.2 481,436.3 482,436.2 483,436 484,435.9 485,436 486,436 487,435.9 488,435.8 489,435.8 490,435.7 491,435.6 492,435.4 493,435.4 494,435.3 495,435 496,434.9 497,434.8 498,434.5 499,434.4 500,434.2 501,434.1 502,433.9 503,433.5 504,433.6 505,433.6 506,433.4 507,433.2 508,432.8 509,432.6 510,432.4 511,431.8 512,431.5 513,431.1 514,430.5 515,430.5 516,429.8 517,429 518,428 519,426.9 520,425.7 521,424.2 522,422.1 523,419.4 524,416.6 525,412.3 526,406.7 527,400.9 528,393.4 529,383.6 530,372.6 531,360.9 532,348 533,334 534,320.3 535,309.1 536,299.5 537,291.6 538,290.8 539,294.5 540,299 541,302.7 542,306.5 543,307.8 544,304.3 545,298 546,291.9 547,287.2 548,284.8 549,285.7 550,287.1 551,290.9 552,295.1 553,300.1 554,305.4 555,311.1 556,318.3 557,325.6 558,333 559,340.4 560,348.6 561,356.6 562,364.5 563,372.2 564,378.4 565,385.4 566,393 567,399 568,404 569,408.8 570,412.7 571,416.1 572,419.7 573,423 574,425.4 575,427.3 576,429 577,430.4 578,431.6 579,432.6 580,433.4 581,433.9 582,434.4 583,434.9 584,435.2 585,435.3 586,435.6 587,435.7 588,435.9 589,436.2 590,436.2 591,436.2 592,436.2 593,436.4 594,436.5 595,436.6 596,436.6 597,436.6 598,436.7 599,436.6 600,436.6 601,436.6 602,436.6 603,436.7 604,436.7 605,436.8 606,436.7 607,436.7 608,436.8 609,436.7 610,436.7 611,436.7 612,436.7 613,436.7 614,436.7 615,436.7 616,436.7 617,436.7 618,436.7 619,436.7 620,436.8 621,436.5 622,436.3 623,436.1 624,436.1 624,438.7 430,439.2" fill="#fff"/><polyline points="430,436.4 431,436.4 432,436.4 433,436.3 434,436.3 435,436.4 436,436.3 437,436.3 438,436.3 439,436.2 440,436.4 441,436.6 442,436.7 443,436.6 444,436.6 445,436.6 446,436.6 447,436.6 448,436.6 449,436.5 450,436.4 451,436.5 452,436.6 453,436.5 454,436.4 455,436.5 456,436.5 457,436.5 458,436.5 459,436.5 460,436.4 461,436.4 462,436.4 463,436.4 464,436.4 465,436.4 466,436.3 467,436.3 468,436.4 469,436.4 470,436.4 471,436.3 472,436.5 473,436.5 474,436.4 475,436.3 476,436.3 477,436.4 478,436.3 479,436.3 480,436.2 481,436.3 482,436.2 483,436 484,435.9 485,436 486,436 487,435.9 488,435.8 489,435.8 490,435.7 491,435.6 492,435.4 493,435.4 494,435.3 495,435 496,434.9 497,434.8 498,434.5 499,434.4 500,434.2 501,434.1 502,433.9 503,433.5 504,433.6 505,433.6 506,433.4 507,433.2 508,432.8 509,432.6 510,432.4 511,431.8 512,431.5 513,431.1 514,430.5 515,430.5 516,429.8 517,429 518,428 519,426.9 520,425.7 521,424.2 522,422.1 523,419.4 524,416.6 525,412.3 526,406.7 527,400.9 528,393.4 529,383.6 530,372.6 531,360.9 532,348 533,334 534,320.3 535,309.1 536,299.5 537,291.6 538,290.8 539,294.5 540,299 541,302.7 542,306.5 543,307.8 544,304.3 545,298 546,291.9 547,287.2 548,284.8 549,285.7 550,287.1 551,290.9 552,295.1 553,300.1 554,305.4 555,311.1 556,318.3 557,325.6 558,333 559,340.4 560,348.6 561,356.6 562,364.5 563,372.2 564,378.4 565,385.4 566,393 567,399 568,404 569,408.8 570,412.7 571,416.1 572,419.7 573,423 574,425.4 575,427.3 576,429 577,430.4 578,431.6 579,432.6 580,433.4 581,433.9 582,434.4 583,434.9 584,435.2 585,435.3 586,435.6 587,435.7 588,435.9 589,436.2 590,436.2 591,436.2 592,436.2 593,436.4 594,436.5 595,436.6 596,436.6 597,436.6 598,436.7 599,436.6 600,436.6 601,436.6 602,436.6 603,436.7 604,436.7 605,436.8 606,436.7 607,436.7 608,436.8 609,436.7 610,436.7 611,436.7 612,436.7 613,436.7 614,436.7 615,436.7 616,436.7 617,436.7 618,436.7 619,436.7 620,436.8 621,436.5 622,436.3 623,436.1 624,436.1" fill="none" stroke="#5a5ea8" stroke-width="2.2" stroke-linejoin="round"/>
<polygon points="430,450 431,450 432,449.9 433,449.9 434,449.9 435,449.9 436,449.9 437,449.8 438,449.8 439,449.8 440,449.7 441,449.7 442,449.7 443,449.6 444,449.7 445,449.6 446,449.6 447,449.7 448,449.6 449,449.5 450,449.6 451,449.6 452,449.5 453,449.4 454,449.3 455,449.2 456,449.2 457,449.1 458,449 459,449 460,448.9 461,448.7 462,448.6 463,448.7 464,448.6 465,448.4 466,448.5 467,448.4 468,448.6 469,448.7 470,448.5 471,448.3 472,448.1 473,448 474,447.9 475,447.8 476,447.6 477,447.5 478,447.5 479,447.4 480,447 481,446.4 482,446.2 483,446.3 484,445.8 485,445.2 486,445 487,444.4 488,443.9 489,443.3 490,442.3 491,441.7 492,440.7 493,439.5 494,438.3 495,436 496,433.5 497,430.4 498,426.1 499,421.1 500,414.3 501,406.2 502,396.4 503,385.7 504,374.5 505,363.4 506,352.1 507,338.6 508,328.8 509,323.4 510,319.4 511,319.4 512,322 513,323.3 514,323.6 515,323.3 516,320.1 517,316.2 518,312.9 519,310 520,310.1 521,314.5 522,319.3 523,323.1 524,326 525,331 526,336.9 527,342.6 528,349.5 529,355.2 530,361.1 531,368.1 532,374.6 533,383 534,390.7 535,395.5 536,401.5 537,407.9 538,413.7 539,419 540,423.1 541,427.2 542,430.9 543,434 544,436.5 545,438.8 546,441 547,442.4 548,443.8 549,445.1 550,446 551,446.9 552,447.4 553,447.8 554,448.3 555,448.7 556,448.9 557,449.1 558,449.3 559,449.3 560,449.4 561,449.7 562,449.8 563,450 564,450.1 565,450.1 566,450.2 567,450.2 568,450.1 569,450.1 570,450.2 571,450.2 572,450.2 573,450.2 574,450.2 575,450.2 576,450.2 577,450.2 578,450.1 579,450.1 580,450.2 581,450.2 582,450.2 583,450.2 584,450.2 585,450.7 586,451.2 587,451.6 588,451.7 589,451.7 590,451.7 591,451.7 592,451.6 593,451.7 594,451.7 595,451.7 596,451.7 597,451.7 598,451.6 599,451.7 600,451.7 601,451.7 602,451.7 603,451.7 604,451.4 605,451.1 606,450.8 607,450.9 608,450.9 609,450.8 610,450.8 611,450.9 612,450.8 613,450.5 614,450.3 615,450 616,450 617,450.1 618,450 619,450 620,450 621,450 622,450.1 623,450.1 624,450 624,452 430,452.5" fill="#fff"/><polyline points="430,450 431,450 432,449.9 433,449.9 434,449.9 435,449.9 436,449.9 437,449.8 438,449.8 439,449.8 440,449.7 441,449.7 442,449.7 443,449.6 444,449.7 445,449.6 446,449.6 447,449.7 448,449.6 449,449.5 450,449.6 451,449.6 452,449.5 453,449.4 454,449.3 455,449.2 456,449.2 457,449.1 458,449 459,449 460,448.9 461,448.7 462,448.6 463,448.7 464,448.6 465,448.4 466,448.5 467,448.4 468,448.6 469,448.7 470,448.5 471,448.3 472,448.1 473,448 474,447.9 475,447.8 476,447.6 477,447.5 478,447.5 479,447.4 480,447 481,446.4 482,446.2 483,446.3 484,445.8 485,445.2 486,445 487,444.4 488,443.9 489,443.3 490,442.3 491,441.7 492,440.7 493,439.5 494,438.3 495,436 496,433.5 497,430.4 498,426.1 499,421.1 500,414.3 501,406.2 502,396.4 503,385.7 504,374.5 505,363.4 506,352.1 507,338.6 508,328.8 509,323.4 510,319.4 511,319.4 512,322 513,323.3 514,323.6 515,323.3 516,320.1 517,316.2 518,312.9 519,310 520,310.1 521,314.5 522,319.3 523,323.1 524,326 525,331 526,336.9 527,342.6 528,349.5 529,355.2 530,361.1 531,368.1 532,374.6 533,383 534,390.7 535,395.5 536,401.5 537,407.9 538,413.7 539,419 540,423.1 541,427.2 542,430.9 543,434 544,436.5 545,438.8 546,441 547,442.4 548,443.8 549,445.1 550,446 551,446.9 552,447.4 553,447.8 554,448.3 555,448.7 556,448.9 557,449.1 558,449.3 559,449.3 560,449.4 561,449.7 562,449.8 563,450 564,450.1 565,450.1 566,450.2 567,450.2 568,450.1 569,450.1 570,450.2 571,450.2 572,450.2 573,450.2 574,450.2 575,450.2 576,450.2 577,450.2 578,450.1 579,450.1 580,450.2 581,450.2 582,450.2 583,450.2 584,450.2 585,450.7 586,451.2 587,451.6 588,451.7 589,451.7 590,451.7 591,451.7 592,451.6 593,451.7 594,451.7 595,451.7 596,451.7 597,451.7 598,451.6 599,451.7 600,451.7 601,451.7 602,451.7 603,451.7 604,451.4 605,451.1 606,450.8 607,450.9 608,450.9 609,450.8 610,450.8 611,450.9 612,450.8 613,450.5 614,450.3 615,450 616,450 617,450.1 618,450 619,450 620,450 621,450 622,450.1 623,450.1 624,450" fill="none" stroke="#5a5ea8" stroke-width="2.2" stroke-linejoin="round"/>
<polygon points="430,461.4 431,461.3 432,461.1 433,460.8 434,460.7 435,460.7 436,460.4 437,460.3 438,460 439,459.6 440,459.5 441,459.1 442,458.7 443,458.5 444,458.1 445,457.6 446,456.8 447,456 448,455.2 449,454.5 450,453.9 451,453.3 452,452.6 453,451.4 454,450.5 455,449.4 456,447.7 457,445.6 458,443.2 459,441.2 460,439 461,436 462,432.8 463,428.8 464,425.3 465,420.8 466,414.7 467,408.9 468,401.3 469,393.5 470,386.2 471,376.9 472,367.3 473,359.4 474,352.7 475,349.3 476,347.7 477,345.4 478,344.7 479,345.8 480,347.5 481,346.3 482,344.1 483,342 484,340.3 485,338.6 486,337.1 487,335.4 488,333.8 489,335.4 490,339 491,341.4 492,344.6 493,349.5 494,353 495,357.1 496,362.9 497,369.9 498,375.1 499,380.6 500,387.7 501,393.3 502,398.6 503,404.4 504,410.4 505,416.4 506,421.7 507,426.5 508,430.9 509,435.1 510,439.2 511,443.3 512,446.6 513,449.2 514,451.9 515,454.3 516,456 517,457.4 518,459 519,460.3 520,461.1 521,461.9 522,462.6 523,463.2 524,463.5 525,463.9 526,464.3 527,464.4 528,464.6 529,464.9 530,464.9 531,465 532,465.4 533,465.7 534,466.1 535,466.2 536,466.2 537,466.2 538,466.3 539,466.3 540,466.3 541,466.4 542,466.4 543,466.3 544,466.2 545,466.3 546,466.3 547,466.4 548,466.3 549,466.3 550,466.3 551,466.4 552,466.3 553,466.4 554,466.4 555,466.4 556,466.4 557,466.4 558,466.4 559,466.4 560,466.5 561,466.5 562,466.4 563,466.4 564,466.4 565,466.5 566,466.4 567,466.4 568,466.4 569,466.4 570,466.4 571,466.5 572,466.4 573,466.4 574,466.5 575,466.5 576,466.5 577,466.4 578,466.4 579,466.4 580,466.5 581,466.5 582,466.5 583,466.5 584,466.5 585,466.5 586,466.5 587,466.5 588,466.4 589,466.5 590,466.7 591,466.9 592,467.2 593,467.2 594,467.1 595,467.1 596,467.2 597,467.2 598,467.2 599,467.2 600,467.2 601,467.1 602,467.1 603,467.2 604,467.2 605,467.2 606,467.2 607,467.2 608,467.2 609,467.2 610,467.3 611,467.4 612,467.4 613,467.4 614,467.3 615,467.4 616,467.4 617,467.4 618,467.4 619,467.4 620,467.4 621,467.4 622,467.4 623,467.4 624,467.4 624,467.8 430,467.6" fill="#fff"/><polyline points="430,461.4 431,461.3 432,461.1 433,460.8 434,460.7 435,460.7 436,460.4 437,460.3 438,460 439,459.6 440,459.5 441,459.1 442,458.7 443,458.5 444,458.1 445,457.6 446,456.8 447,456 448,455.2 449,454.5 450,453.9 451,453.3 452,452.6 453,451.4 454,450.5 455,449.4 456,447.7 457,445.6 458,443.2 459,441.2 460,439 461,436 462,432.8 463,428.8 464,425.3 465,420.8 466,414.7 467,408.9 468,401.3 469,393.5 470,386.2 471,376.9 472,367.3 473,359.4 474,352.7 475,349.3 476,347.7 477,345.4 478,344.7 479,345.8 480,347.5 481,346.3 482,344.1 483,342 484,340.3 485,338.6 486,337.1 487,335.4 488,333.8 489,335.4 490,339 491,341.4 492,344.6 493,349.5 494,353 495,357.1 496,362.9 497,369.9 498,375.1 499,380.6 500,387.7 501,393.3 502,398.6 503,404.4 504,410.4 505,416.4 506,421.7 507,426.5 508,430.9 509,435.1 510,439.2 511,443.3 512,446.6 513,449.2 514,451.9 515,454.3 516,456 517,457.4 518,459 519,460.3 520,461.1 521,461.9 522,462.6 523,463.2 524,463.5 525,463.9 526,464.3 527,464.4 528,464.6 529,464.9 530,464.9 531,465 532,465.4 533,465.7 534,466.1 535,466.2 536,466.2 537,466.2 538,466.3 539,466.3 540,466.3 541,466.4 542,466.4 543,466.3 544,466.2 545,466.3 546,466.3 547,466.4 548,466.3 549,466.3 550,466.3 551,466.4 552,466.3 553,466.4 554,466.4 555,466.4 556,466.4 557,466.4 558,466.4 559,466.4 560,466.5 561,466.5 562,466.4 563,466.4 564,466.4 565,466.5 566,466.4 567,466.4 568,466.4 569,466.4 570,466.4 571,466.5 572,466.4 573,466.4 574,466.5 575,466.5 576,466.5 577,466.4 578,466.4 579,466.4 580,466.5 581,466.5 582,466.5 583,466.5 584,466.5 585,466.5 586,466.5 587,466.5 588,466.4 589,466.5 590,466.7 591,466.9 592,467.2 593,467.2 594,467.1 595,467.1 596,467.2 597,467.2 598,467.2 599,467.2 600,467.2 601,467.1 602,467.1 603,467.2 604,467.2 605,467.2 606,467.2 607,467.2 608,467.2 609,467.2 610,467.3 611,467.4 612,467.4 613,467.4 614,467.3 615,467.4 616,467.4 617,467.4 618,467.4 619,467.4 620,467.4 621,467.4 622,467.4 623,467.4 624,467.4" fill="none" stroke="#484848" stroke-width="2.2" stroke-linejoin="round"/>
<polygon points="430,476.6 431,476.2 432,475.9 433,475.9 434,475.9 435,475.9 436,475.7 437,475.5 438,475.2 439,474.5 440,474.5 441,474.7 442,474.4 443,474 444,473.8 445,473.9 446,473.6 447,472.8 448,472.8 449,473.2 450,473.2 451,472.6 452,472.3 453,471.8 454,470.8 455,470 456,469.6 457,468.7 458,467.8 459,466.5 460,465 461,463.7 462,462.4 463,460.6 464,458.6 465,456.3 466,453.6 467,450.9 468,447.6 469,443.9 470,439.5 471,434.4 472,427.8 473,421.8 474,415 475,406.2 476,397.4 477,389 478,380.2 479,371.9 480,366.7 481,363 482,360.5 483,358.7 484,357.1 485,357.9 486,359.8 487,359.3 488,358 489,355.7 490,352.3 491,350.2 492,348.8 493,345.9 494,345.6 495,348.5 496,351.6 497,354.9 498,358.6 499,363 500,367.1 501,370.4 502,375.6 503,382 504,386.8 505,393.4 506,399.5 507,406 508,413.8 509,419.3 510,424.4 511,430.1 512,434.9 513,439.4 514,444.2 515,449.1 516,453.2 517,456.8 518,460.2 519,463.2 520,465.6 521,468.1 522,469.9 523,471.5 524,472.9 525,474 526,474.9 527,475.8 528,476.7 529,477.1 530,477.6 531,478 532,478.1 533,478.4 534,479 535,479.4 536,479.6 537,479.7 538,479.9 539,480 540,480.1 541,480.1 542,480.1 543,480.1 544,480.1 545,480.1 546,480.2 547,480.2 548,480.2 549,480.2 550,480.2 551,480.2 552,480.2 553,480.3 554,480.3 555,480.3 556,480.6 557,480.8 558,481.1 559,481.1 560,481 561,481.1 562,481.1 563,481.1 564,481.1 565,481.1 566,481.1 567,481.2 568,481.2 569,481.1 570,481.2 571,481.2 572,481.2 573,481.2 574,481.2 575,481.2 576,481.2 577,480.7 578,480.1 579,479.6 580,479.6 581,479.6 582,479.7 583,479.7 584,479.7 585,479.7 586,479.7 587,479.7 588,479.7 589,479.7 590,479.7 591,479.7 592,479.7 593,479.7 594,479.7 595,479.8 596,479.8 597,479.9 598,480 599,480 600,480 601,480 602,480 603,480 604,480 605,479.9 606,479.9 607,479.9 608,479.9 609,480 610,480 611,480 612,480 613,480 614,480 615,480 616,480 617,480 618,480 619,479.9 620,479.9 621,479.9 622,479.9 623,479.9 624,479.9 624,482.6 430,481.8" fill="#fff"/><polyline points="430,476.6 431,476.2 432,475.9 433,475.9 434,475.9 435,475.9 436,475.7 437,475.5 438,475.2 439,474.5 440,474.5 441,474.7 442,474.4 443,474 444,473.8 445,473.9 446,473.6 447,472.8 448,472.8 449,473.2 450,473.2 451,472.6 452,472.3 453,471.8 454,470.8 455,470 456,469.6 457,468.7 458,467.8 459,466.5 460,465 461,463.7 462,462.4 463,460.6 464,458.6 465,456.3 466,453.6 467,450.9 468,447.6 469,443.9 470,439.5 471,434.4 472,427.8 473,421.8 474,415 475,406.2 476,397.4 477,389 478,380.2 479,371.9 480,366.7 481,363 482,360.5 483,358.7 484,357.1 485,357.9 486,359.8 487,359.3 488,358 489,355.7 490,352.3 491,350.2 492,348.8 493,345.9 494,345.6 495,348.5 496,351.6 497,354.9 498,358.6 499,363 500,367.1 501,370.4 502,375.6 503,382 504,386.8 505,393.4 506,399.5 507,406 508,413.8 509,419.3 510,424.4 511,430.1 512,434.9 513,439.4 514,444.2 515,449.1 516,453.2 517,456.8 518,460.2 519,463.2 520,465.6 521,468.1 522,469.9 523,471.5 524,472.9 525,474 526,474.9 527,475.8 528,476.7 529,477.1 530,477.6 531,478 532,478.1 533,478.4 534,479 535,479.4 536,479.6 537,479.7 538,479.9 539,480 540,480.1 541,480.1 542,480.1 543,480.1 544,480.1 545,480.1 546,480.2 547,480.2 548,480.2 549,480.2 550,480.2 551,480.2 552,480.2 553,480.3 554,480.3 555,480.3 556,480.6 557,480.8 558,481.1 559,481.1 560,481 561,481.1 562,481.1 563,481.1 564,481.1 565,481.1 566,481.1 567,481.2 568,481.2 569,481.1 570,481.2 571,481.2 572,481.2 573,481.2 574,481.2 575,481.2 576,481.2 577,480.7 578,480.1 579,479.6 580,479.6 581,479.6 582,479.7 583,479.7 584,479.7 585,479.7 586,479.7 587,479.7 588,479.7 589,479.7 590,479.7 591,479.7 592,479.7 593,479.7 594,479.7 595,479.8 596,479.8 597,479.9 598,480 599,480 600,480 601,480 602,480 603,480 604,480 605,479.9 606,479.9 607,479.9 608,479.9 609,480 610,480 611,480 612,480 613,480 614,480 615,480 616,480 617,480 618,480 619,479.9 620,479.9 621,479.9 622,479.9 623,479.9 624,479.9" fill="none" stroke="#484848" stroke-width="2.2" stroke-linejoin="round"/>
<polygon points="430,492.4 431,492.4 432,492.2 433,492.1 434,492.2 435,492.2 436,491.9 437,491.7 438,491.5 439,491.7 440,491.5 441,491.2 442,491.1 443,490.9 444,490.8 445,490.5 446,490.2 447,489.9 448,489.9 449,489.8 450,489.2 451,489 452,488.6 453,488.1 454,487.6 455,487.2 456,486.8 457,486.4 458,485.8 459,484.9 460,484 461,483.4 462,482.6 463,481.9 464,481.2 465,480 466,478.4 467,477.1 468,475.5 469,473.7 470,472 471,469.6 472,466.7 473,463.7 474,461.2 475,457.4 476,452.1 477,447.4 478,441.8 479,435.1 480,426.8 481,417.4 482,410.7 483,402 484,391 485,382.9 486,377.1 487,371.5 488,368.3 489,367.9 490,368 491,368.5 492,368.2 493,367.4 494,365.3 495,364.5 496,362.5 497,358.8 498,358.2 499,356.6 500,355.8 501,357.9 502,361.2 503,364.7 504,367.6 505,372.4 506,377 507,380.3 508,385.7 509,392.5 510,398.1 511,404.5 512,411.9 513,419.1 514,424.8 515,430.5 516,436.3 517,441.8 518,448.2 519,453.8 520,458.7 521,463.1 522,467.1 523,470.8 524,474.4 525,477.6 526,480.3 527,482.7 528,484.6 529,485.8 530,486.9 531,488.3 532,489.4 533,490.4 534,491.2 535,491.7 536,492.1 537,492.6 538,492.8 539,492.9 540,493.2 541,493.4 542,493.5 543,493.6 544,493.6 545,493.7 546,493.6 547,493.7 548,493.7 549,493.7 550,493.9 551,493.9 552,493.8 553,493.9 554,493.9 555,493.9 556,494 557,494 558,493.9 559,493.9 560,493.9 561,493.9 562,493.9 563,493.9 564,493.9 565,493.9 566,493.9 567,494 568,494.1 569,494.2 570,494.2 571,494.2 572,494.2 573,494.2 574,494.2 575,494.2 576,494.2 577,494.2 578,494.2 579,494.2 580,494.2 581,494.2 582,494.2 583,494.2 584,494.2 585,494.2 586,494.2 587,494.2 588,494.2 589,494.2 590,494.2 591,494.2 592,494.2 593,494.2 594,494.2 595,494.2 596,494.2 597,494.2 598,494.2 599,494.2 600,494.2 601,494.2 602,494.2 603,494.2 604,494.5 605,494.8 606,495 607,495 608,495 609,495 610,495 611,495 612,495 613,495 614,495 615,495 616,495 617,495 618,495 619,495 620,495.1 621,495.1 622,495.2 623,495.3 624,495.3 624,496.4 430,496.8" fill="#fff"/><polyline points="430,492.4 431,492.4 432,492.2 433,492.1 434,492.2 435,492.2 436,491.9 437,491.7 438,491.5 439,491.7 440,491.5 441,491.2 442,491.1 443,490.9 444,490.8 445,490.5 446,490.2 447,489.9 448,489.9 449,489.8 450,489.2 451,489 452,488.6 453,488.1 454,487.6 455,487.2 456,486.8 457,486.4 458,485.8 459,484.9 460,484 461,483.4 462,482.6 463,481.9 464,481.2 465,480 466,478.4 467,477.1 468,475.5 469,473.7 470,472 471,469.6 472,466.7 473,463.7 474,461.2 475,457.4 476,452.1 477,447.4 478,441.8 479,435.1 480,426.8 481,417.4 482,410.7 483,402 484,391 485,382.9 486,377.1 487,371.5 488,368.3 489,367.9 490,368 491,368.5 492,368.2 493,367.4 494,365.3 495,364.5 496,362.5 497,358.8 498,358.2 499,356.6 500,355.8 501,357.9 502,361.2 503,364.7 504,367.6 505,372.4 506,377 507,380.3 508,385.7 509,392.5 510,398.1 511,404.5 512,411.9 513,419.1 514,424.8 515,430.5 516,436.3 517,441.8 518,448.2 519,453.8 520,458.7 521,463.1 522,467.1 523,470.8 524,474.4 525,477.6 526,480.3 527,482.7 528,484.6 529,485.8 530,486.9 531,488.3 532,489.4 533,490.4 534,491.2 535,491.7 536,492.1 537,492.6 538,492.8 539,492.9 540,493.2 541,493.4 542,493.5 543,493.6 544,493.6 545,493.7 546,493.6 547,493.7 548,493.7 549,493.7 550,493.9 551,493.9 552,493.8 553,493.9 554,493.9 555,493.9 556,494 557,494 558,493.9 559,493.9 560,493.9 561,493.9 562,493.9 563,493.9 564,493.9 565,493.9 566,493.9 567,494 568,494.1 569,494.2 570,494.2 571,494.2 572,494.2 573,494.2 574,494.2 575,494.2 576,494.2 577,494.2 578,494.2 579,494.2 580,494.2 581,494.2 582,494.2 583,494.2 584,494.2 585,494.2 586,494.2 587,494.2 588,494.2 589,494.2 590,494.2 591,494.2 592,494.2 593,494.2 594,494.2 595,494.2 596,494.2 597,494.2 598,494.2 599,494.2 600,494.2 601,494.2 602,494.2 603,494.2 604,494.5 605,494.8 606,495 607,495 608,495 609,495 610,495 611,495 612,495 613,495 614,495 615,495 616,495 617,495 618,495 619,495 620,495.1 621,495.1 622,495.2 623,495.3 624,495.3" fill="none" stroke="#484848" stroke-width="2.2" stroke-linejoin="round"/>
<polygon points="430,506.8 431,506.7 432,506.7 433,506.7 434,506.6 435,506.4 436,506.4 437,506.5 438,506.3 439,506.1 440,506.1 441,506 442,506 443,505.8 444,505.7 445,505.6 446,505.6 447,505.7 448,505.7 449,505.5 450,505.4 451,505.3 452,505.2 453,505.1 454,504.8 455,504.5 456,503.7 457,503.1 458,503.1 459,502.7 460,502.1 461,501.8 462,501.7 463,501.3 464,500.6 465,500 466,499.5 467,499.1 468,498.4 469,497.2 470,496 471,495 472,493.8 473,492.4 474,491 475,489.3 476,487 477,485.1 478,482.6 479,479.6 480,475.9 481,472.3 482,468.5 483,463 484,457.5 485,451.2 486,443.3 487,436 488,427.2 489,417.3 490,409.1 491,399.4 492,390.7 493,384.7 494,381.5 495,380.2 496,378.5 497,380 498,381.7 499,380.5 500,380.1 501,379.2 502,377.8 503,375.9 504,371 505,367.5 506,366.4 507,367.6 508,371.2 509,375 510,378.6 511,381 512,384.7 513,391.1 514,397.5 515,402.2 516,407.6 517,413.9 518,420.6 519,426.5 520,433.6 521,440.7 522,446.8 523,452.3 524,458.3 525,465.4 526,469.8 527,474.7 528,480 529,483.4 530,486.5 531,490.2 532,493.4 533,495.8 534,497.9 535,499.5 536,501.4 537,502.7 538,503.9 539,504.8 540,505.4 541,506.1 542,506.9 543,507.3 544,507.5 545,508 546,508.5 547,508.9 548,509.3 549,509.4 550,509.4 551,509.4 552,509.4 553,509.5 554,509.6 555,509.6 556,509.6 557,509.7 558,509.8 559,509.8 560,509.8 561,509.8 562,509.8 563,509.8 564,509.8 565,509.8 566,509.9 567,509.9 568,509.9 569,509.9 570,510 571,510 572,510 573,509.9 574,509.9 575,510 576,510 577,510.1 578,510.1 579,510.1 580,510 581,509.6 582,509.3 583,508.9 584,508.9 585,508.9 586,509 587,508.9 588,509 589,509 590,509 591,509 592,509 593,509 594,509 595,509.6 596,510.1 597,510.7 598,510.7 599,510.7 600,510.7 601,510.7 602,510.7 603,510.7 604,510.7 605,510.7 606,510.7 607,510.7 608,510.7 609,510.7 610,510.7 611,510.8 612,510.8 613,510.8 614,510.8 615,510.8 616,510.8 617,510.8 618,510.8 619,510.6 620,510.4 621,510.2 622,510.3 623,510.3 624,510.3 624,513 430,511.8" fill="#fff"/><polyline points="430,506.8 431,506.7 432,506.7 433,506.7 434,506.6 435,506.4 436,506.4 437,506.5 438,506.3 439,506.1 440,506.1 441,506 442,506 443,505.8 444,505.7 445,505.6 446,505.6 447,505.7 448,505.7 449,505.5 450,505.4 451,505.3 452,505.2 453,505.1 454,504.8 455,504.5 456,503.7 457,503.1 458,503.1 459,502.7 460,502.1 461,501.8 462,501.7 463,501.3 464,500.6 465,500 466,499.5 467,499.1 468,498.4 469,497.2 470,496 471,495 472,493.8 473,492.4 474,491 475,489.3 476,487 477,485.1 478,482.6 479,479.6 480,475.9 481,472.3 482,468.5 483,463 484,457.5 485,451.2 486,443.3 487,436 488,427.2 489,417.3 490,409.1 491,399.4 492,390.7 493,384.7 494,381.5 495,380.2 496,378.5 497,380 498,381.7 499,380.5 500,380.1 501,379.2 502,377.8 503,375.9 504,371 505,367.5 506,366.4 507,367.6 508,371.2 509,375 510,378.6 511,381 512,384.7 513,391.1 514,397.5 515,402.2 516,407.6 517,413.9 518,420.6 519,426.5 520,433.6 521,440.7 522,446.8 523,452.3 524,458.3 525,465.4 526,469.8 527,474.7 528,480 529,483.4 530,486.5 531,490.2 532,493.4 533,495.8 534,497.9 535,499.5 536,501.4 537,502.7 538,503.9 539,504.8 540,505.4 541,506.1 542,506.9 543,507.3 544,507.5 545,508 546,508.5 547,508.9 548,509.3 549,509.4 550,509.4 551,509.4 552,509.4 553,509.5 554,509.6 555,509.6 556,509.6 557,509.7 558,509.8 559,509.8 560,509.8 561,509.8 562,509.8 563,509.8 564,509.8 565,509.8 566,509.9 567,509.9 568,509.9 569,509.9 570,510 571,510 572,510 573,509.9 574,509.9 575,510 576,510 577,510.1 578,510.1 579,510.1 580,510 581,509.6 582,509.3 583,508.9 584,508.9 585,508.9 586,509 587,508.9 588,509 589,509 590,509 591,509 592,509 593,509 594,509 595,509.6 596,510.1 597,510.7 598,510.7 599,510.7 600,510.7 601,510.7 602,510.7 603,510.7 604,510.7 605,510.7 606,510.7 607,510.7 608,510.7 609,510.7 610,510.7 611,510.8 612,510.8 613,510.8 614,510.8 615,510.8 616,510.8 617,510.8 618,510.8 619,510.6 620,510.4 621,510.2 622,510.3 623,510.3 624,510.3" fill="none" stroke="#484848" stroke-width="2.2" stroke-linejoin="round"/>
<polygon points="430,523 431,522.9 432,522.7 433,522.8 434,522.9 435,522.6 436,522.4 437,522.4 438,522.4 439,522.5 440,522.3 441,522.1 442,522.1 443,522.2 444,522.1 445,521.9 446,521.9 447,521.8 448,521.6 449,521.5 450,521.3 451,521.3 452,521.3 453,521 454,520.8 455,520.9 456,520.5 457,520.2 458,520.4 459,520 460,519.6 461,519.4 462,519.2 463,518.8 464,518.4 465,518.3 466,518.1 467,517.9 468,517.6 469,516.9 470,516.1 471,515.2 472,514.5 473,513.8 474,513.7 475,513.4 476,512.3 477,511.3 478,510.4 479,509.1 480,508.2 481,506.9 482,505 483,503.9 484,501.6 485,499.4 486,497.3 487,494.5 488,491.8 489,488.2 490,484.2 491,479.3 492,473.7 493,467.3 494,459.8 495,451.3 496,442.6 497,433.1 498,423.3 499,414.2 500,405.1 501,399.3 502,394.9 503,390.7 504,389.6 505,388.9 506,389.2 507,390.9 508,389.8 509,389 510,387.6 511,385.9 512,382.8 513,380.1 514,379.6 515,378.2 516,379.2 517,383.6 518,387.6 519,390.8 520,394.9 521,398.9 522,404 523,409.8 524,415.4 525,422.3 526,430.6 527,438.2 528,444.2 529,450.4 530,457.3 531,464.3 532,470.4 533,475.6 534,480.7 535,486.3 536,491.9 537,495.7 538,498.5 539,502.5 540,506 541,508.7 542,511.3 543,513.4 544,514.8 545,516.1 546,517.6 547,518.8 548,519.7 549,520.5 550,521 551,521.5 552,522 553,522.4 554,522.7 555,523 556,523.1 557,523.1 558,523.3 559,523.4 560,523.5 561,523.5 562,523.6 563,523.6 564,523.6 565,523.6 566,523.6 567,523.6 568,523.6 569,523.6 570,523.6 571,523.6 572,523.6 573,523.6 574,523.6 575,523.6 576,523.7 577,523.7 578,523.7 579,523.7 580,523.7 581,523.6 582,523.6 583,523.6 584,523.7 585,523.7 586,523.6 587,523.6 588,523.6 589,524.1 590,524.6 591,525 592,525 593,525.1 594,525.1 595,525.1 596,525.1 597,525.1 598,525 599,525.1 600,525.1 601,525.1 602,525.1 603,525.1 604,525.1 605,525.3 606,525.5 607,525.7 608,525.7 609,525.7 610,525.7 611,525.7 612,525.7 613,525.7 614,525.7 615,525.7 616,525.7 617,525.4 618,525.2 619,524.9 620,524.9 621,524.9 622,524.9 623,524.9 624,524.9 624,526.3 430,527" fill="#fff"/><polyline points="430,523 431,522.9 432,522.7 433,522.8 434,522.9 435,522.6 436,522.4 437,522.4 438,522.4 439,522.5 440,522.3 441,522.1 442,522.1 443,522.2 444,522.1 445,521.9 446,521.9 447,521.8 448,521.6 449,521.5 450,521.3 451,521.3 452,521.3 453,521 454,520.8 455,520.9 456,520.5 457,520.2 458,520.4 459,520 460,519.6 461,519.4 462,519.2 463,518.8 464,518.4 465,518.3 466,518.1 467,517.9 468,517.6 469,516.9 470,516.1 471,515.2 472,514.5 473,513.8 474,513.7 475,513.4 476,512.3 477,511.3 478,510.4 479,509.1 480,508.2 481,506.9 482,505 483,503.9 484,501.6 485,499.4 486,497.3 487,494.5 488,491.8 489,488.2 490,484.2 491,479.3 492,473.7 493,467.3 494,459.8 495,451.3 496,442.6 497,433.1 498,423.3 499,414.2 500,405.1 501,399.3 502,394.9 503,390.7 504,389.6 505,388.9 506,389.2 507,390.9 508,389.8 509,389 510,387.6 511,385.9 512,382.8 513,380.1 514,379.6 515,378.2 516,379.2 517,383.6 518,387.6 519,390.8 520,394.9 521,398.9 522,404 523,409.8 524,415.4 525,422.3 526,430.6 527,438.2 528,444.2 529,450.4 530,457.3 531,464.3 532,470.4 533,475.6 534,480.7 535,486.3 536,491.9 537,495.7 538,498.5 539,502.5 540,506 541,508.7 542,511.3 543,513.4 544,514.8 545,516.1 546,517.6 547,518.8 548,519.7 549,520.5 550,521 551,521.5 552,522 553,522.4 554,522.7 555,523 556,523.1 557,523.1 558,523.3 559,523.4 560,523.5 561,523.5 562,523.6 563,523.6 564,523.6 565,523.6 566,523.6 567,523.6 568,523.6 569,523.6 570,523.6 571,523.6 572,523.6 573,523.6 574,523.6 575,523.6 576,523.7 577,523.7 578,523.7 579,523.7 580,523.7 581,523.6 582,523.6 583,523.6 584,523.7 585,523.7 586,523.6 587,523.6 588,523.6 589,524.1 590,524.6 591,525 592,525 593,525.1 594,525.1 595,525.1 596,525.1 597,525.1 598,525 599,525.1 600,525.1 601,525.1 602,525.1 603,525.1 604,525.1 605,525.3 606,525.5 607,525.7 608,525.7 609,525.7 610,525.7 611,525.7 612,525.7 613,525.7 614,525.7 615,525.7 616,525.7 617,525.4 618,525.2 619,524.9 620,524.9 621,524.9 622,524.9 623,524.9 624,524.9" fill="none" stroke="#484848" stroke-width="2.2" stroke-linejoin="round"/>
<polygon points="430,538.9 431,538.8 432,538.9 433,538.7 434,538.7 435,538.7 436,538.6 437,538.7 438,538.9 439,538.9 440,538.6 441,538.5 442,538.4 443,538.2 444,538.2 445,538 446,537.9 447,537.8 448,537.9 449,537.7 450,537.5 451,537.6 452,537.5 453,537.2 454,537 455,537 456,537 457,536.8 458,536.6 459,536.6 460,536.6 461,536.4 462,536.1 463,535.9 464,536 465,536 466,535.5 467,535.4 468,535.4 469,535.2 470,534.5 471,534 472,533.6 473,533 474,532.3 475,531.9 476,531.5 477,531.1 478,530.8 479,530 480,529.1 481,528.5 482,528.2 483,527.5 484,526.5 485,524.8 486,523.6 487,522.8 488,521.5 489,519.8 490,518 491,516.1 492,514.6 493,512.3 494,508.6 495,505 496,501 497,496.6 498,491.3 499,485.2 500,479 501,471.7 502,462.9 503,453.8 504,443.9 505,432.8 506,422.4 507,414.6 508,409.6 509,406.5 510,405.1 511,403.9 512,403 513,404.2 514,405.5 515,404.2 516,402.1 517,400.7 518,397.7 519,393.8 520,390 521,389.9 522,392.6 523,395 524,397.9 525,401.4 526,406.4 527,412.2 528,417.9 529,422.8 530,429 531,436 532,442.5 533,448.9 534,455.5 535,463.5 536,470.4 537,476.1 538,482.5 539,489.5 540,495.1 541,499.7 542,505.1 543,509.7 544,514.1 545,517.9 546,520.8 547,524 548,527.3 549,529.6 550,531.4 551,533.3 552,534.6 553,535.9 554,537.1 555,537.9 556,538.4 557,538.8 558,539.2 559,539.7 560,540.2 561,540.5 562,540.8 563,540.9 564,541 565,541.1 566,541.2 567,541.2 568,541.3 569,541.3 570,541.4 571,541.5 572,541.6 573,541.5 574,541.6 575,541.6 576,541.6 577,541 578,540.4 579,539.8 580,539.8 581,539.9 582,539.9 583,539.9 584,539.9 585,539.9 586,539.9 587,540.3 588,540.7 589,541.1 590,541 591,541.1 592,541 593,541 594,541 595,541 596,541 597,541.1 598,541.1 599,541.1 600,541.1 601,541.1 602,541.1 603,541.1 604,541.2 605,541.1 606,541.2 607,541.2 608,541.2 609,541.2 610,540.7 611,540.2 612,539.7 613,539.7 614,539.7 615,539.7 616,539.7 617,539.8 618,539.8 619,539.8 620,539.8 621,539.8 622,539.8 623,539.8 624,539.8 624,543 430,542" fill="#fff"/><polyline points="430,538.9 431,538.8 432,538.9 433,538.7 434,538.7 435,538.7 436,538.6 437,538.7 438,538.9 439,538.9 440,538.6 441,538.5 442,538.4 443,538.2 444,538.2 445,538 446,537.9 447,537.8 448,537.9 449,537.7 450,537.5 451,537.6 452,537.5 453,537.2 454,537 455,537 456,537 457,536.8 458,536.6 459,536.6 460,536.6 461,536.4 462,536.1 463,535.9 464,536 465,536 466,535.5 467,535.4 468,535.4 469,535.2 470,534.5 471,534 472,533.6 473,533 474,532.3 475,531.9 476,531.5 477,531.1 478,530.8 479,530 480,529.1 481,528.5 482,528.2 483,527.5 484,526.5 485,524.8 486,523.6 487,522.8 488,521.5 489,519.8 490,518 491,516.1 492,514.6 493,512.3 494,508.6 495,505 496,501 497,496.6 498,491.3 499,485.2 500,479 501,471.7 502,462.9 503,453.8 504,443.9 505,432.8 506,422.4 507,414.6 508,409.6 509,406.5 510,405.1 511,403.9 512,403 513,404.2 514,405.5 515,404.2 516,402.1 517,400.7 518,397.7 519,393.8 520,390 521,389.9 522,392.6 523,395 524,397.9 525,401.4 526,406.4 527,412.2 528,417.9 529,422.8 530,429 531,436 532,442.5 533,448.9 534,455.5 535,463.5 536,470.4 537,476.1 538,482.5 539,489.5 540,495.1 541,499.7 542,505.1 543,509.7 544,514.1 545,517.9 546,520.8 547,524 548,527.3 549,529.6 550,531.4 551,533.3 552,534.6 553,535.9 554,537.1 555,537.9 556,538.4 557,538.8 558,539.2 559,539.7 560,540.2 561,540.5 562,540.8 563,540.9 564,541 565,541.1 566,541.2 567,541.2 568,541.3 569,541.3 570,541.4 571,541.5 572,541.6 573,541.5 574,541.6 575,541.6 576,541.6 577,541 578,540.4 579,539.8 580,539.8 581,539.9 582,539.9 583,539.9 584,539.9 585,539.9 586,539.9 587,540.3 588,540.7 589,541.1 590,541 591,541.1 592,541 593,541 594,541 595,541 596,541 597,541.1 598,541.1 599,541.1 600,541.1 601,541.1 602,541.1 603,541.1 604,541.2 605,541.1 606,541.2 607,541.2 608,541.2 609,541.2 610,540.7 611,540.2 612,539.7 613,539.7 614,539.7 615,539.7 616,539.7 617,539.8 618,539.8 619,539.8 620,539.8 621,539.8 622,539.8 623,539.8 624,539.8" fill="none" stroke="#484848" stroke-width="2.2" stroke-linejoin="round"/>
<polygon points="430,553 431,552.9 432,552.7 433,552.6 434,552.6 435,552.6 436,552.7 437,552.7 438,552.4 439,552.4 440,552.5 441,552.3 442,552.4 443,552.3 444,552.1 445,551.9 446,552 447,552.1 448,552.2 449,552 450,551.8 451,551.9 452,552.1 453,552.3 454,552.5 455,552.3 456,552.2 457,552.1 458,552 459,551.8 460,551.7 461,551.6 462,551.5 463,551.4 464,551.2 465,551.1 466,550.9 467,550.3 468,549.6 469,548.5 470,548.3 471,548.2 472,548 473,547.6 474,547.4 475,547.1 476,546.9 477,546.7 478,546 479,545.4 480,544.8 481,544.7 482,544.8 483,544.4 484,543.6 485,543 486,542.3 487,541.3 488,540.1 489,539.1 490,538.2 491,537.4 492,536.7 493,534.9 494,533 495,531.3 496,528.9 497,526 498,523.3 499,520.2 500,516.8 501,513.2 502,508.6 503,503.6 504,498 505,491 506,483.3 507,474.1 508,464 509,455 510,444.3 511,433.4 512,426 513,420.3 514,416.3 515,415.1 516,413.9 517,413.6 518,414.8 519,415.1 520,413.2 521,411.4 522,409.9 523,406.8 524,403.5 525,400.8 526,399.6 527,400.1 528,402.4 529,407.5 530,411.9 531,415.7 532,420 533,425.3 534,431.4 535,439.2 536,445.6 537,450.2 538,458.3 539,466.6 540,472.2 541,478.9 542,487.3 543,493.4 544,499.7 545,506 546,511.1 547,516.4 548,521.5 549,525.6 550,530.5 551,534.4 552,537 553,540.1 554,542.6 555,544.7 556,546.4 557,547.9 558,549.3 559,550.5 560,551.3 561,552 562,552.8 563,553.2 564,553.4 565,553.7 566,554 567,554.3 568,554.5 569,554.5 570,554.6 571,554.7 572,554.7 573,554.7 574,554.6 575,554.6 576,554.7 577,554.7 578,554.7 579,554.8 580,554.8 581,554.9 582,555 583,555.1 584,555.1 585,555.1 586,555.2 587,555.2 588,555.2 589,555.2 590,555.2 591,555.2 592,555.1 593,555 594,554.8 595,554.9 596,554.8 597,554.8 598,554.8 599,554.8 600,554.9 601,554.9 602,554.6 603,554.3 604,554.1 605,554.1 606,554.1 607,554.1 608,554.1 609,554.1 610,554.1 611,554.1 612,554.1 613,554.2 614,554.2 615,554.1 616,554.1 617,554.1 618,554.1 619,554.1 620,554.1 621,554.1 622,554.1 623,554.1 624,554.1 624,556.7 430,557" fill="#fff"/><polyline points="430,553 431,552.9 432,552.7 433,552.6 434,552.6 435,552.6 436,552.7 437,552.7 438,552.4 439,552.4 440,552.5 441,552.3 442,552.4 443,552.3 444,552.1 445,551.9 446,552 447,552.1 448,552.2 449,552 450,551.8 451,551.9 452,552.1 453,552.3 454,552.5 455,552.3 456,552.2 457,552.1 458,552 459,551.8 460,551.7 461,551.6 462,551.5 463,551.4 464,551.2 465,551.1 466,550.9 467,550.3 468,549.6 469,548.5 470,548.3 471,548.2 472,548 473,547.6 474,547.4 475,547.1 476,546.9 477,546.7 478,546 479,545.4 480,544.8 481,544.7 482,544.8 483,544.4 484,543.6 485,543 486,542.3 487,541.3 488,540.1 489,539.1 490,538.2 491,537.4 492,536.7 493,534.9 494,533 495,531.3 496,528.9 497,526 498,523.3 499,520.2 500,516.8 501,513.2 502,508.6 503,503.6 504,498 505,491 506,483.3 507,474.1 508,464 509,455 510,444.3 511,433.4 512,426 513,420.3 514,416.3 515,415.1 516,413.9 517,413.6 518,414.8 519,415.1 520,413.2 521,411.4 522,409.9 523,406.8 524,403.5 525,400.8 526,399.6 527,400.1 528,402.4 529,407.5 530,411.9 531,415.7 532,420 533,425.3 534,431.4 535,439.2 536,445.6 537,450.2 538,458.3 539,466.6 540,472.2 541,478.9 542,487.3 543,493.4 544,499.7 545,506 546,511.1 547,516.4 548,521.5 549,525.6 550,530.5 551,534.4 552,537 553,540.1 554,542.6 555,544.7 556,546.4 557,547.9 558,549.3 559,550.5 560,551.3 561,552 562,552.8 563,553.2 564,553.4 565,553.7 566,554 567,554.3 568,554.5 569,554.5 570,554.6 571,554.7 572,554.7 573,554.7 574,554.6 575,554.6 576,554.7 577,554.7 578,554.7 579,554.8 580,554.8 581,554.9 582,555 583,555.1 584,555.1 585,555.1 586,555.2 587,555.2 588,555.2 589,555.2 590,555.2 591,555.2 592,555.1 593,555 594,554.8 595,554.9 596,554.8 597,554.8 598,554.8 599,554.8 600,554.9 601,554.9 602,554.6 603,554.3 604,554.1 605,554.1 606,554.1 607,554.1 608,554.1 609,554.1 610,554.1 611,554.1 612,554.1 613,554.2 614,554.2 615,554.1 616,554.1 617,554.1 618,554.1 619,554.1 620,554.1 621,554.1 622,554.1 623,554.1 624,554.1" fill="none" stroke="#484848" stroke-width="2.2" stroke-linejoin="round"/>
<polygon points="430,567.6 431,567.5 432,567.4 433,567.5 434,567.5 435,567.5 436,567.4 437,567.4 438,567.4 439,567.4 440,567.3 441,567.3 442,567.4 443,567.3 444,567.2 445,567.2 446,567.1 447,567.2 448,567.3 449,567.2 450,567.1 451,566.9 452,566.9 453,567 454,567 455,567.1 456,567 457,566.5 458,566 459,565.6 460,565.7 461,565.7 462,565.6 463,565.4 464,565.4 465,565.2 466,565.1 467,565.1 468,564.9 469,564.6 470,564.6 471,564.6 472,564.5 473,564.4 474,564.1 475,563.9 476,563.9 477,563.7 478,563.3 479,563 480,562.9 481,563 482,562.5 483,562.1 484,562.3 485,562 486,561.6 487,561.1 488,560.7 489,560.4 490,560.1 491,559.5 492,559 493,558.3 494,557.3 495,556.7 496,556.2 497,554.8 498,553.8 499,552.9 500,551.1 501,549.9 502,547.6 503,544.7 504,543.3 505,541.1 506,537.7 507,534.8 508,531.4 509,526.1 510,520.6 511,515.5 512,509.8 513,500.9 514,491.6 515,482.7 516,471.5 517,461.1 518,450.9 519,441.4 520,435.7 521,431 522,427.4 523,426.1 524,425.7 525,426.4 526,425.9 527,424.8 528,424.8 529,422.4 530,418.7 531,416.6 532,415 533,412 534,410.5 535,413.6 536,417.9 537,421 538,425.3 539,430.7 540,435.4 541,442.4 542,449.1 543,454.8 544,461.8 545,470.4 546,477.7 547,483.3 548,490.3 549,497.8 550,504.5 551,511.3 552,518.1 553,524 554,529.3 555,534.8 556,539.2 557,543.5 558,547.7 559,551 560,553.5 561,556.4 562,558.8 563,560.4 564,562.4 565,563.8 566,564.8 567,565.5 568,566.3 569,567.3 570,567.9 571,568.3 572,568.6 573,569 574,569.2 575,569.3 576,569.6 577,569.7 578,569.8 579,569.9 580,570 581,570 582,570 583,570.1 584,570.1 585,570.1 586,570.2 587,570.3 588,570.5 589,570.5 590,570.6 591,570.5 592,570.5 593,570.6 594,570.6 595,570.6 596,570.7 597,570.7 598,570.7 599,570.7 600,570.7 601,570.7 602,570.8 603,570.8 604,570.8 605,570.8 606,570.8 607,570.9 608,570.9 609,570.9 610,570.9 611,571 612,570.9 613,570.9 614,571 615,570.9 616,570.9 617,571 618,571.1 619,571.1 620,571.1 621,571.1 622,571.1 623,571.2 624,571.4 624,573 430,570.8" fill="#fff"/><polyline points="430,567.6 431,567.5 432,567.4 433,567.5 434,567.5 435,567.5 436,567.4 437,567.4 438,567.4 439,567.4 440,567.3 441,567.3 442,567.4 443,567.3 444,567.2 445,567.2 446,567.1 447,567.2 448,567.3 449,567.2 450,567.1 451,566.9 452,566.9 453,567 454,567 455,567.1 456,567 457,566.5 458,566 459,565.6 460,565.7 461,565.7 462,565.6 463,565.4 464,565.4 465,565.2 466,565.1 467,565.1 468,564.9 469,564.6 470,564.6 471,564.6 472,564.5 473,564.4 474,564.1 475,563.9 476,563.9 477,563.7 478,563.3 479,563 480,562.9 481,563 482,562.5 483,562.1 484,562.3 485,562 486,561.6 487,561.1 488,560.7 489,560.4 490,560.1 491,559.5 492,559 493,558.3 494,557.3 495,556.7 496,556.2 497,554.8 498,553.8 499,552.9 500,551.1 501,549.9 502,547.6 503,544.7 504,543.3 505,541.1 506,537.7 507,534.8 508,531.4 509,526.1 510,520.6 511,515.5 512,509.8 513,500.9 514,491.6 515,482.7 516,471.5 517,461.1 518,450.9 519,441.4 520,435.7 521,431 522,427.4 523,426.1 524,425.7 525,426.4 526,425.9 527,424.8 528,424.8 529,422.4 530,418.7 531,416.6 532,415 533,412 534,410.5 535,413.6 536,417.9 537,421 538,425.3 539,430.7 540,435.4 541,442.4 542,449.1 543,454.8 544,461.8 545,470.4 546,477.7 547,483.3 548,490.3 549,497.8 550,504.5 551,511.3 552,518.1 553,524 554,529.3 555,534.8 556,539.2 557,543.5 558,547.7 559,551 560,553.5 561,556.4 562,558.8 563,560.4 564,562.4 565,563.8 566,564.8 567,565.5 568,566.3 569,567.3 570,567.9 571,568.3 572,568.6 573,569 574,569.2 575,569.3 576,569.6 577,569.7 578,569.8 579,569.9 580,570 581,570 582,570 583,570.1 584,570.1 585,570.1 586,570.2 587,570.3 588,570.5 589,570.5 590,570.6 591,570.5 592,570.5 593,570.6 594,570.6 595,570.6 596,570.7 597,570.7 598,570.7 599,570.7 600,570.7 601,570.7 602,570.8 603,570.8 604,570.8 605,570.8 606,570.8 607,570.9 608,570.9 609,570.9 610,570.9 611,571 612,570.9 613,570.9 614,571 615,570.9 616,570.9 617,571 618,571.1 619,571.1 620,571.1 621,571.1 622,571.1 623,571.2 624,571.4" fill="none" stroke="#484848" stroke-width="2.2" stroke-linejoin="round"/>
<polygon points="430,580.4 431,580.4 432,580.6 433,580.4 434,580.4 435,580.5 436,580.4 437,580.4 438,580.5 439,580.3 440,580.5 441,580.8 442,580.7 443,580.7 444,580.5 445,580.5 446,580.7 447,580.6 448,580.6 449,580.5 450,580.4 451,580.5 452,580.3 453,580.1 454,580.1 455,580.2 456,580.3 457,580.2 458,580.4 459,580.6 460,580.8 461,580.8 462,580.8 463,580.7 464,580.6 465,580.5 466,580.5 467,580.4 468,580.4 469,580.4 470,580.2 471,580.1 472,579.9 473,579.9 474,579.8 475,579.6 476,579.4 477,579.2 478,579.1 479,578.9 480,578.9 481,578.6 482,578.1 483,577.9 484,577.7 485,577.2 486,577.2 487,577.1 488,576.6 489,576.2 490,575.9 491,575.5 492,575.2 493,575 494,574.7 495,574.2 496,573.5 497,573 498,572.4 499,571.7 500,570.9 501,570.2 502,569 503,568 504,567.1 505,566 506,564.8 507,563.8 508,561.5 509,559.6 510,557.4 511,554.8 512,552.5 513,548.8 514,544.3 515,540.2 516,535.3 517,529.9 518,523.3 519,515.1 520,507 521,496.9 522,485.6 523,474.6 524,464.2 525,455.9 526,448.9 527,442.9 528,438.4 529,436.6 530,436 531,437 532,439 533,437.2 534,433.8 535,434 536,431.3 537,427.3 538,424.5 539,423 540,424.3 541,426.3 542,430.1 543,433.9 544,438 545,443.7 546,449.2 547,453.9 548,459.4 549,466.7 550,474.1 551,481.6 552,488.9 553,496.8 554,504.6 555,511.8 556,519 557,526 558,532.1 559,538.7 560,544.9 561,549.8 562,554.7 563,559.2 564,563.2 565,566.4 566,569.3 567,571.6 568,574 569,575.9 570,577.1 571,578.6 572,579.6 573,580.3 574,581.5 575,582.2 576,582.8 577,583.1 578,583.4 579,583.8 580,584.1 581,584.4 582,584.6 583,584.6 584,584.8 585,584.9 586,585 587,585.1 588,585.2 589,585.2 590,585.3 591,585.3 592,585.3 593,585.4 594,585.4 595,585.4 596,585.4 597,585.5 598,585.5 599,585.5 600,585.6 601,585.6 602,585.6 603,585.6 604,585.6 605,585.7 606,585.7 607,585.7 608,585.7 609,585.3 610,584.9 611,584.4 612,584.4 613,584.4 614,584.4 615,584.5 616,584.5 617,584.5 618,584.5 619,584.5 620,584.6 621,584.6 622,584.6 623,584.6 624,584.6 624,587.2 430,584.5" fill="#fff"/><polyline points="430,580.4 431,580.4 432,580.6 433,580.4 434,580.4 435,580.5 436,580.4 437,580.4 438,580.5 439,580.3 440,580.5 441,580.8 442,580.7 443,580.7 444,580.5 445,580.5 446,580.7 447,580.6 448,580.6 449,580.5 450,580.4 451,580.5 452,580.3 453,580.1 454,580.1 455,580.2 456,580.3 457,580.2 458,580.4 459,580.6 460,580.8 461,580.8 462,580.8 463,580.7 464,580.6 465,580.5 466,580.5 467,580.4 468,580.4 469,580.4 470,580.2 471,580.1 472,579.9 473,579.9 474,579.8 475,579.6 476,579.4 477,579.2 478,579.1 479,578.9 480,578.9 481,578.6 482,578.1 483,577.9 484,577.7 485,577.2 486,577.2 487,577.1 488,576.6 489,576.2 490,575.9 491,575.5 492,575.2 493,575 494,574.7 495,574.2 496,573.5 497,573 498,572.4 499,571.7 500,570.9 501,570.2 502,569 503,568 504,567.1 505,566 506,564.8 507,563.8 508,561.5 509,559.6 510,557.4 511,554.8 512,552.5 513,548.8 514,544.3 515,540.2 516,535.3 517,529.9 518,523.3 519,515.1 520,507 521,496.9 522,485.6 523,474.6 524,464.2 525,455.9 526,448.9 527,442.9 528,438.4 529,436.6 530,436 531,437 532,439 533,437.2 534,433.8 535,434 536,431.3 537,427.3 538,424.5 539,423 540,424.3 541,426.3 542,430.1 543,433.9 544,438 545,443.7 546,449.2 547,453.9 548,459.4 549,466.7 550,474.1 551,481.6 552,488.9 553,496.8 554,504.6 555,511.8 556,519 557,526 558,532.1 559,538.7 560,544.9 561,549.8 562,554.7 563,559.2 564,563.2 565,566.4 566,569.3 567,571.6 568,574 569,575.9 570,577.1 571,578.6 572,579.6 573,580.3 574,581.5 575,582.2 576,582.8 577,583.1 578,583.4 579,583.8 580,584.1 581,584.4 582,584.6 583,584.6 584,584.8 585,584.9 586,585 587,585.1 588,585.2 589,585.2 590,585.3 591,585.3 592,585.3 593,585.4 594,585.4 595,585.4 596,585.4 597,585.5 598,585.5 599,585.5 600,585.6 601,585.6 602,585.6 603,585.6 604,585.6 605,585.7 606,585.7 607,585.7 608,585.7 609,585.3 610,584.9 611,584.4 612,584.4 613,584.4 614,584.4 615,584.5 616,584.5 617,584.5 618,584.5 619,584.5 620,584.6 621,584.6 622,584.6 623,584.6 624,584.6" fill="none" stroke="#484848" stroke-width="2.2" stroke-linejoin="round"/>
<polygon points="430,598.2 431,598.2 432,598.2 433,598.2 434,598 435,598 436,598.1 437,598.2 438,598 439,597.9 440,597.9 441,598 442,598.1 443,598 444,597.9 445,597.9 446,597.7 447,597.7 448,597.7 449,597.5 450,597.4 451,597.4 452,597.3 453,597.5 454,597.4 455,597.3 456,597.5 457,597.4 458,597.1 459,597 460,597 461,596.9 462,596.8 463,596.8 464,596.8 465,596.8 466,596.7 467,596.7 468,596.8 469,596.7 470,596.5 471,596.5 472,596.5 473,596.5 474,596.5 475,596.2 476,596 477,596.1 478,596.1 479,595.8 480,595.6 481,595.2 482,594.6 483,594.1 484,593.9 485,593.8 486,593.7 487,593.5 488,593.3 489,593.2 490,593 491,592.8 492,592.7 493,592.4 494,592 495,591.6 496,591.3 497,590.8 498,590.3 499,590.1 500,589.7 501,589.1 502,588.5 503,588 504,587.6 505,586.8 506,586.2 507,585.5 508,584.5 509,583 510,581.6 511,580.4 512,579.1 513,577.6 514,576.4 515,573.6 516,570.5 517,568.5 518,566.6 519,563.5 520,559.6 521,555 522,549.8 523,544.1 524,537 525,527.7 526,518.1 527,508.8 528,498 529,486.7 530,476.1 531,466.2 532,459 533,453.7 534,449.3 535,447.7 536,448.2 537,450.4 538,451 539,450.3 540,449.3 541,444.7 542,441.6 543,438.9 544,434.8 545,432.7 546,434.4 547,436.2 548,438.1 549,443.9 550,449 551,452 552,456.8 553,463.4 554,469.7 555,477.2 556,484.2 557,491.1 558,499.8 559,506.7 560,513.6 561,522.3 562,529.4 563,536.1 564,542.8 565,549.4 566,555.5 567,561.4 568,567.1 569,571.6 570,575.3 571,578.9 572,582.1 573,584.5 574,587.1 575,589.4 576,591 577,592.3 578,593.5 579,594.9 580,595.7 581,596.4 582,597.3 583,598.2 584,598.6 585,598.9 586,599.1 587,599.3 588,599.4 589,599.5 590,599.6 591,599.8 592,599.8 593,599.8 594,599.8 595,599.8 596,599.9 597,600 598,600 599,600 600,600 601,599.9 602,600 603,600 604,600 605,600 606,600 607,600 608,599.6 609,599.2 610,598.8 611,598.9 612,598.9 613,598.9 614,598.8 615,598.8 616,598.9 617,598.6 618,598.4 619,598.2 620,598.2 621,598.2 622,598.2 623,598.2 624,598.2 624,600.4 430,600.8" fill="#fff"/><polyline points="430,598.2 431,598.2 432,598.2 433,598.2 434,598 435,598 436,598.1 437,598.2 438,598 439,597.9 440,597.9 441,598 442,598.1 443,598 444,597.9 445,597.9 446,597.7 447,597.7 448,597.7 449,597.5 450,597.4 451,597.4 452,597.3 453,597.5 454,597.4 455,597.3 456,597.5 457,597.4 458,597.1 459,597 460,597 461,596.9 462,596.8 463,596.8 464,596.8 465,596.8 466,596.7 467,596.7 468,596.8 469,596.7 470,596.5 471,596.5 472,596.5 473,596.5 474,596.5 475,596.2 476,596 477,596.1 478,596.1 479,595.8 480,595.6 481,595.2 482,594.6 483,594.1 484,593.9 485,593.8 486,593.7 487,593.5 488,593.3 489,593.2 490,593 491,592.8 492,592.7 493,592.4 494,592 495,591.6 496,591.3 497,590.8 498,590.3 499,590.1 500,589.7 501,589.1 502,588.5 503,588 504,587.6 505,586.8 506,586.2 507,585.5 508,584.5 509,583 510,581.6 511,580.4 512,579.1 513,577.6 514,576.4 515,573.6 516,570.5 517,568.5 518,566.6 519,563.5 520,559.6 521,555 522,549.8 523,544.1 524,537 525,527.7 526,518.1 527,508.8 528,498 529,486.7 530,476.1 531,466.2 532,459 533,453.7 534,449.3 535,447.7 536,448.2 537,450.4 538,451 539,450.3 540,449.3 541,444.7 542,441.6 543,438.9 544,434.8 545,432.7 546,434.4 547,436.2 548,438.1 549,443.9 550,449 551,452 552,456.8 553,463.4 554,469.7 555,477.2 556,484.2 557,491.1 558,499.8 559,506.7 560,513.6 561,522.3 562,529.4 563,536.1 564,542.8 565,549.4 566,555.5 567,561.4 568,567.1 569,571.6 570,575.3 571,578.9 572,582.1 573,584.5 574,587.1 575,589.4 576,591 577,592.3 578,593.5 579,594.9 580,595.7 581,596.4 582,597.3 583,598.2 584,598.6 585,598.9 586,599.1 587,599.3 588,599.4 589,599.5 590,599.6 591,599.8 592,599.8 593,599.8 594,599.8 595,599.8 596,599.9 597,600 598,600 599,600 600,600 601,599.9 602,600 603,600 604,600 605,600 606,600 607,600 608,599.6 609,599.2 610,598.8 611,598.9 612,598.9 613,598.9 614,598.8 615,598.8 616,598.9 617,598.6 618,598.4 619,598.2 620,598.2 621,598.2 622,598.2 623,598.2 624,598.2" fill="none" stroke="#484848" stroke-width="2.2" stroke-linejoin="round"/>
<polygon points="430,611.8 431,611.9 432,611.8 433,611.9 434,611.8 435,611.8 436,611.8 437,611.8 438,611.7 439,611.6 440,611.6 441,611.4 442,611.3 443,611.4 444,611.4 445,611.4 446,611.3 447,611.3 448,611.3 449,611.2 450,611.2 451,611.1 452,611 453,611.5 454,611.9 455,612.1 456,612.2 457,612.3 458,612.2 459,612.1 460,612 461,612 462,611.9 463,611.8 464,611.9 465,611.9 466,611.9 467,611.7 468,611.6 469,611.6 470,611.6 471,611.5 472,611.6 473,611.9 474,612.1 475,612.1 476,612 477,611.7 478,611.5 479,611.6 480,611.6 481,611.4 482,611.3 483,611.1 484,611 485,610.8 486,610.7 487,610.7 488,610.7 489,610.7 490,610.4 491,610.2 492,610.1 493,609.8 494,609.5 495,609.4 496,609.4 497,609.2 498,608.5 499,608.3 500,608.6 501,608.1 502,607.8 503,607.6 504,606.9 505,606.4 506,605.8 507,605.2 508,604.5 509,603.8 510,603.5 511,602.9 512,602 513,601.3 514,600.2 515,599.1 516,598 517,596.6 518,595.1 519,593.5 520,591 521,588.1 522,585.3 523,582.8 524,580.2 525,577 526,572.6 527,567.8 528,562.3 529,556.1 530,549 531,540.6 532,531.3 533,521 534,511.1 535,499.3 536,487.4 537,477.8 538,470.2 539,465.8 540,461.8 541,457.8 542,458.2 543,460.5 544,459.6 545,459.3 546,459.3 547,456.1 548,453.4 549,451.4 550,448 551,445.2 552,444.6 553,447.4 554,452 555,455.9 556,460.9 557,466.5 558,469.9 559,476.6 560,484.3 561,490.1 562,497.4 563,504.5 564,512.4 565,520 566,527.4 567,536.7 568,545.1 569,552.1 570,558.6 571,565.8 572,572.1 573,577.4 574,582.6 575,586.9 576,591 577,594.4 578,597.7 579,600.6 580,602.6 581,604.9 582,606.9 583,608.5 584,609.7 585,610.4 586,610.9 587,611.2 588,611.6 589,612 590,612.3 591,612.8 592,613.2 593,613.3 594,613.5 595,613.6 596,613.7 597,613.7 598,613.8 599,613.9 600,614 601,614 602,614 603,614.1 604,614.1 605,614.1 606,614.1 607,614.2 608,614.1 609,614.1 610,614.1 611,614.1 612,614.2 613,614.2 614,614.2 615,614.2 616,614.2 617,614.4 618,614.5 619,614.7 620,614.6 621,614.7 622,614.7 623,614.7 624,614.7 624,616.2 430,615.9" fill="#fff"/><polyline points="430,611.8 431,611.9 432,611.8 433,611.9 434,611.8 435,611.8 436,611.8 437,611.8 438,611.7 439,611.6 440,611.6 441,611.4 442,611.3 443,611.4 444,611.4 445,611.4 446,611.3 447,611.3 448,611.3 449,611.2 450,611.2 451,611.1 452,611 453,611.5 454,611.9 455,612.1 456,612.2 457,612.3 458,612.2 459,612.1 460,612 461,612 462,611.9 463,611.8 464,611.9 465,611.9 466,611.9 467,611.7 468,611.6 469,611.6 470,611.6 471,611.5 472,611.6 473,611.9 474,612.1 475,612.1 476,612 477,611.7 478,611.5 479,611.6 480,611.6 481,611.4 482,611.3 483,611.1 484,611 485,610.8 486,610.7 487,610.7 488,610.7 489,610.7 490,610.4 491,610.2 492,610.1 493,609.8 494,609.5 495,609.4 496,609.4 497,609.2 498,608.5 499,608.3 500,608.6 501,608.1 502,607.8 503,607.6 504,606.9 505,606.4 506,605.8 507,605.2 508,604.5 509,603.8 510,603.5 511,602.9 512,602 513,601.3 514,600.2 515,599.1 516,598 517,596.6 518,595.1 519,593.5 520,591 521,588.1 522,585.3 523,582.8 524,580.2 525,577 526,572.6 527,567.8 528,562.3 529,556.1 530,549 531,540.6 532,531.3 533,521 534,511.1 535,499.3 536,487.4 537,477.8 538,470.2 539,465.8 540,461.8 541,457.8 542,458.2 543,460.5 544,459.6 545,459.3 546,459.3 547,456.1 548,453.4 549,451.4 550,448 551,445.2 552,444.6 553,447.4 554,452 555,455.9 556,460.9 557,466.5 558,469.9 559,476.6 560,484.3 561,490.1 562,497.4 563,504.5 564,512.4 565,520 566,527.4 567,536.7 568,545.1 569,552.1 570,558.6 571,565.8 572,572.1 573,577.4 574,582.6 575,586.9 576,591 577,594.4 578,597.7 579,600.6 580,602.6 581,604.9 582,606.9 583,608.5 584,609.7 585,610.4 586,610.9 587,611.2 588,611.6 589,612 590,612.3 591,612.8 592,613.2 593,613.3 594,613.5 595,613.6 596,613.7 597,613.7 598,613.8 599,613.9 600,614 601,614 602,614 603,614.1 604,614.1 605,614.1 606,614.1 607,614.2 608,614.1 609,614.1 610,614.1 611,614.1 612,614.2 613,614.2 614,614.2 615,614.2 616,614.2 617,614.4 618,614.5 619,614.7 620,614.6 621,614.7 622,614.7 623,614.7 624,614.7" fill="none" stroke="#484848" stroke-width="2.2" stroke-linejoin="round"/>
<polygon points="430,626.8 431,626.8 432,626.9 433,626.8 434,626.6 435,626.7 436,626.7 437,626.7 438,626.6 439,626.6 440,626.7 441,626.5 442,626.5 443,626.6 444,626.6 445,626.6 446,626.5 447,626.5 448,626.5 449,626.7 450,627.1 451,627.4 452,627.3 453,627.2 454,627.2 455,627.2 456,627.1 457,627.2 458,627.3 459,627.1 460,627 461,627 462,627 463,626.8 464,626.9 465,627 466,627 467,626.9 468,626.8 469,626.8 470,626.7 471,626.7 472,626.7 473,626.7 474,626.7 475,626.5 476,626.4 477,626.6 478,626.5 479,626.4 480,626.3 481,626.3 482,626.3 483,626.1 484,625.9 485,625.9 486,626 487,625.9 488,625.7 489,625.6 490,625.6 491,625.3 492,625.3 493,625.3 494,625.1 495,625 496,624.9 497,624.7 498,624.5 499,624.4 500,624.4 501,624.3 502,624.2 503,623.9 504,623.6 505,623.4 506,623.1 507,622.5 508,622.2 509,621.6 510,621.1 511,621.1 512,620.6 513,620.2 514,619.9 515,619.1 516,618.2 517,617.7 518,616.8 519,615.7 520,614.9 521,614 522,613 523,611.4 524,608.9 525,607.4 526,606.2 527,603.8 528,601.4 529,599.2 530,595.4 531,591 532,586.6 533,582.1 534,577.2 535,570.8 536,562.7 537,553.8 538,544.3 539,533.4 540,522.3 541,510.7 542,500.1 543,491 544,483.2 545,477.2 546,473 547,471.5 548,472.1 549,472.4 550,472.5 551,472.5 552,471.1 553,469.2 554,465.6 555,462.6 556,459.2 557,456.5 558,456.3 559,459.2 560,464.6 561,467.3 562,471 563,475.8 564,481.6 565,488.6 566,496.8 567,502.9 568,509.7 569,517.9 570,525.4 571,534.2 572,542.3 573,550 574,557.3 575,564.5 576,571.7 577,578.7 578,584.3 579,589.4 580,594.7 581,599.3 582,603.6 583,607.8 584,611.7 585,614.6 586,616.4 587,618.3 588,620.2 589,621.8 590,623.3 591,624.4 592,625.2 593,625.9 594,626.2 595,626.6 596,627.1 597,627.6 598,628 599,628.1 600,628.2 601,628.4 602,628.5 603,628.6 604,628.6 605,628.7 606,628.7 607,628.8 608,628.7 609,628.8 610,628.8 611,628.7 612,628.8 613,628.8 614,628.7 615,628.6 616,628.6 617,628.7 618,628.7 619,628.6 620,628.6 621,628.6 622,628.7 623,628.7 624,628.7 624,630.8 430,629.8" fill="#fff"/><polyline points="430,626.8 431,626.8 432,626.9 433,626.8 434,626.6 435,626.7 436,626.7 437,626.7 438,626.6 439,626.6 440,626.7 441,626.5 442,626.5 443,626.6 444,626.6 445,626.6 446,626.5 447,626.5 448,626.5 449,626.7 450,627.1 451,627.4 452,627.3 453,627.2 454,627.2 455,627.2 456,627.1 457,627.2 458,627.3 459,627.1 460,627 461,627 462,627 463,626.8 464,626.9 465,627 466,627 467,626.9 468,626.8 469,626.8 470,626.7 471,626.7 472,626.7 473,626.7 474,626.7 475,626.5 476,626.4 477,626.6 478,626.5 479,626.4 480,626.3 481,626.3 482,626.3 483,626.1 484,625.9 485,625.9 486,626 487,625.9 488,625.7 489,625.6 490,625.6 491,625.3 492,625.3 493,625.3 494,625.1 495,625 496,624.9 497,624.7 498,624.5 499,624.4 500,624.4 501,624.3 502,624.2 503,623.9 504,623.6 505,623.4 506,623.1 507,622.5 508,622.2 509,621.6 510,621.1 511,621.1 512,620.6 513,620.2 514,619.9 515,619.1 516,618.2 517,617.7 518,616.8 519,615.7 520,614.9 521,614 522,613 523,611.4 524,608.9 525,607.4 526,606.2 527,603.8 528,601.4 529,599.2 530,595.4 531,591 532,586.6 533,582.1 534,577.2 535,570.8 536,562.7 537,553.8 538,544.3 539,533.4 540,522.3 541,510.7 542,500.1 543,491 544,483.2 545,477.2 546,473 547,471.5 548,472.1 549,472.4 550,472.5 551,472.5 552,471.1 553,469.2 554,465.6 555,462.6 556,459.2 557,456.5 558,456.3 559,459.2 560,464.6 561,467.3 562,471 563,475.8 564,481.6 565,488.6 566,496.8 567,502.9 568,509.7 569,517.9 570,525.4 571,534.2 572,542.3 573,550 574,557.3 575,564.5 576,571.7 577,578.7 578,584.3 579,589.4 580,594.7 581,599.3 582,603.6 583,607.8 584,611.7 585,614.6 586,616.4 587,618.3 588,620.2 589,621.8 590,623.3 591,624.4 592,625.2 593,625.9 594,626.2 595,626.6 596,627.1 597,627.6 598,628 599,628.1 600,628.2 601,628.4 602,628.5 603,628.6 604,628.6 605,628.7 606,628.7 607,628.8 608,628.7 609,628.8 610,628.8 611,628.7 612,628.8 613,628.8 614,628.7 615,628.6 616,628.6 617,628.7 618,628.7 619,628.6 620,628.6 621,628.6 622,628.7 623,628.7 624,628.7" fill="none" stroke="#484848" stroke-width="2.2" stroke-linejoin="round"/>
<polygon points="430,643.1 431,643 432,643 433,643 434,643.1 435,643 436,643.1 437,643 438,642.9 439,643 440,642.8 441,642.8 442,642.9 443,642.9 444,642.9 445,642.8 446,642.8 447,642.7 448,642.7 449,642.7 450,642.7 451,642.8 452,642.7 453,642.5 454,642.5 455,642.6 456,642.7 457,642.7 458,642.7 459,642.6 460,642.6 461,642.7 462,642.7 463,642.5 464,642.5 465,642.4 466,642.4 467,642.4 468,642.4 469,642.3 470,642.4 471,642.4 472,642.2 473,642.1 474,642.2 475,642.1 476,642 477,642 478,642 479,641.9 480,641.8 481,641.6 482,641.6 483,641.5 484,641.5 485,641.5 486,641.3 487,641.3 488,641.2 489,641.1 490,641 491,640.8 492,640.7 493,640.6 494,640.6 495,640.5 496,640.3 497,640.2 498,640.1 499,640.2 500,639.9 501,639.6 502,639.6 503,639.3 504,639.1 505,638.8 506,638.6 507,638.6 508,638.1 509,638 510,638 511,637.7 512,637.2 513,636.9 514,636.8 515,636.5 516,636.4 517,635.6 518,634.9 519,634.6 520,634.2 521,633.6 522,632.5 523,631.7 524,630.9 525,629.9 526,629.1 527,628 528,626.8 529,625.2 530,624.1 531,623 532,620.6 533,617.8 534,614.5 535,611.7 536,608.8 537,605.8 538,601.9 539,596.1 540,590.4 541,584.5 542,576.5 543,568 544,558.6 545,547.2 546,535 547,523.5 548,513.2 549,502.2 550,491.9 551,486.9 552,482.5 553,481.8 554,483 555,482.8 556,484.7 557,483.1 558,480 559,479.8 560,477 561,471.8 562,468.9 563,467.6 564,468.3 565,470.3 566,473.3 567,477.5 568,482.5 569,488.4 570,493.9 571,500.4 572,506.6 573,513.1 574,522.2 575,530.5 576,538.3 577,545.9 578,554 579,562.4 580,570.7 581,578.2 582,584.7 583,591.3 584,598.3 585,604.5 586,609.2 587,613.7 588,617.9 589,621.7 590,626.1 591,629.1 592,630.9 593,633 594,634.7 595,636.1 596,637.6 597,638.9 598,640 599,640.6 600,641.1 601,641.8 602,642 603,642.5 604,643 605,643.4 606,643.7 607,643.8 608,643.8 609,643.9 610,643.7 611,643.7 612,643.5 613,643.5 614,643.5 615,643.6 616,643.5 617,643.5 618,643.6 619,643.6 620,643.6 621,643.7 622,643.7 623,643.6 624,643.6 624,645.7 430,646.2" fill="#fff"/><polyline points="430,643.1 431,643 432,643 433,643 434,643.1 435,643 436,643.1 437,643 438,642.9 439,643 440,642.8 441,642.8 442,642.9 443,642.9 444,642.9 445,642.8 446,642.8 447,642.7 448,642.7 449,642.7 450,642.7 451,642.8 452,642.7 453,642.5 454,642.5 455,642.6 456,642.7 457,642.7 458,642.7 459,642.6 460,642.6 461,642.7 462,642.7 463,642.5 464,642.5 465,642.4 466,642.4 467,642.4 468,642.4 469,642.3 470,642.4 471,642.4 472,642.2 473,642.1 474,642.2 475,642.1 476,642 477,642 478,642 479,641.9 480,641.8 481,641.6 482,641.6 483,641.5 484,641.5 485,641.5 486,641.3 487,641.3 488,641.2 489,641.1 490,641 491,640.8 492,640.7 493,640.6 494,640.6 495,640.5 496,640.3 497,640.2 498,640.1 499,640.2 500,639.9 501,639.6 502,639.6 503,639.3 504,639.1 505,638.8 506,638.6 507,638.6 508,638.1 509,638 510,638 511,637.7 512,637.2 513,636.9 514,636.8 515,636.5 516,636.4 517,635.6 518,634.9 519,634.6 520,634.2 521,633.6 522,632.5 523,631.7 524,630.9 525,629.9 526,629.1 527,628 528,626.8 529,625.2 530,624.1 531,623 532,620.6 533,617.8 534,614.5 535,611.7 536,608.8 537,605.8 538,601.9 539,596.1 540,590.4 541,584.5 542,576.5 543,568 544,558.6 545,547.2 546,535 547,523.5 548,513.2 549,502.2 550,491.9 551,486.9 552,482.5 553,481.8 554,483 555,482.8 556,484.7 557,483.1 558,480 559,479.8 560,477 561,471.8 562,468.9 563,467.6 564,468.3 565,470.3 566,473.3 567,477.5 568,482.5 569,488.4 570,493.9 571,500.4 572,506.6 573,513.1 574,522.2 575,530.5 576,538.3 577,545.9 578,554 579,562.4 580,570.7 581,578.2 582,584.7 583,591.3 584,598.3 585,604.5 586,609.2 587,613.7 588,617.9 589,621.7 590,626.1 591,629.1 592,630.9 593,633 594,634.7 595,636.1 596,637.6 597,638.9 598,640 599,640.6 600,641.1 601,641.8 602,642 603,642.5 604,643 605,643.4 606,643.7 607,643.8 608,643.8 609,643.9 610,643.7 611,643.7 612,643.5 613,643.5 614,643.5 615,643.6 616,643.5 617,643.5 618,643.6 619,643.6 620,643.6 621,643.7 622,643.7 623,643.6 624,643.6" fill="none" stroke="#484848" stroke-width="2.2" stroke-linejoin="round"/>
<polygon points="430,657.1 431,657.2 432,657.1 433,657.1 434,657.2 435,657.2 436,657.2 437,657.2 438,657.2 439,657.1 440,657.1 441,657.1 442,657.1 443,657.2 444,657.1 445,657 446,657.2 447,657.2 448,657.1 449,657.1 450,657.1 451,657 452,657 453,656.9 454,656.9 455,656.9 456,656.8 457,656.9 458,656.7 459,656.7 460,656.7 461,656.7 462,656.7 463,656.6 464,656.6 465,656.7 466,656.7 467,656.7 468,656.6 469,656.5 470,656.5 471,656.4 472,656.4 473,656.4 474,656.3 475,656.2 476,656.1 477,656.2 478,656.2 479,656.1 480,656.1 481,656 482,655.8 483,655.7 484,655.6 485,655.6 486,655.6 487,655.5 488,655.3 489,655.3 490,655.4 491,655.2 492,655.4 493,655.4 494,655.2 495,655.1 496,655 497,654.9 498,654.7 499,654.5 500,654.4 501,654.5 502,654.5 503,654.2 504,654.1 505,654 506,653.8 507,653.7 508,653.5 509,653.3 510,653 511,652.8 512,652.7 513,652.4 514,652.3 515,652.5 516,652.6 517,651.9 518,651.4 519,651 520,650.8 521,650.9 522,650.3 523,649.7 524,649.1 525,648.8 526,648.5 527,647.4 528,646.4 529,645.4 530,644.6 531,643.3 532,641.9 533,640.6 534,639.3 535,638.4 536,637.1 537,635 538,633.1 539,631.2 540,628.5 541,625.4 542,622.3 543,618.1 544,613.1 545,608.3 546,602.8 547,595.7 548,588.3 549,579.8 550,570.5 551,559.4 552,547.5 553,535.9 554,524.2 555,513.8 556,505.3 557,499.8 558,496.3 559,493.2 560,493.5 561,495.4 562,495.6 563,494.3 564,493.1 565,491.1 566,487.8 567,484.2 568,479.9 569,478.5 570,479.8 571,481.1 572,485.7 573,490.8 574,495.6 575,499.9 576,505.8 577,512.8 578,517.7 579,525.5 580,534.3 581,541.8 582,550.4 583,558.7 584,567.5 585,576.4 586,584.1 587,592.4 588,599.8 589,606 590,612.1 591,618.2 592,624.1 593,628.8 594,632.7 595,636.9 596,640.5 597,643.3 598,646.2 599,648.3 600,649.9 601,651.4 602,652.7 603,654 604,655 605,655.6 606,656.2 607,656.9 608,657.2 609,657.6 610,657.9 611,657.6 612,657.4 613,657.1 614,657.2 615,657.4 616,657.4 617,657.5 618,657.5 619,657.6 620,657.6 621,657.5 622,657.5 623,657.6 624,657.6 624,660.3 430,659.8" fill="#fff"/><polyline points="430,657.1 431,657.2 432,657.1 433,657.1 434,657.2 435,657.2 436,657.2 437,657.2 438,657.2 439,657.1 440,657.1 441,657.1 442,657.1 443,657.2 444,657.1 445,657 446,657.2 447,657.2 448,657.1 449,657.1 450,657.1 451,657 452,657 453,656.9 454,656.9 455,656.9 456,656.8 457,656.9 458,656.7 459,656.7 460,656.7 461,656.7 462,656.7 463,656.6 464,656.6 465,656.7 466,656.7 467,656.7 468,656.6 469,656.5 470,656.5 471,656.4 472,656.4 473,656.4 474,656.3 475,656.2 476,656.1 477,656.2 478,656.2 479,656.1 480,656.1 481,656 482,655.8 483,655.7 484,655.6 485,655.6 486,655.6 487,655.5 488,655.3 489,655.3 490,655.4 491,655.2 492,655.4 493,655.4 494,655.2 495,655.1 496,655 497,654.9 498,654.7 499,654.5 500,654.4 501,654.5 502,654.5 503,654.2 504,654.1 505,654 506,653.8 507,653.7 508,653.5 509,653.3 510,653 511,652.8 512,652.7 513,652.4 514,652.3 515,652.5 516,652.6 517,651.9 518,651.4 519,651 520,650.8 521,650.9 522,650.3 523,649.7 524,649.1 525,648.8 526,648.5 527,647.4 528,646.4 529,645.4 530,644.6 531,643.3 532,641.9 533,640.6 534,639.3 535,638.4 536,637.1 537,635 538,633.1 539,631.2 540,628.5 541,625.4 542,622.3 543,618.1 544,613.1 545,608.3 546,602.8 547,595.7 548,588.3 549,579.8 550,570.5 551,559.4 552,547.5 553,535.9 554,524.2 555,513.8 556,505.3 557,499.8 558,496.3 559,493.2 560,493.5 561,495.4 562,495.6 563,494.3 564,493.1 565,491.1 566,487.8 567,484.2 568,479.9 569,478.5 570,479.8 571,481.1 572,485.7 573,490.8 574,495.6 575,499.9 576,505.8 577,512.8 578,517.7 579,525.5 580,534.3 581,541.8 582,550.4 583,558.7 584,567.5 585,576.4 586,584.1 587,592.4 588,599.8 589,606 590,612.1 591,618.2 592,624.1 593,628.8 594,632.7 595,636.9 596,640.5 597,643.3 598,646.2 599,648.3 600,649.9 601,651.4 602,652.7 603,654 604,655 605,655.6 606,656.2 607,656.9 608,657.2 609,657.6 610,657.9 611,657.6 612,657.4 613,657.1 614,657.2 615,657.4 616,657.4 617,657.5 618,657.5 619,657.6 620,657.6 621,657.5 622,657.5 623,657.6 624,657.6" fill="none" stroke="#484848" stroke-width="2.2" stroke-linejoin="round"/>
<polygon points="430,673.6 431,673.6 432,673.6 433,673.5 434,673.4 435,673.5 436,673.5 437,673.5 438,673.5 439,673.4 440,673.4 441,673.4 442,673.3 443,673.4 444,673.5 445,673.4 446,673.3 447,673.3 448,673.3 449,673.1 450,673.1 451,673.2 452,673.2 453,673.1 454,673.1 455,673.1 456,672.8 457,672.6 458,672.6 459,672.6 460,672.6 461,672.7 462,672.6 463,672.4 464,672.3 465,672.4 466,672.4 467,672.4 468,672.4 469,672.3 470,672.3 471,672.2 472,672.1 473,672.2 474,672.3 475,672.2 476,672.2 477,672.2 478,672.2 479,672.1 480,672 481,671.9 482,671.8 483,671.8 484,671.8 485,671.8 486,671.7 487,671.6 488,671.7 489,671.6 490,671.6 491,671.6 492,671.3 493,671.2 494,671.3 495,671.5 496,671.6 497,671.4 498,671.5 499,671.3 500,671.1 501,671.1 502,671 503,670.9 504,670.7 505,670.4 506,670 507,669.7 508,669.5 509,669.4 510,669.1 511,669.1 512,669.2 513,669 514,668.6 515,668.5 516,668.4 517,668.2 518,668.2 519,667.8 520,667.4 521,667.3 522,667 523,666.5 524,666.1 525,665.7 526,665.5 527,665.4 528,664.8 529,664.2 530,663.8 531,663.4 532,662.7 533,661.9 534,661.2 535,660.1 536,659.1 537,658 538,656.5 539,655.5 540,654.3 541,653.1 542,652.1 543,650.1 544,647.7 545,645.4 546,642.8 547,639.9 548,636.6 549,632.5 550,627.6 551,622.4 552,617 553,610.3 554,602.7 555,593.9 556,583.9 557,572.4 558,559.4 559,548.1 560,536.9 561,525.8 562,518.1 563,512.2 564,507.4 565,505.4 566,506.1 567,507.6 568,507.2 569,505.2 570,503.8 571,502.1 572,498.7 573,495.8 574,491.6 575,489 576,490.1 577,492.8 578,496.2 579,499.8 580,504.3 581,509.4 582,516.3 583,523.6 584,529.2 585,536.7 586,544.7 587,551.2 588,561.1 589,572.1 590,579.2 591,586.7 592,595.7 593,603.7 594,610.8 595,617.8 596,624.6 597,630.6 598,636.3 599,641.3 600,645.5 601,649.5 602,652.8 603,656.2 604,658.8 605,660.8 606,663.1 607,664.7 608,666.1 609,667.3 610,668.1 611,668.7 612,669.5 613,669.9 614,670.3 615,670.7 616,670.9 617,670.9 618,670.9 619,671.1 620,671.2 621,671.3 622,671.3 623,671.4 624,671.4 624,675.1 430,676.4" fill="#fff"/><polyline points="430,673.6 431,673.6 432,673.6 433,673.5 434,673.4 435,673.5 436,673.5 437,673.5 438,673.5 439,673.4 440,673.4 441,673.4 442,673.3 443,673.4 444,673.5 445,673.4 446,673.3 447,673.3 448,673.3 449,673.1 450,673.1 451,673.2 452,673.2 453,673.1 454,673.1 455,673.1 456,672.8 457,672.6 458,672.6 459,672.6 460,672.6 461,672.7 462,672.6 463,672.4 464,672.3 465,672.4 466,672.4 467,672.4 468,672.4 469,672.3 470,672.3 471,672.2 472,672.1 473,672.2 474,672.3 475,672.2 476,672.2 477,672.2 478,672.2 479,672.1 480,672 481,671.9 482,671.8 483,671.8 484,671.8 485,671.8 486,671.7 487,671.6 488,671.7 489,671.6 490,671.6 491,671.6 492,671.3 493,671.2 494,671.3 495,671.5 496,671.6 497,671.4 498,671.5 499,671.3 500,671.1 501,671.1 502,671 503,670.9 504,670.7 505,670.4 506,670 507,669.7 508,669.5 509,669.4 510,669.1 511,669.1 512,669.2 513,669 514,668.6 515,668.5 516,668.4 517,668.2 518,668.2 519,667.8 520,667.4 521,667.3 522,667 523,666.5 524,666.1 525,665.7 526,665.5 527,665.4 528,664.8 529,664.2 530,663.8 531,663.4 532,662.7 533,661.9 534,661.2 535,660.1 536,659.1 537,658 538,656.5 539,655.5 540,654.3 541,653.1 542,652.1 543,650.1 544,647.7 545,645.4 546,642.8 547,639.9 548,636.6 549,632.5 550,627.6 551,622.4 552,617 553,610.3 554,602.7 555,593.9 556,583.9 557,572.4 558,559.4 559,548.1 560,536.9 561,525.8 562,518.1 563,512.2 564,507.4 565,505.4 566,506.1 567,507.6 568,507.2 569,505.2 570,503.8 571,502.1 572,498.7 573,495.8 574,491.6 575,489 576,490.1 577,492.8 578,496.2 579,499.8 580,504.3 581,509.4 582,516.3 583,523.6 584,529.2 585,536.7 586,544.7 587,551.2 588,561.1 589,572.1 590,579.2 591,586.7 592,595.7 593,603.7 594,610.8 595,617.8 596,624.6 597,630.6 598,636.3 599,641.3 600,645.5 601,649.5 602,652.8 603,656.2 604,658.8 605,660.8 606,663.1 607,664.7 608,666.1 609,667.3 610,668.1 611,668.7 612,669.5 613,669.9 614,670.3 615,670.7 616,670.9 617,670.9 618,670.9 619,671.1 620,671.2 621,671.3 622,671.3 623,671.4 624,671.4" fill="none" stroke="#484848" stroke-width="2.2" stroke-linejoin="round"/>
<line x1="115.6" y1="708.3" x2="632.5" y2="708.3" stroke="#222" stroke-width="3"/>
<line x1="117" y1="708.3" x2="117" y2="701.5" stroke="#222" stroke-width="3"/>
<line x1="218" y1="708.3" x2="218" y2="701.5" stroke="#222" stroke-width="3"/>
<line x1="319" y1="708.3" x2="319" y2="701.5" stroke="#222" stroke-width="3"/>
<line x1="530" y1="708.3" x2="530" y2="701.5" stroke="#222" stroke-width="3"/>
<line x1="631" y1="708.3" x2="631" y2="701.5" stroke="#222" stroke-width="3"/>
<line x1="167.5" y1="708.3" x2="167.5" y2="704.5" stroke="#222" stroke-width="2.5"/>
<line x1="268.5" y1="708.3" x2="268.5" y2="704.5" stroke="#222" stroke-width="2.5"/>
<line x1="369.5" y1="708.3" x2="369.5" y2="704.5" stroke="#222" stroke-width="2.5"/>
<line x1="480" y1="708.3" x2="480" y2="704.5" stroke="#222" stroke-width="2.5"/>
<line x1="581" y1="708.3" x2="581" y2="704.5" stroke="#222" stroke-width="2.5"/>
<line x1="416" y1="717" x2="423" y2="701" stroke="#222" stroke-width="3"/>
<line x1="425" y1="717" x2="432" y2="701" stroke="#222" stroke-width="3"/>
<line x1="112" y1="457.6" x2="112" y2="395" stroke="#4553a6" stroke-width="4.2"/>
<polygon points="112,383.2 117.6,399.6 106.4,399.6" fill="#4553a6"/>
<line x1="110.8" y1="686" x2="110.8" y2="478" stroke="#e8262e" stroke-width="3.8"/>
<polygon points="110.8,466.4 116.3,482 105.3,482" fill="#e8262e"/>
<rect x="117.2" y="817.2" width="515.3" height="386.1" fill="none" stroke="#222" stroke-width="3.3"/>
<line x1="117.2" y1="1171.1" x2="121.2" y2="1171.1" stroke="#222" stroke-width="3"/>
<line x1="117.2" y1="1138.9" x2="124.2" y2="1138.9" stroke="#222" stroke-width="3"/>
<line x1="117.2" y1="1106.7" x2="121.2" y2="1106.7" stroke="#222" stroke-width="3"/>
<line x1="117.2" y1="1074.5" x2="124.2" y2="1074.5" stroke="#222" stroke-width="3"/>
<line x1="117.2" y1="1042.4" x2="121.2" y2="1042.4" stroke="#222" stroke-width="3"/>
<line x1="117.2" y1="1010.2" x2="124.2" y2="1010.2" stroke="#222" stroke-width="3"/>
<line x1="117.2" y1="978.0" x2="121.2" y2="978.0" stroke="#222" stroke-width="3"/>
<line x1="117.2" y1="945.8" x2="124.2" y2="945.8" stroke="#222" stroke-width="3"/>
<line x1="117.2" y1="913.6" x2="121.2" y2="913.6" stroke="#222" stroke-width="3"/>
<line x1="117.2" y1="881.4" x2="124.2" y2="881.4" stroke="#222" stroke-width="3"/>
<line x1="117.2" y1="849.2" x2="121.2" y2="849.2" stroke="#222" stroke-width="3"/>
<line x1="151.2" y1="1203.3" x2="151.2" y2="1199.3" stroke="#222" stroke-width="3"/>
<line x1="185.7" y1="1203.3" x2="185.7" y2="1196.3" stroke="#222" stroke-width="3"/>
<line x1="220.2" y1="1203.3" x2="220.2" y2="1199.3" stroke="#222" stroke-width="3"/>
<line x1="254.7" y1="1203.3" x2="254.7" y2="1196.3" stroke="#222" stroke-width="3"/>
<line x1="289.2" y1="1203.3" x2="289.2" y2="1199.3" stroke="#222" stroke-width="3"/>
<line x1="323.7" y1="1203.3" x2="323.7" y2="1196.3" stroke="#222" stroke-width="3"/>
<line x1="358.2" y1="1203.3" x2="358.2" y2="1199.3" stroke="#222" stroke-width="3"/>
<line x1="392.7" y1="1203.3" x2="392.7" y2="1196.3" stroke="#222" stroke-width="3"/>
<line x1="427.2" y1="1203.3" x2="427.2" y2="1199.3" stroke="#222" stroke-width="3"/>
<line x1="461.7" y1="1203.3" x2="461.7" y2="1196.3" stroke="#222" stroke-width="3"/>
<line x1="496.2" y1="1203.3" x2="496.2" y2="1199.3" stroke="#222" stroke-width="3"/>
<line x1="530.7" y1="1203.3" x2="530.7" y2="1196.3" stroke="#222" stroke-width="3"/>
<line x1="565.2" y1="1203.3" x2="565.2" y2="1199.3" stroke="#222" stroke-width="3"/>
<line x1="599.7" y1="1203.3" x2="599.7" y2="1196.3" stroke="#222" stroke-width="3"/>
<polyline points="133.5,1164.9 185.7,1126.2 220.0,1093.8 254.0,1087.9 288.4,1065.3 323.0,1029.3 357.0,1011.3 392.2,1000.8 426.7,970.0 461.0,957.2 495.5,943.5 529.2,906.7 563.5,882.0 598.9,859.5" fill="none" stroke="#e8262e" stroke-width="8.5" stroke-linejoin="round"/>
<polygon points="133.5,1152.7 145.7,1164.9 133.5,1177.1 121.3,1164.9" fill="#fff" stroke="#e8262e" stroke-width="3.4"/>
<polygon points="185.7,1114.0 197.9,1126.2 185.7,1138.4 173.5,1126.2" fill="#fff" stroke="#e8262e" stroke-width="3.4"/>
<path d="M185.7 1120.2V1132.2M182.2 1120.2h7M182.2 1132.2h7" stroke="#e8262e" stroke-width="1.8" fill="none"/>
<polygon points="220.0,1081.6 232.2,1093.8 220.0,1106.0 207.8,1093.8" fill="#fff" stroke="#e8262e" stroke-width="3.4"/>
<polygon points="254.0,1075.7 266.2,1087.9 254.0,1100.1 241.8,1087.9" fill="#fff" stroke="#e8262e" stroke-width="3.4"/>
<path d="M254.0 1080.9V1094.9M250.5 1080.9h7M250.5 1094.9h7" stroke="#e8262e" stroke-width="1.8" fill="none"/>
<polygon points="288.4,1053.1 300.6,1065.3 288.4,1077.5 276.2,1065.3" fill="#fff" stroke="#e8262e" stroke-width="3.4"/>
<path d="M288.4 1058.3V1072.3M284.9 1058.3h7M284.9 1072.3h7" stroke="#e8262e" stroke-width="1.8" fill="none"/>
<polygon points="323.0,1017.1 335.2,1029.3 323.0,1041.5 310.8,1029.3" fill="#fff" stroke="#e8262e" stroke-width="3.4"/>
<path d="M323.0 1013.3V1045.3M319.5 1013.3h7M319.5 1045.3h7" stroke="#e8262e" stroke-width="1.8" fill="none"/>
<polygon points="357.0,999.1 369.2,1011.3 357.0,1023.5 344.8,1011.3" fill="#fff" stroke="#e8262e" stroke-width="3.4"/>
<polygon points="392.2,988.6 404.4,1000.8 392.2,1013.0 380.0,1000.8" fill="#fff" stroke="#e8262e" stroke-width="3.4"/>
<polygon points="426.7,957.8 438.9,970.0 426.7,982.2 414.5,970.0" fill="#fff" stroke="#e8262e" stroke-width="3.4"/>
<polygon points="461.0,945.0 473.2,957.2 461.0,969.4 448.8,957.2" fill="#fff" stroke="#e8262e" stroke-width="3.4"/>
<polygon points="495.5,931.3 507.7,943.5 495.5,955.7 483.3,943.5" fill="#fff" stroke="#e8262e" stroke-width="3.4"/>
<polygon points="529.2,894.5 541.4,906.7 529.2,918.9 517.0,906.7" fill="#fff" stroke="#e8262e" stroke-width="3.4"/>
<polygon points="563.5,869.8 575.7,882.0 563.5,894.2 551.3,882.0" fill="#fff" stroke="#e8262e" stroke-width="3.4"/>
<polygon points="598.9,847.3 611.1,859.5 598.9,871.7 586.7,859.5" fill="#fff" stroke="#e8262e" stroke-width="3.4"/>
<polyline points="323.4,1139.4 357.6,1093.6 391.0,1051.7 426.0,1029.6 460.8,1006.0 494.4,934.8 528.6,929.8 563.6,897.1 598.8,887.7" fill="none" stroke="#3f4fa8" stroke-width="7.3" stroke-linejoin="round"/>
<circle cx="323.4" cy="1139.4" r="9.7" fill="#fff" stroke="#3f4fa8" stroke-width="4"/>
<path d="M323.4 1134.4V1144.4M319.9 1134.4h7M319.9 1144.4h7" stroke="#3f4fa8" stroke-width="1.8" fill="none"/>
<circle cx="357.6" cy="1093.6" r="9.7" fill="#fff" stroke="#3f4fa8" stroke-width="4"/>
<path d="M357.6 1088.6V1098.6M354.1 1088.6h7M354.1 1098.6h7" stroke="#3f4fa8" stroke-width="1.8" fill="none"/>
<circle cx="391.0" cy="1051.7" r="9.7" fill="#fff" stroke="#3f4fa8" stroke-width="4"/>
<path d="M391.0 1046.7V1056.7M387.5 1046.7h7M387.5 1056.7h7" stroke="#3f4fa8" stroke-width="1.8" fill="none"/>
<circle cx="426.0" cy="1029.6" r="9.7" fill="#fff" stroke="#3f4fa8" stroke-width="4"/>
<path d="M426.0 1024.6V1034.6M422.5 1024.6h7M422.5 1034.6h7" stroke="#3f4fa8" stroke-width="1.8" fill="none"/>
<circle cx="460.8" cy="1006.0" r="9.7" fill="#fff" stroke="#3f4fa8" stroke-width="4"/>
<path d="M460.8 1001.0V1011.0M457.3 1001.0h7M457.3 1011.0h7" stroke="#3f4fa8" stroke-width="1.8" fill="none"/>
<circle cx="494.4" cy="934.8" r="9.7" fill="#fff" stroke="#3f4fa8" stroke-width="4"/>
<path d="M494.4 929.8V939.8M490.9 929.8h7M490.9 939.8h7" stroke="#3f4fa8" stroke-width="1.8" fill="none"/>
<circle cx="528.6" cy="929.8" r="9.7" fill="#fff" stroke="#3f4fa8" stroke-width="4"/>
<path d="M528.6 924.8V934.8M525.1 924.8h7M525.1 934.8h7" stroke="#3f4fa8" stroke-width="1.8" fill="none"/>
<circle cx="563.6" cy="897.1" r="9.7" fill="#fff" stroke="#3f4fa8" stroke-width="4"/>
<path d="M563.6 892.1V902.1M560.1 892.1h7M560.1 902.1h7" stroke="#3f4fa8" stroke-width="1.8" fill="none"/>
<circle cx="598.8" cy="887.7" r="9.7" fill="#fff" stroke="#3f4fa8" stroke-width="4"/>
<path d="M598.8 882.7V892.7M595.3 882.7h7M595.3 892.7h7" stroke="#3f4fa8" stroke-width="1.8" fill="none"/>
<text transform="translate(117.00,742.60) scale(1.0300,1)" font-family="Liberation Sans, sans-serif" font-size="29.2" fill="#222" text-anchor="middle">32</text>
<text transform="translate(218.00,742.60) scale(1.0300,1)" font-family="Liberation Sans, sans-serif" font-size="29.2" fill="#222" text-anchor="middle">33</text>
<text transform="translate(319.00,742.60) scale(1.0300,1)" font-family="Liberation Sans, sans-serif" font-size="29.2" fill="#222" text-anchor="middle">34</text>
<text transform="translate(429.00,742.60) scale(1.0300,1)" font-family="Liberation Sans, sans-serif" font-size="29.2" fill="#222" text-anchor="middle">55</text>
<text transform="translate(530.00,742.60) scale(1.0300,1)" font-family="Liberation Sans, sans-serif" font-size="29.2" fill="#222" text-anchor="middle">56</text>
<text transform="translate(631.00,742.60) scale(1.0300,1)" font-family="Liberation Sans, sans-serif" font-size="29.2" fill="#222" text-anchor="middle">57</text>
<text transform="translate(312.50,769.50) scale(1.0500,1)" font-family="Liberation Sans, sans-serif" font-size="25.7" fill="#222">2θ [Cu K<tspan font-size="18" dy="7">α</tspan><tspan dy="-7">]</tspan></text>
<text transform="translate(121.50,95.50) scale(1.0200,1)" font-family="Liberation Sans, sans-serif" font-size="37.7" fill="#222">(a)</text>
<text transform="translate(634.50,402.00) scale(1.0000,1)" font-family="Liberation Sans, sans-serif" font-size="28.5" fill="#4b509e">25 °C</text>
<text transform="translate(632.50,453.30) scale(1.0000,1)" font-family="Liberation Sans, sans-serif" font-size="28.5" fill="#4b509e">500 °C</text>
<text transform="translate(633.60,478.60) scale(1.0000,1)" font-family="Liberation Sans, sans-serif" font-size="28.5" fill="#222">700°C</text>
<text transform="translate(634.00,619.70) scale(1.0000,1)" font-family="Liberation Sans, sans-serif" font-size="28.5" fill="#222">200°C</text>
<text transform="translate(631.50,667.00) scale(1.0000,1)" font-family="Liberation Sans, sans-serif" font-size="28.5" fill="#222">60°C</text>
<text transform="translate(632.50,690.80) scale(1.0000,1)" font-family="Liberation Sans, sans-serif" font-size="28.5" fill="#222">25°C</text>
<text transform="translate(98.80,458.00) rotate(-90) scale(1.0000,1)" font-family="Liberation Sans, sans-serif" font-size="31.8" fill="#222">Cooling</text>
<text transform="translate(98.60,639.20) rotate(-90) scale(1.0000,1)" font-family="Liberation Sans, sans-serif" font-size="32.7" fill="#222">Heating</text>
<text transform="translate(290.50,691.50) rotate(-90) scale(1.0000,1)" font-family="Liberation Sans, sans-serif" font-size="31.0" fill="#e8343a">(111)</text>
<text transform="translate(303.60,619.00) rotate(-90) scale(0.8800,1)" font-family="Liberation Sans, sans-serif" font-size="22" fill="#e8343a">Li2O</text>
<text transform="translate(577.80,699.00) rotate(-90) scale(1.0000,1)" font-family="Liberation Sans, sans-serif" font-size="31.5" fill="#e8343a">(220)</text>
<text transform="translate(590.50,625.50) rotate(-90) scale(0.8900,1)" font-family="Liberation Sans, sans-serif" font-size="21" fill="#e8343a">Li2O</text>
<text transform="translate(110.30,1211.50) scale(1.0200,1)" font-family="Liberation Sans, sans-serif" font-size="31.8" fill="#222" text-anchor="end">4.60</text>
<text transform="translate(110.30,1147.12) scale(1.0200,1)" font-family="Liberation Sans, sans-serif" font-size="31.8" fill="#222" text-anchor="end">4.62</text>
<text transform="translate(110.30,1082.74) scale(1.0200,1)" font-family="Liberation Sans, sans-serif" font-size="31.8" fill="#222" text-anchor="end">4.64</text>
<text transform="translate(110.30,1018.36) scale(1.0200,1)" font-family="Liberation Sans, sans-serif" font-size="31.8" fill="#222" text-anchor="end">4.66</text>
<text transform="translate(110.30,953.98) scale(1.0200,1)" font-family="Liberation Sans, sans-serif" font-size="31.8" fill="#222" text-anchor="end">4.68</text>
<text transform="translate(110.30,889.60) scale(1.0200,1)" font-family="Liberation Sans, sans-serif" font-size="31.8" fill="#222" text-anchor="end">4.70</text>
<text transform="translate(110.30,825.22) scale(1.0200,1)" font-family="Liberation Sans, sans-serif" font-size="31.8" fill="#222" text-anchor="end">4.72</text>
<text transform="translate(116.70,1234.60) scale(1.0000,1)" font-family="Liberation Sans, sans-serif" font-size="31.8" fill="#222" text-anchor="middle">0</text>
<text transform="translate(185.70,1234.60) scale(1.0000,1)" font-family="Liberation Sans, sans-serif" font-size="31.8" fill="#222" text-anchor="middle">100</text>
<text transform="translate(254.70,1234.60) scale(1.0000,1)" font-family="Liberation Sans, sans-serif" font-size="31.8" fill="#222" text-anchor="middle">200</text>
<text transform="translate(323.70,1234.60) scale(1.0000,1)" font-family="Liberation Sans, sans-serif" font-size="31.8" fill="#222" text-anchor="middle">300</text>
<text transform="translate(392.70,1234.60) scale(1.0000,1)" font-family="Liberation Sans, sans-serif" font-size="31.8" fill="#222" text-anchor="middle">400</text>
<text transform="translate(461.70,1234.60) scale(1.0000,1)" font-family="Liberation Sans, sans-serif" font-size="31.8" fill="#222" text-anchor="middle">500</text>
<text transform="translate(530.70,1234.60) scale(1.0000,1)" font-family="Liberation Sans, sans-serif" font-size="31.8" fill="#222" text-anchor="middle">600</text>
<text transform="translate(599.70,1234.60) scale(1.0000,1)" font-family="Liberation Sans, sans-serif" font-size="31.8" fill="#222" text-anchor="middle">700</text>
<text transform="translate(272.00,1271.10) scale(1.0000,1)" font-family="Liberation Sans, sans-serif" font-size="32.0" fill="#222">Temp. [°C]</text>
<text transform="translate(30.80,1115.50) rotate(-90) scale(1.0000,1)" font-family="Liberation Sans, sans-serif" font-size="31.3" fill="#222">Lattice Param. [Å]</text>
<text transform="translate(125.00,851.80) scale(1.0200,1)" font-family="Liberation Sans, sans-serif" font-size="34" fill="#222">(b)</text>
<text transform="translate(261.00,913.80) scale(1.0600,1)" font-family="Liberation Sans, sans-serif" font-size="31" fill="#e8343a">Commercial</text>
<text transform="translate(262.00,952.80) scale(1.0430,1)" font-family="Liberation Sans, sans-serif" font-size="31" fill="#e8343a">Li<tspan font-size="22" dy="12">2</tspan><tspan dy="-12">O heated</tspan></text>
<text transform="translate(383.00,1109.50) scale(1.0480,1)" font-family="Liberation Sans, sans-serif" font-size="31" fill="#3f4fa8">Li<tspan font-size="22" dy="13">2</tspan><tspan dy="-13">O from phase</tspan></text>
<text transform="translate(383.50,1160.00) scale(1.0350,1)" font-family="Liberation Sans, sans-serif" font-size="31" fill="#3f4fa8">transf. of Li<tspan font-size="22" dy="13">2</tspan><tspan dy="-13">O</tspan><tspan font-size="22" dy="13">2</tspan></text>
</svg>
</body></html>
